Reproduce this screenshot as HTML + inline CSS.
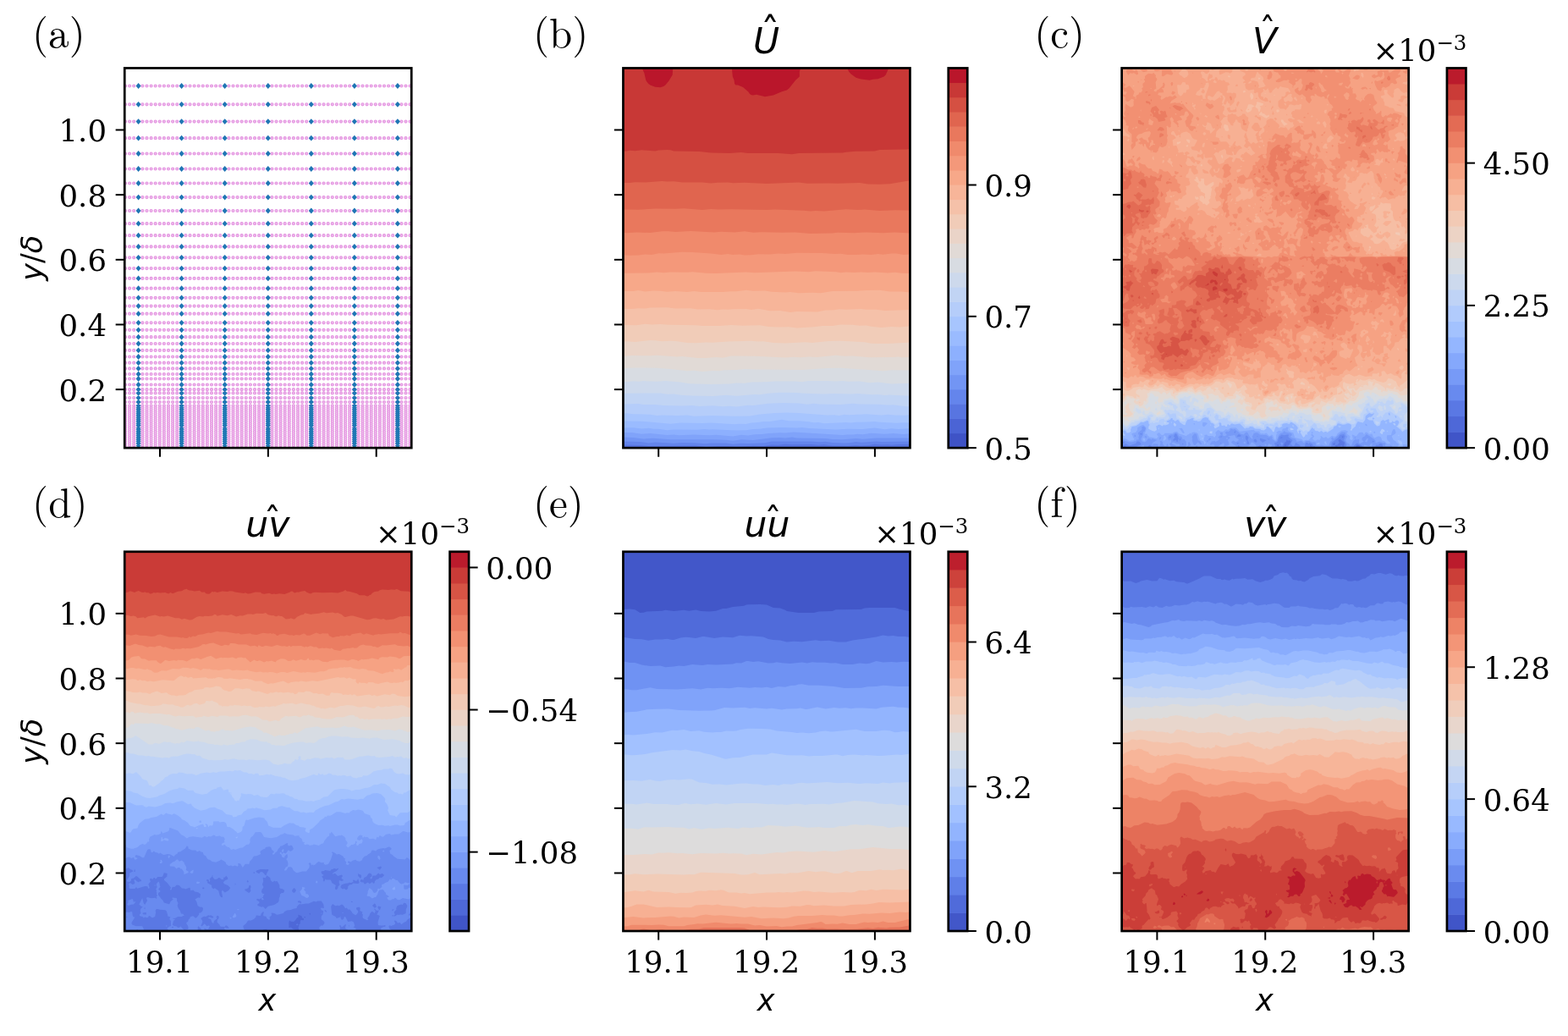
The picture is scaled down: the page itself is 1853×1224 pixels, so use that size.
<!DOCTYPE html>
<html><head><meta charset="utf-8"><title>figure</title>
<style>html,body{margin:0;padding:0;background:#fff;}svg{display:block;}</style>
</head><body>
<svg width="1853" height="1224" viewBox="0 0 1853 1224">
<rect width="1853" height="1224" fill="#fff"/>
<clipPath id="cb"><rect x="736.45" y="80.45" width="339.00" height="448.70"/></clipPath>
<g clip-path="url(#cb)">
<rect x="736.45" y="80.45" width="339.00" height="448.70" fill="#5875e1"/>
<path fill="#6485ec" fill-rule="evenodd" d="M736.4 80.4l339 0 0 444.4-13.9 .2-8 .7-4-.4-7.9 .3-8-.9-6 1.2-10 .5-6-.3-9.9 .6-18-.2-9.9-1.3-6 .5-10-.7-21.9 .3-8-.5-8 .9-8-.2-9.9 1.6-12-.4-19.9 1.1-10-.8-12 .1-13.9 .8-12-1.3-55.8 .3-10-.9-20-.6z"/>
<path fill="#7295f4" fill-rule="evenodd" d="M736.4 80.4l339 0 0 441-33.8 .7-6-.7-18 1.4-6-.7-7.9 1.2-6 .2-14-.5-8-1.2-5.9 .5-12-.7-45.9 0-7.9 1.6-20 .8-8-.3-9.9 1-8-1.1-18-.1-5.9 .8-14-1-14-.3-9.9 .8-22-1.3-7.9 .9-10-1.3-20-.7z"/>
<path fill="#80a3fa" fill-rule="evenodd" d="M736.4 80.4l339 0 0 437.2-39.8-.2-16 1.3-8-.6-15.9 1.2-12-.4-8-1-33.9-.5-5.9-.8-8 .9-6-.5-10 .2-21.9 2.8-14-.7-9.9 1.4-8-.9-14-.5-51.8 0-20-1.5-11.9 .6-12-1.4-12-.5z"/>
<path fill="#8db0fe" fill-rule="evenodd" d="M736.4 80.4l339 0 0 431.8-7.9 .9-12-1.2-10 .9-15.9-1-10 1.5-6-.5-6 .8-5.9-.2-6 .6-57.8-3.4-10 1-6-.4-14 .9-7.9 1-8 .1-8 1.3-8-.8-9.9 1.8-20-1.7-7.9 .5-18-.7-17.9 .6-6-.7-8 .4-19.9-1.9-10 .8-12-1.7-10-.1z"/>
<path fill="#9abbff" fill-rule="evenodd" d="M736.4 80.4l339 0 0 425.8-13.9 .7-8-.6-8 1-11.9-1.9-14 1.6-17.9-.2-14 .6-31.9-1.4-8-1-6 .4-17.9-.5-17.9 .6-8 1.3-8 .1-8 1.3-11.9 .3-28-1.2-3.9 .3-6-.6-8 .7-27.9-.2-8 .7-10-1.5-6 .1-5.9-1.1-8 .9-10-1.4-12 .2z"/>
<path fill="#a7c5fe" fill-rule="evenodd" d="M736.4 80.4l339 0 0 419.1-7.9-.3-8 .6-19.9-1.1-6-.8-8 .7-14 .2-5.9 .7-6-.4-25.9 1.1-6-1.3-6 .4-6-1.1-12-1-11.9 0-8-1.4-14 2.2-7.9 .1-6 1-8 .4-6.6 1.6-7.4-.4-5.9 .6-28-1.7-9.9 .5-26-.6-11.9 1.2-33.9-2.9-22-.3z"/>
<path fill="#b5cdfa" fill-rule="evenodd" d="M736.4 80.4l339 0 0 409.7-5.9 .6-12-.1-8-.8-7.9 .6-18-1.1-19.9 .9-6-.5-6 1.4-6-.9-8 .4-33.9-2.7-13.9-.3-14 .4-17.9 1.4-12 2.1-17.9 .2-26-.6-21.9 .6-8-1.2-11.9 .4-18-.3-6 .4-7.9-1.3-20-.4-8-1.1-4 .2z"/>
<path fill="#c1d4f4" fill-rule="evenodd" d="M736.4 80.4l339 0 0 399.8-3.9 .1-16-2.1-6 .4-11.9-.8-22-.2-8-.8-13.9 1.3-25.9-.5-6-.8-8 .9-10-1.3-17.9-.5-18 .9-17.9 2.1-6-.2-13.9 1.7-8-.6-8 .5-12-1-15.9 .6-8-.8-12 .4-21.9-.6-10-1-13.9 0-6-.8-18 .3z"/>
<path fill="#cdd9ec" fill-rule="evenodd" d="M736.4 80.4l339 0 0 387.4-23.9-1.2-6 .4-7.9-.9-6 .1-18-1.1-7.9 .4-20-.5-11.9 .6-24-.8-8-.9-19.9-.2-14 1-9.9 1.5-6-.3-21.9 1.8-12-1-16 1.2-23.9-.4-14-.7-7.9-1.2-8 .2-8-1.3-43.9 .2z"/>
<path fill="#d8dce2" fill-rule="evenodd" d="M736.4 80.4l339 0 0 372.4-21.9 .6-15.9-1.9-10 .7-12-1.7-13.9 .3-6-.7-8 .5-10-.7-21.9 .2-8 1.2-8-.7-23.9-.1-11.9 .8-16 .2-8 1.2-9.9-.1-8 .9-22 .4-25.9-.7-10-1.7-17.9-1.6-10 .8-15.9-.6-6 .7-6-.6-8 1-3.9-.1z"/>
<path fill="#e1dad6" fill-rule="evenodd" d="M736.4 80.4l339 0 0 357.2-21.9-.3-10 .9-49.8-3.4-16 .2-29.9 1.9-53.8-.3-14-.7-9.9 1-14 .4-6 1-8-.4-11.9 1.1-10-1.2-8 .4-19.9-2.3-16-1.1-25.9-.4-10 .6-4 .7z"/>
<path fill="#ead4c8" fill-rule="evenodd" d="M736.4 80.4l339 0 0 341.7-9.9 .1-4-.6-6 .5-27.9 .2-20-1.9-9.9 .4-10-1.1-21.9 2.2-10-.4-10 .8-7.9-.5-10 .7-35.9-1.8-27.9-.1-10 2.1-8-.8-11.9 1.2-10-.1-18-1.9-5.9 .3-24-1.7-7.9 .5-22-.1-10 .6z"/>
<path fill="#f1ccb8" fill-rule="evenodd" d="M736.4 80.4l339 0 0 324.1-25.9 1.6-11.9 0-8-.4-8-1.5-27.9-1.5-14 .4-19.9 1.9-8-.8-23.9 1.2-14-.3-11.9-1.9-6 .4-8-.8-27.9 .7-18 1.3-7.9-.2-12 .6-10-.3-13.9-2-6-.2-10 .6-8-1-5.9-.2-18 1.8-10-.6-4 .5z"/>
<path fill="#f5c1a9" fill-rule="evenodd" d="M736.4 80.4l339 0 0 304.9-11.9 1.3-10-.5-11.9 .8-12-1.1-6-1.2-8 .1-8-.9-13.9-.3-10 1.6-11.9-.1-10 1.3-20 1.1-9.9-1.1-12 .3-12-.6-9.9-1.7-20 .4-13.9-.8-14 1.1-19.9 .1-8-.9-31.9-.4-10-.8-10 .6-7.9-.9-10 1.6-16-.2z"/>
<path fill="#f7b599" fill-rule="evenodd" d="M736.4 80.4l339 0 0 285.6-29.9 1-9.9-1.3-12 0-6-.7-17.9 .7-8-.4-6 .9-10 .4-9.9 1.8-24-.4-7.9 1.1-12-2-12 .1-13.9-2.4-8 1.1-6-.9-15.9 .2-6 .5-6-.2-6 .8-9.9-1.1-14 .2-8-1.1-17.9 .3-10-1.3-19.9 .3-6 .9-8-.3-8 .9-10-.1z"/>
<path fill="#f7a889" fill-rule="evenodd" d="M736.4 80.4l339 0 0 265.1-9.9-1.1-14 .1-11.9-1.7-16 .1-10 .8-29.9 .2-13.9 2.3-10-.4-16 .4-9.9-1.1-6 .4-16-.7-7.9-1.3-14 .2-8-.9-11.9 1.5-6-.1-10 .9-25.9-.1-8-.9-8 .9-13.9-.9-10 .6-8-.9-8-.2-9.9 .8-8-1.4-6 1-12 0z"/>
<path fill="#f4987a" fill-rule="evenodd" d="M736.4 80.4l339 0 0 242.5-9.9-.1-8-1-8 .6-15.9-.8-8 .5-8-.6-8 .4-9.9-.4-6 .8-6-1.1-23.9-.9-8 .9-16-.7-47.8 1.8-10-.7-35.9 1.3-11.9-.1-16-1.5-6 .5-19.9-.3-8 .8-8-.8-9.9 1-30 .3z"/>
<path fill="#f08a6c" fill-rule="evenodd" d="M736.4 80.4l339 0 0 220.2-7.9 .3-8-1.3-6 0-10 1.2-5.9-.8-8 1.1-10-.5-8 .5-9.9-.2-8-1.2-8 .4-13.9-1-30-.4-13.9 1.3-8-.4-10 .9-13.9-.3-8 1-8 .2-6-.8-7.9 .3-6-.8-8 .8-12-1.4-21.9-1.5-12-.2-21.9 1.7-6-.3-7.9 1.7-8-.4-8 1-10 .2-8-.5z"/>
<path fill="#e9785d" fill-rule="evenodd" d="M736.4 80.4l339 0 0 195.1-17.9-1-14 .7-19.9-.8-14 .8-19.9-.5-6 .7-25.9 .6-18-1.6-15.9 .4-23.9-.6-10 .6-10-1.5-11.9 1.1-16-.6-8 .6-27.9-1.3-17.9 .9-8-.7-8 0-13.9 1.8-16-.6-12 .7-4-.7z"/>
<path fill="#e0654f" fill-rule="evenodd" d="M736.4 80.4l339 0 0 168.1-17.9-.2-17.9 .7-18-1.4-8 .4-13.9-.8-25.9 2.3-10-.5-6 .5-8-.8-33.9-1.2-9.9 .4-41.9-.7-16 .4-8-.6-9.9 1.1-22-1.9-9.9 .6-24-.3-19.9 1.3-18-.2z"/>
<path fill="#d55042" fill-rule="evenodd" d="M736.4 80.4l339 0 0 132.9-23.9 4-11.9 .4-14-.3-10-1.5-25.9 .9-10-.4-25.9 .4-10-1.2-37.8 1.3-26-1.2-13.9 .5-6-.6-12 .1-8 .7-9.9-.9-24 .1-9.9-1.4-8 .3-6-.4-19.9 1.4-12-.2-6 .7-8 0z"/>
<path fill="#c83836" fill-rule="evenodd" d="M736.4 80.4l339 0 0 95.5-3.9 .7-31.9 .4-6 1.6-22 .1-11.9 1-4 .9-51.9 .3-7.9 1.4-16-1.2-35.9 0-8-1-13.9 .8-22-.3-13.9-1.5-29.9-.5-4-1.4-4-.3-10 .7-4 .8-15.9-1.1-8 1-6-.6-3.8 .9-4.2 .1z"/>
<path fill="#ba162b" fill-rule="evenodd" d="M759.5 80.4l35.7 0-.5 8.1-4.4 7.3-4 4.6-2 1.5-4 1.4-6-.6-5.9-2.1-2-1.5-2.1-2.6-1.1-2-1.8-8-1.8-4zM864.9 80.4l81.5 0-1.6 4.1 .1 6-4.5 4-8 10-2.6 2-5.9 1.8-10 4.1-9.9 1.9-10-2.6-4 .9-2-.3-2-1.4-1.6-2.4-6.4-5.4-6-2.7-2.6 .1-1.3-1.4-.6-4.6-1.7-4zM1001.1 80.4l49.2 0-3.6 8.1-2.1 2-7 2.8-6 .5-4 1-12-1.7-4-1.4-5.9-4.1-2.6-3.1z"/>
</g>
<clipPath id="cc"><rect x="1325.65" y="80.45" width="339.00" height="448.70"/></clipPath>
<g clip-path="url(#cc)">
<rect x="1325.65" y="80.45" width="339.00" height="448.70" fill="#4e68d8"/>
<path fill="#5a78e4" fill-rule="evenodd" d="M1325.6 80.4l339 0 0 448.8-339 0zM1519.2 525.1l-1.1 1 1.1 .9 .8-.9z"/>
<path fill="#688aef" fill-rule="evenodd" d="M1325.6 80.4l339 0 0 448.8-59.4 0 2-1.6-1-1.5-1.6-.3-1.4 .3-.9 1.5 .8 1.6-51.8 0-2-1.6 .3-1.5-.4-.5-1.3 .5 1 1.5-.4 1.6-3.9-1-.4 1-22.6 0 0-1.6 2-2.2 1.8-3.8-1.8-1.6-1.4 .7-1.6-1.5-.6 2.4-1.8 1.5-1.6 3-.3 1.5 1.9 1.6-188.7 0 1.2-1.6-.5-1.3-4.6 2.3zM1508.7 525.7l1.5 1.9 1.2-1.5-1.2-1zM1513.2 517l0 .8 2.6-.7-1.2-.6zM1577.6 522.7l-2.7 1.9 1.3 1.4 1.4-.6zM1581.4 520.1l1.5 3-2.3 2.4-2.8 .6 .5 1.5 .9 .5 3-1 1.4 .3 1.6-1.3 1.4 1.5 1.5 .3 1-4.8-5.5-4zM1585.5 515.6l1.1 1.8 .7-.3 .3-1.5z"/>
<path fill="#779af7" fill-rule="evenodd" d="M1325.6 80.4l339 0 0 448.8-30.5 0-.1-3.1-.7-1.5-1.7-.5-1.5 .2-1.5 1.8-1.4-.9-1.2 .9-.7 1.5 1.7 1.6-2.3-.1-.5-.7-.6 .8-15.3-.1 1.3-1.5-.9-1.5-3.7-1.5-.4-.8-1.4-.1-3 2.7-.7 1.2 .7 1.6-11 0 2.2-3.1-1.1-3-2.2-3 1.5-4.5-1.4-2.5-4.6 .7-2 3.3-7.9 6-.5 5.1 3-.6 .9 1.6-11.8 0-2.7-1.2-2.6 1.2-6.7 0 .8-1.6-.5-.8-1.4 .2-1.3-2.4-3.3-1.6-1.4 1.7-.9-1.6-2.1 0-1.1 3 .4 3.1-6 0-.1-3.1-5.2-3-1.2 3-1.8 1.1-2.9-2.6 2.2-4.5-4.4-3-.8-1.5 .8-1.5-.9-.8-4.6 .9-3-.6-3 2.1-1.8 5.9-1.2 1.1-2.3 .4-.1 1.5 1.2 3-1.7 1.6-12.1-.3-4.4-2.8-3 1.7-.7 1.4-112.3 0 .4-1.7-2.5 1.7-9.7 0-.5-1.6-2.3-2.1-2.2 2.1 .9 1.6-16.2 0 4.1-2.8 2-.3 1.4-1.5-2-2.7-1.4-.5-1.6 .3-1.4 2.2-6 2.2-1.6 .3-4.4-2.3-4.6 2.9 0-4.9 1.6 1.5 1.4 .4 .4-.9-1.8-1.6-1.6-.2zM1348.2 511.7l-1 .9 1 1.1 1.4-.4 0-1.1zM1382.6 515.4l-1.1 1.7 1.1 .5 1.8-2zM1388.6 512.5l-1.5 3.1 1.5 1.5-2.7 3 1.3 .6 3.1-.6-.5 1.5 1.8 .4 .5-.4-.3-1.5 1.1-1.5-2.6-6zM1394.6 518l-1 .6 1 2.3 .7-2.3zM1397.6 523.7l-.5 .9 .5 .9 1.1-.9zM1442.6 515.4l0 1.9 1.8-1.7zM1459.2 509.4l-.8 1.7 .8 .9 1.3-2.4zM1463.6 513.1l-1.9 2.5 .5 .6 4.4-.6-.4-1.5zM1472.6 514.5l-.7 1.1 0 3 2 3-.4 3 2.1 .5 .5-2-1.8-3 1.1-3-1.2-1.9zM1483.2 518.5l-1.7 1.6 .3 1.5 2.8 1.4 .9-1.4-.3-1.5zM1484.6 515.5l1.6 .8 .5-.7zM1489.2 517.8l-.4 2.3 3.4 2.8 4.5-2.8zM1497 518.6l2.6 .9 1.7-.9zM1622.6 520.6l-1.1 1 1.1 1.2 1.3-1.2zM1441.5 523.1l1.1 .7 .9-.7zM1461.5 523.1l.7 1.9 2.3-1.9zM1463.6 525.5l-.7 2.1 .7 1 1.3-1zM1513.1 523.1l1.5-.5 1.6 1.2 .2 .8-1.8 2z"/>
<path fill="#85a8fc" fill-rule="evenodd" d="M1325.6 80.4l339 0 0 448.8-19.1 0-.3-1.6-1.6-1.6-1.4 1.1-4.6 .2-1-1.2 1.1-1.5-1.5-1.7-1.6 .4-4.4-1.6-4.6 1.8-.4-3.4-7-5.2-2.3-.8-.7-1.6-2.5 3.1-3 1.5-.2 3 2.2 1.5-4.1 2.3-1.6-.8 .2-4.1-3 .6-1.6-.6-2.7 2.6-1.7 4.6-1.6 .3-1.2-1.9-2.7-1.5-1.5-3 2.1-4.5-1.1-.7-1.2-2.3 .4-1.5-3.8-.7-1.4 .4-7.6 7-1.4 .5-1.6-1.8-.9 .6-.5 1.5 1.2 1.5-2 1.5-2.2 5-4.6 .2-4.4-1.2-1.6 1.2-3-.2-1.4-.8-.6-1.2 .6-1.5-3-.9-1.6 .4-3-1.7-4.4 .2-1.6 2.1-1.4-.2-1.6-1.7-1.4-.6-4.6 1.3-1.6-3.4-5.2-1.5-.8-1.5 1.7-1.5-.2-1.5-1.3-.9-6-1.2-1.6-1.5-1.4 2.2-3 .9-1.8 2-2.8 6.7-1.4 .7-3.9-2.9 .3-1.5-1-1.8-3 .9-3-2.2-7.4-.3-3-2.2-1.6-.3-3 .8-.6 2.1-1.4 1.5 .9 1.5-.3 1.8-3-2.4-3-5.6-1.6-.4-3 2.9-3.7-.8-6.7-5.9-1.6 .9-3-1.2-.6 .2 .1 1.5-1.6 1.5-.9 .6-1.5-.7-2.6 1.6 2.5 3-2.8 1.1-1.6-.3-.7-.8-.1-3-3.3 0 1.3 3-1.6 .7-1.7 2.3 2 1.5-1.3 1.5-3.6 1.8-1.4-1.2-1.6 .8-1.4-.2-2.1 3.3 .5 1.1 3-.9 1.7 1.3-.1 2.3-1.6 .7-3-1.8-1.5 1.9-9.3 0-1.2-1.1-1.4 .1-.5 1-1.9 0 .8-1.6-1.4-1.4-1.4 1.4-.3 1.6-12.1 0 1.7-3.1-.5-4.5-2.4-2.8-1.6 .7-1.4-3.7-3-.2-1.4-3-1.6-1.3-1.6 .1-3 2.2-1.4-.4-2.8 .9-1.6 3 1.4 3.7 1.4-1.2 1.6-.1 0 3.2-2.2 1.9 3 4.6-8.6 0 1.8-1.4 1.4 .4 1-.6-.5-3-1 0-.9 2.4-1.6 .3-2.7-2.7 .5-1.5-2.2-2.7-1.6 1.2 1 1.5-1 3-1.4 1.9-.9-3.4-.7-.2-4.4-.2-.7 .4 0 1.5-.9 .3-.2-1.8 1-1.5 3.8-2.7 1.4-.3-6-1.8-1.4 1.4-.7-1.1-2.3-.7-3 3.9-1.6 .6-3-1-.8-1.3-.5-1.5 2.5-4.5 .4-4.2 1.4-.2 1.2-3.1-.6-1.5-2-1.6-2.2 1.6 .7 1.5-.6 1.5-3.9 3-.4 1.5 1.3 1.5-.7 3 .5 1.5-.7 1.2-1.6-.5-1.4 2.1-1.6-.2-1.4 1-4.6 .3-9-3.1zM1340.6 513.6l0 2.4 1.6-.1-.1-1.8zM1370.6 516.2l-.5 2.4 .5 1.2 1.8-2.7-.2-.6zM1405.2 521.7l-1 1.4 0 3-1.3 1.5 .7 1 3.7-2.5zM1411.2 512.4l-2.3 3.2-.2 1.5 .6 1.5-.6 1.5 1.5 4.5 1 1.4 1.4 0 3-3.7 3 2.9 1.6-.4-1.7-3.2-2.8-1.5-1.5-6.6-.9-.9zM1426.2 520.4l0 1.7 1.8-.5-.4-1.4zM1429.2 517.2l-1.5 2.9 1.5 .5 2.1-2-.7-.9zM1601.6 516.6l-1.4 .5 1.4 1.1 .7-1.1zM1352.6 515.6l1.6 2 1.1-.5-1.1-2.2zM1459.2 514.1l1.4 3.3 2.7 1.2 .6 1.5-3.3 2.1-3-1.7-2 1.1-.5 1.5 5.5 3.8 .2 2.3-4.6 0-1.6-1-1 1-14.1 0 .1-1.8 6-3.9 1.3 1.1-.7 3 1 1.3 1.4-1.6 3.8-1.2-.2-3-1.3-3 .8-1.4 1.5-.3 .3-1.3-.3-.8-2.6-.7zM1450.2 516.5l.9 2.1-2.5 0zM1468.1 517.1l.4 0 .2 1.5-.5 .6zM1615 518.6l1.6-.7 .4 .7-1.8 4.1-2.2-1.1zM1470.9 521.6l1.3 1.5-1 1.5-2.1-1.5zM1384.5 523.1l2.7-.6 3 1.8 3-.1 1.4 1.9-1.4 1-3 .5-1.1-1.5-3.5-1.2zM1478.2 523.1l2-.5 4.3 3.5-.4 3.1-8.7 0-1.2-1.2-2.2 1.2-6.1 0 .7-1.6 1.6-.4 6 .2 1.4-.7 2.4-2.1zM1494.6 524.6l.6-.3 1.7 1.8-1.7 1zM1499.6 523.8l1.6 1.4 1.4 0 .8 .9-1.2 1.5 .8 1.6-4 0-1.3-1.6zM1619.6 524.6l1.6-.5 1.1 .5-1.1 1.5 0 1.9-1.6-.8-1.4 .5-.7 1.5-2.9 0-1-.6-1.4 .4-.8-1.4 .8-2.2 6 2.2zM1351.2 525.6l.5 .5 .9 3.1-7 0zM1388.4 529.2l1.8-1.5 1.6 1.5zM1538.2 529.2l2-1.2 .5 1.2z"/>
<path fill="#94b6ff" fill-rule="evenodd" d="M1325.6 80.4l339 0 0 447.1-1.4-2-4.6-.4-.8 1-.1 3.1-5.4 0-.8-1.6 1.6-1.5-.3-1.5-2.4-1.5-.8-1.6-3-1.8-1.9-4.1 .5-.9 3.6-2.1 .9-1.5-1.5-4-1.6 .1-1.4 2.4-1.2 4.5-4.8 .2-.4 2.8 .8 3 3.5 3-.9 1.3-3-.2-3-3-3-.6-1-3.5-2-1.5-1.6-.2-4.4 2-1.7-1.8-1.1-3-3.2 .6-3-2.6-1.9 .5-1.1 2.3-1.8-2.3-1.2-.4-3 .2-3 4.1-1.6 0-3-1.5-.9 .6 1.2 4.5-1.7 1.4-2.3-1.4 .7-3-3.8-3 1-3-3.2-1.3-4.4 .4-4.6 3.5-1.4 2.7-1.6 .9-1.4-.1-1.6-1-1.4 .5-3 2.6-1.6 0-1.4-1.9-3 1.5-3-2.3-.8 .5 .6 1.5-1.4 2.7-3-.2-1.4 .9-1.6 0-2.6-1.9 2.1-3-2.4-3 1.1-1.5-1.2-.9-1 .9 1 1.5-1.6 1.5 1.8 1.5-.2 .9-1.4 .1-1.2 2-1.8 1.3-3-.1-3 1.1-1.6-1.8-8.3-2-2.1-5.9-5.2-1.6-1.3-1.5 .9-3-2-.7-1.4 1.5-3.2 .7-1.4 3.1-3-1-3 1.7 0 1.8 1.6 .4-1.6 .5-.4 1 0 3-1 3.1-1.6-1.8-1.4-4.4-1.6-.5-1.4 1.2-1.6 0-3-3.2-3 1.3-1.4-.8-1.6 .6-2-1.5 0-1.5-5.4-.2-1.6-1.6-16.4 2-4.6-4.5-1.4 0-4.6 .2-2.1 1.1-.9 1.4-3-.7-3 2.4-3-.1-3.1-1.5-3.2 3 .8 3-1.9 3-1.6-1.8-6-.4-1.4-1.5-2.9 .7 .3 1.5-1.1 4.5 2.6 3-1.9 2.2-.6-3.7-4.4-1.5-2.6-7.8-1.4-1.1-3-.6-2.9 .5-.1 1.8-1.6-1.5-1.4 1.7-2.5 1-.5 1.1-9-3-1.6-2-1.4-.4-3 .8-1.6 1.2-9-.1-1.4 2.1-1.6 .1-1.4-.1-1.6-2.4-1.4-.1-1.9 1.3 .1 1.5 1.4 1.5-1.2 2-1.4 .4-4.6-1.3-3-.1-2.7-2.5-.3-1.5-3 .1 1.9-4.6 .1-3-3.4-3-1.6 .1-5.3 2.9-.2 3-2 3-2.9 .4-2.1 1.1 1.7 3 .1 1.5 1.8 1.5-1.5 2-1.6-.3-3 .8-4.4-2.8-4.6-.1zM1411.2 499.9l-.8 .7 .8 1.3 .9-1.3zM1421.6 498.8l-.7 3.3 .7 1.6 1.6 .2 3.5-3.3-.5-1zM1613.6 500.5l-.3 1.6 1.9 1.5 .6-1.5zM1624.2 509.6l-1.2 1.5 1.2 .8 1.3-.8zM1654.2 518.6l1.4 .6 .3-.6-.3-.5zM1392.7 506.6l1.9 .7 3 4.2 1.6 .4 .5-.8-2.4-4.5-1.1-.9zM1479.3 511.1l.9-.6 .3 .6-.3 .8zM1375.2 514.9l1.4-.3 1.6 2.5 0 1.6-3 2.2-.6-.8 .8-3zM1350.3 518.6l.9-1.3 1.4 .6 .7 .7-.1 1.5-.6 .7-1.4-.2zM1565.6 521.6l1.8 0-.2 1.5 1 1.5-1 .8-2.2-2.3zM1557.3 523.1l2.3-.3 .1 1.8-3.1 .6-.6-.6zM1425.1 524.6l2.8 0-.3 .8zM1646.3 524.6l.9 1.5-.6 .5zM1347.9 529.2l1.7-.5 1.3 .5zM1443 529.2l1.2-1.1 .7 1.1z"/>
<path fill="#a3c2fe" fill-rule="evenodd" d="M1369.2 504.8l-.6 1.8 .6 1.2 .9-1.2zM1384.2 497.9l-.7 1.2 .7 1.1 1.1-1.1zM1430.6 501.5l-.8 .6 .8 1.2 .9-1.2zM1528.2 501.9l-.8 .2-.3 1.5 1.1 1 1.2-1zM1582.2 502.5l-1 1.1 1 1.4 1.4 .3 1.8-1.7zM1606.2 504.4l-.6 .7 .6 .6 1.2-.6zM1637.6 498l-.9 1.1 .7 1.5 1.8-.2 0-2.2zM1639.2 508.8l-.6 .8 .6 .9 1.4-.9zM1416.1 508.1l1.1-1.2 .6 1.2-.6 .9zM1618.4 509.6l1.2-1.1 1.2 1.1-.5 1.5-1.7 0zM1418.3 512.6l1.9-.2 1.1 1.7-1.1 .7zM1652 514.1l.6-.4 1.4 .4-1.4 1.2zM1420.6 517.1l1-.3 0 2.1-1.6-.3zM1651.7 520.1l.9-.2 3.8 1.7 .7 1.5-.2 1.5-1.2 1.5-2.8-3z"/>
<path fill="#b1cbfc" fill-rule="evenodd" d="M1325.6 80.4l339 0 0 426.7-4.4 .8-3 2.4-1.6-2.4-5.7-4.3 1.3-.4 1.6-2.6 .6-1.5-.8-1.8-1.4-.9-1.6 .4-1.4 1.6-1.6-.1-1.4-.7 0-1.8-.3 3.3-2.7 .4-.8-1.9 .4-1.5-1.2-.8-4.4 1.9-1.6-1.1-1.4 .6-1.4 .9-.5 3-1.1 2.4-3 .4-3-2.8-1.6-4.1-4.4-.1-2.8-1.8 2.8-2.2 1.4 .3 1.6-.7 3.1-3.4-1.7-.1-1.4 .8-3-1.2-4.4 3.5-.5 4.5-2.7 3.3-6-1.3-2.4 4-.1 1.5-3.6 3-1.3 2.5-1.7-1 1.2-1.5 .2-4.5-2.1-1.5-2.2-.4-3 1.3-3 .2-4.4-1.4-1.6 .1-1.4 2.8-2.1 .4-.9 1-.7 2-6.9 4.4-1.4-1.1-1.6 0-1.4 1-3-2.2-1.6 1.7-3-1.5-1.4 .3-1.9-1.1 .3-1.8-1.4 .5-1.6-1.8-3.1 4.6-2.7 1.5 .1 3-1.7-1-1.6 2.9-1.4 .8-3.6-5.7 .9-1.5-.3-.5-1.6-.7-1.2 1.2 .6 1.5-.8 1.3-1.7-4.3 1.1-1.5 .1-1.5-2.5-3.1-4.6-2.9-1.4 0-1.6 2.1-3-1.2-3.8 .6-2.3 1.5 1.1 1.5-4 2.2-3-1.7-1.4 .6-1.6 5.6-1.4-.1-1.6-2.6-4.4-3.6-1.6-.1-.2 2.7-2.8 2-3-.6-1.4-1.2-6-.3-3-2.2-3-.3-1.6 1.4-3 0-1.4 1-6-6-6 1.2-3-1.2-1.2 .2-1.8 2.2-1.6-1.5-1.4 .4 0 2-1.6 .3-1.4-1.6-3 .7-1-1 .2-1.5-.8-1.1-1.4-.2-.9 1.3 .8 1.5-.2 1.5-4.3 2.3-1.4-.1-.7-2.2 .7-1.1 1.5-.4-1.5-.1-1.6-1.8-3-.9-.3-1.7-1.9-1.5-.8-2.3-3-.8-3 1-3 3.4-3 .7-1.4-1.1-1.6 .3-3-1 1.4-1.7-1.4-.5-1.4 .1-3 1.5-1.6-.1-2.1 3.5-.9 3.2-1.9-.2-4.4-3-1.1-2.3-1.6-.7-3 1.6-1.4-1.5-1.7-.1 .6-1.5-1.9-.6-1.6 2.1-4 1.5 1 1.3 1.8 .2-.2 1.8-1.6 .9-3 .6-1.4-.5-1.6 1.5-3-1.7-2.2 .4-.8 1.2-1.4-.3 .8 5.1-2.4 1.6-3-.7-4.5-2.4 .4-3 1.3-1.5-1.3-1.5-.3-3.1-1.6-.4-4.3 2-3.1-.3-3 2.8-3 1.7-4.6 .8-1.6 4 .5 1.5-1.9 1.7-3 .3-1.4-2.9-1.6-.1-1.4 .9 1.4 3.6 1.4 1-1.4 .9-1.8-.9-1.2-1.8zM1640.7 488.5l.4 1.6 1.1 .9 .6-.9-.6-2.5zM1649.6 491.3l-1.3 .3 1.3 2.4 .9-.9zM1622.6 493.3l-.7 1.3 .7 1.2 2-1.2zM1387.2 499.5l1.4 .6 1.7 2-1.7 1.8-1.9-1.8zM1645.9 500.6l2.3-.8 1.4 2.3-1.4 .7zM1524.4 506.6l.8-1 3 1 .5 1.5-3.5 .1zM1633 506.6l3 1.5 .5 1.5-.3 .7-1.6-.2-.6 2.5-.8 .6-2.7-2.1zM1430.1 509.6l2.7 0-.6 3-3-1.2z"/>
<path fill="#bfd3f6" fill-rule="evenodd" d="M1325.6 80.4l339 0 0 419.7-.9 .5 .5 3-1 1.3-1.6-.3-.4-1 1.4-1.5-1-1.3-1.4-.1-1.6 .4-.7 2.5 .7 1.2 2.6 .3-.9 1.5-3.1 1.7-1.6-3.1-3-1.1-.2-.5 1.8-2.8 3.8-3.2-.7-1.5-1.7-.8-4.4-4.6-3-1-6-4.3-3 2.1-1.6-.3-3.7 4.4 .7 1.7-1.4-.2-1.6-2-1.4 1.4-3 .8-.6-1.7 2-1.1 .6-1.9-1.6-1.5-1.9-4.5-6.1-.2 0 2 3 .4 1 .8-2.4 1.8-1.6-.2-2-1.6-1.2-1.5 .2-2-1.4 .3-1.4 1.7 1.9 3-.3 1.5-1.8 0-2.3 1.5 .3 1.5-1 4.1-6-.4-3-1.3-1.3 2.1 1.6 1.5 .3 1.5-2 2.1-1.6 .1-7.4-2.4-3 1.7-1.6-.2-2.6-1.3-1.8-1.9-2 1.9-1 3.1-3 .6-1.6 2-1.4-.3-1.1 .6-2 1.5 .5 1.5-2 1.1-3-1.1-1.4 .3-3-3.5-3 1.4-1.6-.8-.7-3.4-2.3-2-1.4 .4-1.6 2.1-2 1-.6 3-1.8 2.8-3-1.2-3 1.8-1.6-2-3.3-1.4 .3-1.5-1.1-1.5 .7-1.5-2.6-1.1-1.4-1.6-3-.2-3-1.9-1.6 2-1.4-1.1-3 .2-6 2.5-.6 1.2 .8 1.5-1.8 .8-1-.8-.4-3.2-1.6-1.4-2.4 1.6-.6 1.5-4.4-1.2-1.6 1.1-1.4-1.2-1.6-.1-2.4 1.4-.6 4.6-1.4-1-4.6-1.2-3-.3-1.4 1.1-3-2.8-9 1.3-.3-1.7-2.2-1.5 .9-1.7-1.4-.8-4.6 1.5-3-1-3 .9-6-2.2-1-1.2 .2-1.5-.6-.7-1.6 .7-3-.7-1.4 1.4-4.6-.3 .6-3.4-2-2-1.4 .5-1.9 3 1.3 1.5 .4 2.1 3-.1 .5 1-.5 1.6-3 1.8-4.9-3.4-2.5-3-.3-1.5-1.3-.9-1.4 .1-1.6-1.8-1.4-.5-1.6 1-.6 2.1-2.4 1.8-6 .9-1.4-2.4-3-2.4-1.6 .1-1.4 2.2-3 .5-1.3 .8-.3 3.3-4.4 .1-1.6-.5-1.4-2.6-2.8-.3-.9-6-3.8-.2-1.5 1.1-1.6-.2-1.4-2-1.9 1.3 2.8 4.5-.3 1.5-3.6 2.1-1.6 .2-1.4-2.2-5 1.4-1 3.1-3-.2-3 1-1.6-1.3-1.4 1.4-1.6-1 .7-4.5-2.1-2.3-.6 2.3-1 1.1-4.4 2.1-3-.2-6 4.4-6 .9-4.6 5.2-1.4-1.7-1.5 0-3.1 2zM1367.6 495.1l-.6 1 .6 .7 1.2-.7zM1399.1 474.7l-1.3 .4 1.4 2 .4-.5zM1402.2 482.2l-.7 1.9 .7 .6 .7-.6zM1427.7 485.5l-1.3 3.1 1.2 1.8 2.5-3.3-.9-2.2zM1430.6 489.4l-.7 .7 .7 1.9 .7-1.9zM1492.2 499.4l-.6 1.2 2 1.2 .6-1.2zM1537.2 501.4l-1.4 .7 .2 3 2.6 .6 1.9-2.1-.3-1.5zM1577.6 494.6l.1 1.6 .7-1.6zM1584.7 493.1l.5 1.6 1.4-1.6zM1616.6 477.6l-.5 .5 .5 .9 1.5-.9zM1398 481.1l3.7 0-1.1-1.1zM1631.3 494.6l1.9-1.2 0 1.2zM1625 497.6l.6-.3 4.6 1.5 0 .9-3 2.6-1.3-1.7zM1375.4 499.1l1.2-1.1 1.1 1.1 .1 1.5-1.7 0zM1499.3 503.6l.3-1.4 1.6 1 2.9 .4-.4 1.5-1.1 .4-1.4-.3z"/>
<path fill="#ccd9ed" fill-rule="evenodd" d="M1325.6 80.4l339 0 0 400.5-1.4 .2-6-4.5-1.6-.1-.5 1.6 1.6 1.5-1.1 2-1.8-.5-1.1 1.5-.3 3-1.2 2.6-1.6 .5-1.4-1.6 .3-1.5-3.3-2.3-1.6-2.6-1.9-1.1 1.4-1.5 2.1-.1 2-1.4-.6-2.5-1.4-2-1.6 2.2-3-1.8-1.7 1.1-1.3 2.9-1.4 .6-1.6-.8-1.4-2.1-1.6 .7-3-.8-1.2 2.5-4.8 3-1.2 1.5-2.1-1.5-1.1-4.3-4.8 2.8 .8 1.5-2 1.6-2.3 5.9-2.3 1.8 0 4.3-7.4-1.2-3 .3-1.9 .8 2.1 3-3.2 2.2-2.1-.7-2.1-4.5-3.4-2.4-4.4 2-1.3-2.6-1.7-1.1-1.6 .5-3 4.6-2 .5 .6 1.2 5.7 1.8-.3 3-1 1-4.4 1.4-1.6-2.3-3 .6-1.4 3.7-1.6-.3-1.4-2.9-3 .4-1.6-2.2-3 .3-4.4-1.5-2.6-2.7-2 .9-1.4-.9-1.6 .3-3-1.7-.5 1.4 3.5 3 1.7 4.5-1.7 1-.9-1 .3-3-.8-.9-1.6 1.1-3-1.6-1.6-.1 1.6-.1 0-3.7-3-.1-1.3 .9 .3 3-2 .3-1.4-1.6-3-.1-1.6-1.5-3.9-.1 .9-1.9-1.4-.5-.9 .9 .7 1.5-1.4 .8-6-.3-2.9 .9-1.5-.4-3 .7-1.6 1.5-3 .7-4.4-.6-3-1.9-4.6 .6-1.6 1 2.1 3-3.5 1.1-2.1-1.1-.9-1.7-1.4 1.1-1.6-.4-1.4-1.8-6 2.3-3-.9 .2-4.6-1.8-.8-3 .8-3 2-1.4-1.3-6 1-1.6-1.6-1.5-.1 1.4-4.5-2.9-2.2-3 2.9-4.4 1.3-1.2-.5-.4-2.6-1.4 0-3-2.5-1.6-.1-1.4 1.4-1.3-2.2 1.3-.8 0-1.2-4.6-3.5-4.4 .6-1.1 3.4-2 0-2.9 5.6-1.6-.4-1.5-2.2 3.7-3-2.2-.9-6.2-.6 .2-1.5-1.4-.8-1.7 .8 1 1.5-5.3 .3-1-1.8 2.1-1.5-.2-1.5-3.3-1.5-1.5-3 .5-1.5-5.6-1.8-1.6 .3-.2 9 2.3 4.5 .9 .4 1.6-1.5 2.4 2.6-.1 4.5-.9 .7-1.4 .5-1.1-2.7-1.9-1.9-1.6 0-1.4-1.8-3-1.1-.8-1.2 2.6-3-3.4-3.2-3-.6-1.4-2.1-1.6-.2-3 1.6 4.6 2.4 1.4-.2 .9 .8-.4 1.5 1.9 3-.8 1.4-3-1.2-3-.3-1.6 .9-3-1.1-.7 1.8 2.2 4.5-1.5 2.4-3 .9-4.1-.3-.3 1.6-1.1-1.6-.7 0-1.2 .6-1.6 3.2-3-.1-1.3-.7 .5-1.5-1-1.5 .4-.5 1.4 .3 1.5-1.3-1.5-2-1.4 0-4.6 1.8-.3 1.7-1.1 1.2-1.6-.6-7.4 3.5-4.8 .4 .2 1 1.6 .6-4.6-.2-6 5.7-3.2-1.1-1.2-2-1 .5 .1 1.5-.7 .3zM1534.2 492.7l-.6 .4 .6 1.3 .6-1.3zM1537.2 491.3l-1.1 1.8 1.1 1.1 1.4 0 .9-1.1zM1629 476.6l1.2-.9 1 .9-1 1.1zM1630.2 478.5l4.2 2.6-.9 1.5 1 1.5-.4 1.5-2.5 .2-3-3.2-.5-1.5zM1636.2 478.6l1 1 .9 3-.5 1.7-2.7-.2 .7-1.5-.9-1.5zM1653.1 484.1l2.5-.9 1.5 .9-2.9 1.8-.8-.3zM1664.5 485.6l.1 6-1.4 1.5 1.4 2 0 2.8-1.4 .5-1.6-1-1.4 .3-1-6.1 1.8-3zM1656.7 488.6l3.2 0-1.3 .6zM1410.1 490.1l2.5-1.2 2.2 1.2 0 1.5-2.2 1.7zM1391.6 491.6l1.6-.2 3 1 1.2 2.2-1.2 1.3zM1417.1 491.6l2 1.5-1.9 .6-1-.6zM1653.9 491.6l1.7-.5 .9 .5-.3 1.5zM1378.5 494.6l1.1-1.3 .5 1.3zM1586.1 499.1l.5-.9 1.6 .9z"/>
<path fill="#d7dce3" fill-rule="evenodd" d="M1325.6 80.4l339 0 0 398.3-6-2.7-3-2.1-4.4 1.9-1.6 0-2.9-5.2-4.5-2.9-2.1 2.9-2.5 1.5-1.4-2-3 1.6-3-.4-3 2.1-1.6 2.4-1.4-.2-1.6-3.8-1.4-1.2-1.7 0 .7-1.5-5-1.6-.2 1.6 2.3 3-3.7 .7-.7 2.3-.7 .7-1.6 0-1.4 1.7-4.6 .6 1.1 3 3.7 3-.4 1.5-2.3 1.5-.5 3.1-1.6 .8-3-.3-3-2.5-6 1.2-.4 2.2-1 .7-2.1-2.2 .6-1.9-4.5-.6-1.6-1.3-3 .5-1.4-1.3-1.6 .5-3-.7-.5 .3 .6 6-3.1 2.2-1 3.8-.4 .6-3.1-.7-2.9 1.4-3-1-1.6 .4-3-1.3-3.1 .6-3.8-4.5 .4-1.5-.9-1.3-1.6-.8-3 1-4.4-2.5-4.6-.5-1.4 1.9-2.6 .7-.4 .8-1.6-2.9-3-.7-3.9 2.8-.5 1.7-3 .7-1.6 1.8-1.4-.1-1.6-1.8-2.4 .7 1 1.5-1.6 1.3-1.4-1.5-6-.4-1.8 .6-1.2 3-1.6-1.8-3 1.1-6-.5-2.4 1.2-.6 3.6-2-2.1 .1-1.5-2.1-1.5-5 1.5-1.3-1.5-.1-3-1.4 1.5 1.2 1.5-1.4 1.3-1.4-.1-3-4.1-1.6-.7-1.4 .8-1.6-2.1-1.4 2.8-2 .6-.6-4.5-2-.8-1.4 4.7-3-5.2-3-.9-1.6-1.8-4.4 4.9-1.2-3.9-1.8-.3-3-2.1-1.6 .9-2.2 0-9.7-9.4-3.1 .4-1.4 1.5-.2 4.5-2.8 .6-3-.4-.4-1.7-1.2-.9-3-.3-3.1-1.8 1.5-1.5-.1-1.5 1.7-1.2 3 2.1 1.1-2.4-1.5-1.5-4-2.4-1.6-.2-1.4 5.2-2.2 .4-.3-4.5 2.3-1.5-1.4-1.7-4.4 2.2-1.6-1.8-3 2.1-3-.1-.8 .8-.6 5.6-1.6 1.2-4.4-2.1-.5-1.7-2.5-1.4-7.6 1.3-1.4 3.1 3 2.5 3.5 .5 .4 1.5-.9 .7-1.6-2-1.4 1.4-1.6-.1-2.4-1.5-.6-1.7-1.2 .2 .6 1.5-1.6 3 .8 1.7 1.4-.7 .6 .5-.2 1.5 2.2 3-2.1 1.5-6.5 1.9-7.4-5.8-1.6 .3-1.4 1.9-3 1.4-1.4-1.2-.2-2.5-1.4-.8-1.4 1.8 .1 1.5 1.3 2.5 1.4-.3 .8 .8-3.8 .9-3-.5-1.4 3.2-4.6 .5-1.4 1-1.6-.5-3 3.3-1.4 2.9-3 .1-3-2.9-1.6-.4zM1342.2 482.2l.1 3.4 2.9 2.9 3-.2 1.3-1.2-1.3-1.5 0-1.7-1.6 .3-1.4-.6-1.6-1.7zM1360.2 470.5l-.7 1.6 .7 .5zM1420.2 470.1l-.7 .5 .7 .8 1.7-.8zM1447.2 483l-.6 1.1 .6 .7 1.8-.7zM1448.6 480.2l0 1.5 1.6-.1 0-.7zM1625.1 467.6l.5 1.3 .8-1.3zM1366.2 481.6l-1.2 2.5 1.2 1.1 1.2-1.1-.1-1.5zM1648.2 478.7l.9 .9 .3 1.5-1.2 2.5-2.9-2.5zM1527.4 491.6l2.2-.4 1.3 .4-2.7 3.3-.7-.3zM1475.9 499.1l1.3-1 .3 1z"/>
<path fill="#e2dad5" fill-rule="evenodd" d="M1325.6 80.4l339 0 0 395.2-3-1.7-3 .1-2.9-3.8-3.1-.2-1.4-3.1-4.6-1.1-1.4-1.5-4.6 .8-1.4 2.4-1.6-.4-3 1.3-3-.8-1.4 .7-1.6-1.6-6-3.2-2.3 1.1 .9 1.5-1.6 .7-1.4-3.3-3-.9-3.4 2-.3 1.5 1.5 3-5.4 2.9-1.4-.3-.7 .4 .2 1.5-1.1 .9-6 2.4-1.2 2.7-1.8-1-4.5-.5-.4 3-2.5 5-1.6-1.3-.8-2.2-3.6-2-1.6-.1-3.1 3.6-2.9-.3-1.4 1-3.7 5.3 2.3 1.5-1.6 4.1-4.6 0-1.4 1.2-1.6-.2-.4-.6 1.6-1.5-2.8-4.5-2.8-.9-4.6 2.1-3.6-2.7-.8-4.5-3-.7-1.6 .7-4.4-.2-1.6 2.1-1.4-1.5-1.6 .3-1.4 2.5-1.4-.2-.2-1.5-3-.5-2.4 .5 .6-1.5-1.2-.6-3.3 2.1 .3 1.5-1.4 1.7-4.6-1.4-1.4 .4-.8 2.3-.8 .5-3 0-1.4 1.2-1.6-.1-3 1.2-6-.8-3 3.2-7.4-.6-1.6-1.3-1.5 1.1-2.9 .3-1.6-1.9-3-1.2-4.4 .1-4.7-1.7-1.3-.6-1.6-2.1-3 .6-2.9-3.9 .6-3-5.1 .2-3.1 1-.6-1.2 3.7-2 1.4 .1 1.1-1.1 .2-1.5-1.3-1.2-3 .5-1.4-3.5-3 .5-1.6 2-3-.1-1.4 2.3-1.6-.6-2.5-4.4-1.9-1.2-1 1.2-3.1 1.5-.5 1-1.4 0-3-1.5-1.6 1.3-4.4 .9-1.1-1.7 1.6-3-2.1-2.5-6-2.2-1.4 1.5-1.6 0-1.4-1.7-1.6-.6-4.4 1.1-1.6-1.9-3-.1-6 1.5-3.6 3.4 1 3-.4 2.3-.6-2.3-.8-.7-1.6 1.2-6-2.8-3 1.5-3 0-1.4 .7-1.6 3.3-4.2-.2 1.2 .5 0 1.3-.9-.3-1.5-3 1.1-4.5-1.7-.9-3 .2-1.4-2.5-3-1.7-1.7 1.9 .1 1.5-1.4 3 0 4.5-3 3.3-1.7-.3 .8 3 2.3 2.2 1.6-2.3 1.4-.4 1.3 2-2.7 2.3-3 0-3-3-4.6 .2-1.4-2.7-4.6-.9 .2 2.6-2.1 4.5 2.7 1.5-1.3 1.5-.9 4.6-3-.2-3 1.1-.5 .5 1.9 2 0 1.3-1.4 .1-1.6-1.4-1.4 1.3-1.7-3.3-1.3-.7-1.6 1.1 0-7.7 .7-.2-.7-1zM1330.2 474.7l-1.3 1.9 1.3 .9 .8-2.4zM1468.2 482.5l-2.2 1.6 2.2 2 1.1-2zM1498.2 486.5l-.5 .6 .5 1 .5-1zM1570.2 479.4l-3.3 1.7 1.7 4.1 3.5-2.6 .7-1.5zM1574.6 479.4l-.6 .2-.1 1.5 .7 1.2 1-1.2zM1365.2 475.1l1-.9 .7 .9 .1 1.5-.8 .9-1.1-.9zM1434.6 478.1l3.6 0-3 .7zM1368.4 479.6l.8-1.3 .7 1.3-.7 .6zM1417.9 479.6l2.3 0 .5 1.5-.5 .3zM1600.2 480.6l.7 2 3.9 3-1.2 1.5 .2 1.5-2.2 .2-1.4-1.2-6.6-.5 4.5-3zM1370.5 485.6l1.3 3-4.2 1.7-1-1.7zM1342.6 491.6l1-.5 .3 .5-.3 .7z"/>
<path fill="#ecd3c5" fill-rule="evenodd" d="M1325.6 80.4l339 0 0 381.7-1.4 1-.5 1.5 1.4 1.5-8.5 1.5-4.4-4.3-9-1.8-1.6-1-1.4 2.3-4.6-.9-1.4 1.5-1.2-.3 .3-1.5-.7-1.2-3 .2-1.4-3.1-1.6-.2-1.4 .6-3 3.3-4.5-1.1-4.5 1.2-1.6-.6-1.4 1.2-1.6 0-1.3 1.2-.7 4.5-2.4 3-.5 1.5-2.5 2-4.6-.8-3 2.9-3.8 1.9-.6 2.3-1.6-3.8-4.4 1.9-3-.8-.8 .4 .1 1.5-.9 .5-3-3.1-3 .5-1.4-.9-1.6 0-2.9 3-1.5-.3-1.7 1.8-.7 1.5 .5 3-.4 1.5-2.3 1-4.4 .1-4.2-1.1-.2-1.5 .8-1.5-4-3.2-4.4 1.6-7.6 .4-3-1.2-3-3.1-1.4-.1-2.2 1.1 .6 1.5-1.2 1.5-1.8 1-3-.8-2.6 2.8-2.7-3-.7-2-1.4-.8-1.6 .5-.8 2.3 3.1 1.5-1.2 1.5-1.5 0-1-1.9-1.6 1.3-4.4-.1-1.6 1.5-1.1-.8-.3-1.6-2.5 .1 1.9-3 2-.6 6 .4 1.4-1.3-1.4-3.2-3 2.4-1-.7 .1-3-2.1-1.3-3 2.3-1.4-1.4-3.1 3.4 1 1.5 .7 3-1.1 1.5-.7 4.5 1.9 3-4.7 2-1.8-.5-2-3 .4-1.5-2.6-2.8-6 4.8-4.4-.5-.1-1.5 .9-1.5-3.3-1.5-1.5-3 0-1.5 2.4-1.6 3 1.1 .5-1-6.5-3.1-1.6-1.9-1.4 3.7-1.7-.2-1.3-2.3-1.6 .2-.8-.9 .1-1.5 3.6-3 0-1.5-4.3-3.2-1.8 .2 .6 3-1.8 2.4-1.6-.8-3 1.1-4.4-1.6-3 2.7-3 1.2-1.6-3.5-1.6 0-1.4-3.9-3 .7-4.4-2.5-5.6 1.2 1.9 1.5 .2 1.5-1.1 2.5-1.7-1-.6-3-3.7-1.4-3-3.2-1.4-.3-4.6 2.3-4.4-2.4-1.6 .4-1.4-1.7-3 2-6-.2-3.4 1.5-1.2 1.8-2.7 1.2-.3 3.3-1-.3-.4-1.6-2.8-1.4-1.7-4.6-4.5 3.3 0-1.7-3-1.7-3 2.9-3-3.2-9-.5-3 2.5-1.7 0 .7 4.5-1.8 3 .4 1.5-.6 1.5-1-1.5-1.1 0-.8 1.5 .3 1.5-2.4 3-2.6 .3-.8-1.8-3.6-1.1-2.5-1.9 .9-2 1.4-1-2.8-1.8-3.1 .2-2.9-1.9-2 .5-.1 3-2.5 1.3-3 3.1zM1342.4 472.1l.1 1.5 1.1 .9 3.6-2.4-2-.9zM1468.2 469.2l-1.3 1.4 0 1.5 1.3 .9 .7-2.4zM1333.2 476.2l1 .4 .3 1.5-.7 3 1.8 4.5 3.1 3-.3 1.5-3.8 2.1-6 .1-1.4-.7 .3-1.5 1.1-.6 1.6 1.2 1.4-.7 .8-1.4-2.7-1.5 1.1-3-1.3-3zM1335.2 478.1l1-1.4 .2 1.4zM1325.6 481.2l1.6 .8 0 2.1-1.5 0zM1325.6 489.1l1.3 1 .2 1.5-1.5 1zM1563.3 490.1l.9-1.5 2.3 3-.9 .9-1.4 .2z"/>
<path fill="#f2cab5" fill-rule="evenodd" d="M1325.6 80.4l339 0 0 374.1-1.4 .2 .4 3.9-3.4 .3-3 3-3 .8-1.6-2.4-3.2-.2 .1-3-1.3-.1-1.6 2.4-1.4 .5-6-1.8-1.1 .5-.5 3.1-1-3.1-8-5.6-3.5-.4 0 1.5-2.5 2.1-.7-2.1 1.3-3-2 .4-3-1.4-2 1 1.1 3-.7 2.7-.2-1.2-2.8-1.2-2.9 1.2 .5 1.5-.6 .3-3-.8-4.4 4.9-1.6-.3-1.4-2.6-6 .7-1-.7 .9-1.5-1.5-1.4-1 2.9 5.6 7.2 .5-1.2-.5-3 1.4-2.4 2.4 3.9 2.2 1.5-1.6 2.2-3 1.8-1.4-2.2-1.6 .6-1.7-2.4-1.3-.3-1.4 .9-1.7-.6-.9 1.5 4 3.9 1.7 .6-1.7 1.4-4.4-3.1 .5 3.2 2.5 1.5-.2 1.5-1.4 .5-3-.1-3-1.4-1.4 1.5-4-.5 .6-4.5-1.2-1.7-3.3 4.7-4.1 .2-3 2.1-6.1-2.7-1.5 4.9-4.4-.9-3.9 3.9-.8 0-.8-1.5 .7-1.5 3.1-1.5 .1-1.8-6.4 1.8-1.1 1.5 .1 1.5-3 1.1-4.6-.3-1.4-1.3-1.6 2.1-1.4-.5-4.6-4.8-1.4-.8-6 3.2-3-1.5-1.6 .5-1.4-1-3.1 .1-2.1-1.3-2.3-3.1-1.5-.4-1.5 1.7-1.5-.3-1.6-1.3-3 .6-1.4-1.6-3 .6-.8 .8 .1 3-.9 1.5-1.4-.3-1.7 1.8-4.4 1.5-2.9 5.1-3-.6-2.1-1.5 1.8-3-1.3-3.9-1.4 .8-1.6-1.4-3-.1-2.5-2.9 1.8-1.5-.7-2.7-3-.9-1.6-3.1-1.4 1-1.2-.3 2.6-2.3 0-.8-1.4-.1-1.6 1.4-3.1-1.2-1.3 2.7-2.2 1.8 .6 2-6 0-3 1.3-1.5-.3-1.1-3-3.4-2.1-1.4-2.7-2.5-1.2 .9-.4 0-1.8-3-.2-2.3 .9 3.5 1.5-1.9 1.5-.7 1.9-1.6-3.7-1.4 .4-1.6-2.5-1.4-.7-2.8 1.6-1.8 2.8-1.4-.1-1.6 1.5-3-2.3-1.4-.1-1.6 .4-1.4 1.9-1.6 .5-4.4-4.8-3 .2-2.3 1.5-.7 1.7-4.6-.4-6 2.3-3-.2-1.4 2.1-1.3-1 .6-3-.9-.7-1.4-.3-6 1.3-4.3-3.3-.3-1.5-6 2.2-7.1 .8-3.3 1.5-6-2.1-1.6 1.5-3-1.7-3.9 2.3-.4 3 1.3 1.4 3 1.3 0 2-2.2-.2-.8-2.3-.4 2.3-1 1.3-1.6-.2-1.4-1.8-7.6-1.6-2.3 2.3-.5 1.5-3.2 2.6zM1450.2 452.5l2.8 4.6 .2 1.5 2-1.5 .7-3-4.3-2.3zM1520.6 468.8l-.8 1.8 2 1.5 .4 3.3 1.4-1.8-1-1.5-.1-3zM1525.2 467.6l.7 3 .7 .5 .7-2-.7-1.5zM1609.2 454.7l0 1.8 1.2-.9zM1639.2 453.9l3 2.1 2.1-1.9-.7-.9-1.4-.3zM1594.6 469.1l1-1.1 .7 1.1-.7 .6zM1598.6 470.1l1.3 .5-1.3 .6zM1345.7 475.1l2.6 0-1.7 1.6zM1492 481.1l1.6-.4 .9 .4zM1556.6 482l1.9 2.1-.3 1.3-3-.2-.6-1.1z"/>
<path fill="#f6bea4" fill-rule="evenodd" d="M1325.6 80.4l339 0 0 369.5-1.4-1.2-6 5.4-2.9 1.5-.1 2.5-2.5-2.5-2.1-5.2-2.4-.8-2-1.9-4.6-.8-2.8 4.2-3.2 1-7.4-2-3-2.3-3 1-3-1.4-4.6 2.2-3-.2-3-1.4-3 3.3-.6-.2 1.2-3-.6-.3-1.4 .6-.8 1.2 .5 1.5-1.5 1.5 1.9 1.5-.1 1-1.6-.3-1.4 1.3-.7-.5 .6-1.5-.8-1.5-3.7 1.1-3-.4-2.3-.7-2.1-1.7-1.1 1.7-.2 3 .6 3 3 3-.9 1.1-1.6 .4-1.4-3.2-1.4-.7-1.5-2.2-3.8 1.6 .4 7.5-4.1 .8-6 5-1.6-1.8-3 2.2-5.1-1.7-1.2-1.5 1-1.5-.7-1.8-.6 1.8-3.5 1.5-3.3 3.9-10.6 4.3-3 .1-1.1-.8-.3-3.9-2.2 .9-1.5 1.5 1 1.5-.3 1.9-2.9-1.9-1.1-3 .4-3 2-1.5-1.4-1.3-1.6 .7-1.4-.4 .7-2-.7-1.5-6 1.3-4.4 3.2-.1 1.5 1.4 3-1.5 .9-4.4-.4-.9-2-.4-1.5 1.3-.7 1.8-5.3 1.4-1.5-1.8-1.3-1.9 1.3-1.1 4.4-1.4 1.1-3-1.6-.8-.9 .2-1.5-1-.5-1.4 .3-.7 1.7 .7 1.4 1.6 .1-4.6 1.2-1.6-1-1.4 .2-1.6 1.2-3 .8-.8 .6-.6 2.9-1.6 .1-3-2.8-4.4 .7-1.6-3.6-3 1.7-2.4-.5-.3-3-3.3-1-1.9-3.5 3.5-1.5-3-5.2-1.6-.1-4 3.8-3.4 .7-2.7-6.7-1.9-1.8-3 0-4.4-2.1-1.5 .9-.3 1.5-4.2 1.7-3-2.1-4.6-.2-1.5 2.1-3.8 3-5.1 .4-3 1-3.1-1.5-5.9 3.2-1.6 1.6-1.4-.8-1.6-3.3-4.4 .6-10.6 3.9-1.4-2.2 0 3.1-1.6 .7-1.4-.6-1.6-2.4-1.5-1-4.5 .8-4.4-1.8-4.6-3.5-3 .5-1.4 2-1.6 .4-1.4-1.9-1.6 .1-1.3 2.2-1.7 .7-4.4 0-4.6-3.9-1.4 3.3-1.6 .6-3-1-7.4 1.3-1.6 1.6-4.4 2.4-3-.5-2.4-1.5-.4-4.5-1.8-1.4zM1483.2 466.8l-1.1 .8 2.2 0zM1484.6 456.3l-1.3 .8 1.3 1 .6-1zM1487.6 465.6l-1.5 2 1.5 1 1.9-1-.5-1.5zM1520.6 461.1l0 1 1.6 .2 0-1zM1538.6 451.1l-1.8 1.5-.1 1.5 4.9 .7 .6-.7-.6-1zM1546.2 456.3l-.7 .8 .7 2.1 2-2.1zM1646.1 287.5l.5 .8 1.4-.8zM1649.6 274.3l-.7 1.2 .7 1.5 5.1 1.5-.5-3.7zM1655.6 273.5l-.8 .5 .8 .5 .9-.5zM1445.5 457.1l.8 1.5-.7 1.1-1.4-.3-.7-.8zM1585.1 461.6l1.5 1.5-.6 1.5-2.4 1.5-2.7 0 .6-1.5 3-1.5zM1325.6 463.1l1.6 2.8 1.4-1.1 .8 1.3-.8 1.3-3-.4zM1450.4 464.6l1.2-.9 .9 .9-.1 1.5-1.7 0zM1486.6 476.6l1-1.4 2.2 1.4-2.2 1.4z"/>
<path fill="#f7b093" fill-rule="evenodd" d="M1325.6 80.4l339 0 0 192.2-3 3.8-1.4-.1 .2-3.8 1.2-1.5 1.6 .6 .3-.6-1.9 0-3-4-1.4 1.5-1.5-2 .6-1.5-.6-1.5-3.1-2.7-3 .7-2.4-2.5-1.3-4.5 .2-4.5-3-3 1-1.5-.5-4.9-6-.6-3 .5-3-1.7-.4 2.2-1 1.2-2.3 .3 1.9 1.5-6.3 4.5-2.6 3 1.7 1 1.6-.1 1.9 2.1 .4 7.5-2.5 4.5 3.2 2.6 1.4-2.2 .7 1.1-.7 1.8-1.5 1.2-.3 3-4.2 1.7 0-1.8-1.4-.5-1.8-2.4-2.4-1.5-.4-4.4-3.6 1.4 2.4 1.5-1.8 1.3-1.4-1.7-.1 1.9-1.5 .7-1.4-.5-1.1 1.3-.3 3 .1 1.5 4.3 3.8 1.4-.2 3 1.6 1.6-.6 1.4-2.9 1.6 .6 1.5 2.2-3.1 2-.2 1 2.9 1.5 1.9 3.3 3 .5 3.1-.8 4.3-3.7 1.6-.1 1.4 2 1.6 .5 1.9 2.8 1.5 4.5 2.6 1.8 3-.2 3-2.5 1.4 .1 2.3-2.2 2.3-3.6 3-1.4 1.4 .4 1.3-1.4 1.7-4.2 0 124-1.1 1.8 1.1 1.9 0 34.7-4.1-.6-.1-1.5 1.4-1.5-.2-1.7-3.2 1.7-2.3 3 .3 4.5-.8 1-1.4-.5-3-3-3.6-.5-4-2.7-4.4 1.5-3-3.8-1.6-.3-2.2 .8 .5 4.5-2.7 1.3-1-1.3 .9-1.5-.5-1.5-1-.1-1.4 1.1-4.6-.3-.8 .8-.6 2.8-1.6-.6-6 .7-7.4-2.5-3 1.8-3 .4-6-3-4.6 1.7-1.4 2.4-2.5 .8 1 1.5-.6 1.5-3.6 3 .3 1.5-1.2 1.5-5.4 2.6-1.6-1-3 1.5-3.6 4.4-3.8-.7-1.6-3.2-1.7 .9 1 1.5-.6 1.5-1.7 .6-6-7.1-4.4-3.3-1.6 .6-1.1-2.8-3.3-2.9-3-1.8-3 1.3-3-1.7-3 2.9-1.6 0-2.7 3.7 1.5 1.5 .9 4.5-2.7 .7-3-1.2-1.4 .6-2.1-1.6-1.1-3-1.4-.7-3 1.2-3-1.9-2.9 1.4 .5 1.5 2.2 1.5-.7 1.5 .7 1.5-4.2 2.3-4.6 0-1.4 2.5-3 1-1.6 1.6-3 .4-1.1-1.8-.9-4.5 2-1.3 1.6 .5 1.2-.7 1.4-1.5-1.2-1.4-1.4 2.1-1.6 .7-2.3-1.4-.7-1.4-.4 1.4 .6 1.5-1.6 1.1-1.2-1.1-1.8-7.2-3 1.6-4.6-.5-1.4 .6-3-1.4-4.6-.2-1.1-.4-.1-1.5 .8-1.5-1-1.2-1.6 .5-1.5-.9-1.5 1-1.4-1.3-3 .2-3-1.9-1.6 .6-3-.5-4.4 1.5-1.6 2.3-1.4-2.1-3 .4-1.6-.8-4.4 1.3-1.2 .9-.4 1.6-6 3.1-1.4-1-1.6 1-3-.1-1.4-1.3-3 1.3-1.6-1.3-3 .3-1.4 1.1-4.6-.7-9 3.9-2.4-.4-.6-2.6-4.4-.7-3 2.4-1.6-.2-1.4-1.8-1.6 2-1.5-.6-.8-3-6.7-1.9-1.4 1-1.6-.2-1.4-2.3-1.6 .4-1.4 2.6-4.6 2.7-1.4 .7-1.6-.2-1.3-1.3-.3-1.5 1.8-1.5-.3-1.5-1.3-.8-3 .2-3 2.6-1.6 0-1.4-1.5-1.7 1 .2 1.5-1.5 1.5-3-.6-3 .7-2 1.4 .2 1.5-1.2 1.5-1.6-.5-3 .5-1.1-3 .2-3-.5-1.3-1.6-.1-1.4-1.3-1.6-.2zM1391.6 167.4l-1.2 1.6 1.2 1.8 3.2-1.8 .5-1.5-.7-.5-1.4 .7zM1402.2 164.4l-.2 1.6 3.2 3.6 1.2-2.1 0-1.5-1.2-1.3zM1414.2 208.6l-1.4 .9 .8 1.5-2.6 1.5 5.6 4.5-1.2 1.5 0 1.5 3.5 4.5-.1 1.5 5.5 3-.7 1.5 .7 3-1 1.5-.4-3-2.7-1.1-3 1.1 .6 1.5-.4 3 3.7 3 .5 1.8 1.6-.7 3 2.2 3.4-3.3-1.3-3 2.3-2.2-.3-2.3 .9-1.5 0-3 1.1-4.5-1.3-1.5 3.3-3 .2-3-.9-.7-1.4 .6-6 3.8-1.6 0-1.6-2.2-.1-6-4.4 0 1.1 1.5-1 2-1.4-.6-1.9-4.4zM1420.2 194l-1.3 .5-.3 1.5 1.6 .5 .7-.5 0-1.5zM1444.2 182.2l-1.2 1.8 1.2 3.7 1.1-2.2zM1451 89.5l.4 1.5 1.8 .6 .5-.6-.2-1.5zM1469.6 106.9l-.7 2.1 .7 .6 2.1-.6 .1-1.5-.6-.8zM1475.6 123.3l-.9 .7-.6 3-1.7 3 0 1.5 1.8 1.4 3-1 1.9-1.9 .6-1.5-.4-1.5 3.6-1.5-4.3-2.3zM1478.6 109.4l-.8 1.1-.6 3 1.4 4.6 2.2-1.6 .5-3-.4-1.5zM1486.2 120.3l-1.4 .7 .5 1.5-1.9 3 .5 1.5 2.4 1.5 1.3 4 1.3-1 1.1-4.5-1.5-1.5 3.7-.9 1-2.1zM1487.6 91.4l-.6 1.1 .7 1.7 2-1.7zM1495.2 109.8l-.8 .7 2.3 0zM1505.6 111.8l0 1.7 1.3-1.5zM1508.6 129.8l-.4 1.7 1.7 1.5 1.9-1.5-.3-1.5-1.3-.7zM1514.6 141.3l-.7 .7 0 1.5 3.7 5.2 4.1-2.2-4.1-2.5-1.4-2.4zM1604.6 435.2l0 2.1 1.6-.4 .5-.8-.5-1.3zM1621.2 219.7l-.3 1.8 1.1 0zM1609.2 432.4l-1.1 .7 1.1 .6 .9-.6zM1618.2 290.7l-.5 1.3 .5 1.3 .8 .2-1.8 1.5 .3 1.5 .7 .3 2.1-4.8-.7-.9zM1651.2 411.2l-.3 .9 1.7 2.1 .5-2.1zM1657.2 431.4l-2.9 1.7-1 1.5 1 1.5 1.3 .6 1.6 .2 1.6-2.3-.2-1.5zM1401.6 172l.5 1.5 1.5-.2 .8-1.3-.8-1.1zM1412.6 231.4l-.4 2.1 .5 1.5 1.5 .9 2.7-.9-1.3-2.7-1.4 .7zM1447.2 146.7l-.9 1.3-.2 3 1.4 1.5 0 1.5 2.7 .9 2.3-.9-1.7-6zM1475.1 446.6l.5 1.1 1.3-1.1zM1490.6 131.7l-2.5 2.8-.2 1.5 2.7 .4 3 2.2 3 1.1 3.3-2.2-.3-2.2-1.4 1.1-1.6 0-3-2.5-1.4 .4zM1520.6 435.6l-1 .5 1.6 3-1 1.5 2.8 3-.1 1.5 .7 .9 4.6 .9 1-1.8-.6-3 1-1.5-1.4-1.8-6-1.1zM1603.2 278.2l-.9 .3 .8 1.8zM1621.2 228.2l-.5 .8 .5 .9 1.4-.9zM1492.2 449.9l-1.2 4.2 4.2 2.8 3-.5-.1-2.3-2.9-1-1.6-3.2zM1523 449.6l.6 1.2 .7-1.2zM1621.2 233.1l-.2 1.9 1.6 .7 1.6-.2 1.6-2-3.2-1.2zM1523.6 454.6l-.9 1 .9 1.3 .9-1.3zM1624.2 242.3l-1.5 1.3-3.4 .4-1.1 3 1.4 2.5 1.6-.2 3.3-3.8 1-3zM1474.1 130l1.5-1.4 .7 1.4zM1634.4 250l1.8-.8 6.4 .8 .6 1.5-2.6 1.6-1.4-1.9-.6 3.3 .6 .7 1.4 0 .3 .8-3.3 2.3-1.4-.1-1.7-2.2 .5-3zM1627.6 259l1-.6 1.8 .6-.2 .5zM1636.3 262l1.3-.7 4.6-.2 1.4 .1 .9 .8-5.3 4.9-1.6 .2-1.4-1.7-2.1-.4zM1650.2 265l1-.5 1.8 2 .9 1.5-.5 1.5-2.2-.5zM1630.2 274l1.4-.7 .6 .7-.6 2.1zM1639.2 273.6l3.7 1.9 .3 3-4 3.5-3-4.2-.4 2.2-1.2 0-1.4 1.9-1.6 .2-3-.6-3.4-3 3.4-3.8 1.6 2.6 3 .3 1.9-2.1zM1655.2 281.5l2 1.2 1.4-.4 2 .7-.4 .9-2.5 .6-.5 1.1-1.6-.9-1.4 .7-.9-.9zM1651.2 288.1l2.1 2.4-2.1 1.1-1.1-1.1zM1517 460.1l.6-.8 1.2 .8-1.2 .6zM1535.8 460.1l2.8-1 3 1.6 1.6-1.6 .9 2.5 1.9 1.5-1.4 .6-1.4-.4-.7 1.3 .7 1.9 1.4-1 3 .5 .8-2.9 .8-.5 1.4 1 3-2 1.4 1.5 .2 1.5-2.2 1.5 .3 1.5-1.2 1.5 0 1.5-1.5 1.1-3-.3-3 1.4-1.4-2.1-3 .6-1.2-.7-1.8-2.8-3 .2-1.7-3.4 1.7-3 1.4 1.1 .8-1.1zM1541.8 469.1l1.4 1.4 2.3-1.4-.9-.7zM1573 463.1l1.6 .5 .7 1-.7 1.2-1.4 .7-1.2-.4zM1517.3 464.6l.9 0 .2 1.5-2.2 .8 0-1.1zM1564.9 467.6l2.3-.9 .7 .9-.7 1.5-1.6 1-1.2-1z"/>
<path fill="#f6a283" fill-rule="evenodd" d="M1325.6 80.4l71.6 0-.1 1.6-4.1 4.5 1.6 2.6 1.7 .4 2.9 2.7 3.1-1.2 2.3-3-1-4.1-2.7-1.9 1-1.6 3.3 1.2 3.5-1.2 29.9 0-5 2.5-1.4 .1-1.6-1.4-1 .4-.6 3-2.8 2.3-2.1-.8-1.2-1.5-2.7-.7-1 .7-.1 1.5 1.7 3-.6 1.9 3 1.6 3 3.5 1.4-1-.7-3 2.3-6 1.4 1.8 1.9-.3 .6 3-1 1.1-2.9 1-.5 .9 .5 1 1.4-.1 1.6-1.5 3 .4 1.4-2.7 1.6 .5 1.4 3.4 1.6-1.1 3 1.7 1.4-1.1 1.6 .6 1.4 1.9 3 .5 1.9 2.5-3.1 1.5 .5 4.5-1.7 3 1 .8 4.4-.4 1.6 1.1 1.4-1 1.6 .2 1.4 .7 .3 1.6-.3 3-1.4 1.5-.7 1.5 .4 1.5-1.3 2.2-3 3-1.4 .1 .2-2.3-1.8-.4-1-2.6-.6 0-1.3 4.1-1.5 0-1.4-1.1 2.3-6-.3-1.5-.8-1.5-2.6-1.5 .3-1.5-3.2-1.5-.3-1.7-3 1-4.6 6.1-1.4 .4-3-1.8-2.1 .5-.1 3 .6 .8 3 1.4 1.5-.7 .1-2.3 .1 2.3 2.9 1 5.8-4 .2-1.4 .1 1.4 1.3 .7 .8-.7-.8-1.2-1.4-.3 3-.9 1.4 3.9-1.7 4.5 1.2 1.5-1.2 1.5 .3 1.2 1.4-.8 1.6 2.6-.6 1.5 .3 1.5-1.4 1.5-.7 3 3.8 2.8 1.5 .2-4.5 1.4-.5 1.6-3 3 2.1 3-1.4 3 .2 1.5-.4 .8-1.4-.2-3.7 3.9-.9 6.5 4 1 .6 2.6 1.4 1.8 6-.1 1.6 .8 3 3.9 3 .4 .5-1.9 2.5-3.5 1.4 .3-1.2 3.2 .7 1.5 2.1 1 1.4-1.1 1.6 0 2.8 3.1-3.4 1.5-2.6 3-1.2 3-1.6 .5-1.1-.5-.2-3-1.7-.6-.5 .6 1.5 3-1 .9-6.3-.9-.9-1.5 0-3-1.8-2-6 2.4-1.6 2.3-1.4-1-1.6 .2-2.4 2.6 1.5 1.5 3.9 9.1 1.6 1 4.4-1.7 1.2-.9 .4-2.1 6-4 3 .6 .7 1-1.4 3 1 1.5 1.5 0 2.6-4.9 4.5 .8 1.5 2.2 3 1.7 1.4-1.3-1.4-1.2-1.4 .7-.4-1 1.2-1.5-3.1-1.5 .7-2.2 1.6-1.2 1.5 .4 .7-1.5 2.2-1.8 6 4.7 5-2.9-3.4-3.2-3-5.2-2.5 .9-.5 1.8-3.7-1.8-.4-1.5 2.2-3-1.3-3 1.2-1.5-2.1-3 1.1-3.7 1.4-.8 0-1.5-4.9-3-1.2-3 .1-3.8-3-1.2-1-1-.4-1.7-1.6-.6-.8 .8-.3 1.5-2.4 3 .5 1.5-1.4 .6-1.6-.8-1.5-2.8-1.7-1.5-1-3 .4-1.5-.6-1.5 1.4-2.4 1.6 .5 3-1.8 1.4 1.1 3 .3 1.2 2.3 1.8 .4 4.2-1.9 .4-1.5 3 0 1.4 2.5 2.8 2-.6 3 2 3-1.4 3-.4 3-1.1 1.5 .3 2.3-1.4 .7-.1 3 1.4 4.5 1.2 1.5-.8 1.5 4.1 4.3 1.6-1.8 1.4-.6 1.6 1.6 1.4 .1 3-2.1 3.1 .3 1.5 1.1 .6-1.4-.7-3.1-1.5 1.3-1.4 .1-1.6 1.6-1.4-.5-1.7-3.9 .6-1.5-1.6-1.5 1.1-2.4 2.6-2.1-1-.6-3 0-4.2-3.9 .4-1.5 3.5-4.5 3.3 0 2 3 .7 3 2.4 0-.7 2.4-2.7 2.1-.5 4.5 1.8 1.3 1.1-2.8 4-3 0-3-.7-1.2-1.1-.3 4.1-4.5 0-3.5 .7-1 3.9-2.1 3.5 .6 .9 2 1.6 0 .1 1 4.3 3.8 .4 2.2-1.4 1.5 1 .8 1.6-1.6 4.4 .9 1.6-.8 1.2 .7 1.8 3 1.4-.8 1.6-2.4 1.4 0 1.5-.9 1.3-1.9-1.3-1.5 .1-2.2-3 .1-3.3-2.4 .5-1.5 1.2-.6 1.6-.2 3 1.5 2.5-.7-2.7-1.5-1.2-1.5 .3-1.5-1.1-1.5 0-1.5 2.2-2.3 1.4 .5 .4-1.2 1.2-.8 4.4 .4 1.6-.7 1.2-4.9-1.2-1.3-3 1.3-1.6-.5-3 1.1-4.4-1.4-2.1 .8-.1 1.5-3.8 4.4-1.6-1.5-4.7 .1-2.4-3 0-6 3.9-3 .2-2.5 3 .3 1.8-2.3 .1-3 2.7-1 1.4 1.6 1.2-.6 0-1.5-2.6-3.4-7.6-1.4-1.4-1-3 3.8-1.6-2.2-1.4 .6-3.8 3.6-.2 1.5-2 .8-1.6-.8 .2-1.5-1.6-3.6-1.4 2.1-1.6 .8-1.6-1.8-1.4 .8 1.2 1.7-3.2 3-.2 3 3.3 1.5-.4 1.5 .7 .7 1.6-2.2 1.4 .6 1.4 .9 .2 1.6 1.3 1.4-4.3 .5-4.6-2-1.9-1.5-1.8-3 0-3-.7-1.8-3 1.5-1.8-1.2 1-1.5-.8-1.9-6 1.1-3.5-2.2-.9-4.5 1.2-1.5-1.2-.8-1.6 .5-.8-1.2 2.8-1.5-3.1-3-.1-1.5 3.7-3-.9-2.1-6-2.4 .9-3.1 3.9 0 2.6 3.4 1.8-.3 1.9-3.1 124.2 0-.7 3.1 .4 .9 1.4-.1 1.6-1 1.5 .5 2-1.8-.3-1.6 11.5 0 1.7 .8 1-.8 3 0-.3 1.6 .9 .5 1.4-.4 1.5-1.7 37.5 0 0 15-2.9 1.4-3.1 .2-1.5 1.5 4.5 1.4 1.6-.4 1.4-1.6 0 16.9-5 1.7-2.4 4.5-4.6-1.4-.1-1.6 3-1.5-.5-1.5 .6-1.5 3-1.1 4.6 2.1 .7-2.5-.7-2.2-1.6-1.4-1.4 1.3-1.6 .1-3-2-2.3-3.3-2.1-.4-3.7 1.9-.1 3-.9 1.5 .7 3-.4 1.5-1.6 .4-4.6-3.8-.9-1.1-.4-1.5 .6-1.5-.7-1.3-3-.1-.9 1.4 1.2 4.5-4.6 1.5 0 1.5 1.3 1.5 1.4 .1 .4 2.9 1.1 1.5 .1 3.4 4.4 1.5 1.6 1.4 4.4 .5 2.1 3.7 9.2 1.5 1.8 1.5 0 1.5 1.9 2.1 3 .7 0 20.6-1.4 .5-1.6 3-3-5.7-1.4 .4-1.6-1.4-3 .3-3.4 2-.7 1.5 2.3 3-1.2 2.2-1.4-.5-.9 1.3 .9 1.4 4.4-1.6 1.6 .9 4.4-.5 1.6-.6 1.4-2.6 3 1.7 0 57.2-.5-1.9-2.5-1-2.3 1-2.5 4.5 .4 1.6 4.4-1.6 1.2 1.5-1.2 2.1-1.3 .9 .4 1.5-2.1 .8-1.4-.5-1.6 .9-2.9-1.4-.8 1.7-2.3 .8-1.4 2.3-1.6-.8-6 1.7-3-2.9-1.4-.4-1.6 .8-1.4-.3-1.6 1.5-1.4-.8 0-1 1.5-.9 3.1-6-1.6-1.6-1.7 .1-.2-3-2.7-1.5-1.4-2.7-2.6-1.8 .1-3-1-1.5-.4-6-2.1-3-1.6-.1-4.4 3.7-1.6-.9-1.4 .6-3-1.4-1.6 .3-1.2 .8 .2 1.5-.7 1.5-2.3 1.5-.1 1.5-1.9 2.7-3 .3-1.4 2.3-4.7-.8-.2-1.5 2-1.5 .8-3-3.2-1.5-.5-1.5-1.8-1.8-2.4 4.8 2.4 .6 1.6 2.4-1.3 4.5 .9 1.5-.6 4.5-2.9 1.5 .9 1.2 3 .8 2.8 4-.9 3 2.5 3.9 4.6 3.3 3.9 1.8-2.4 1.5-1.5 3.2 4.4-.5 2.7-4.2-1-1.5 1.3-1 1.6 .3 6.1-2.3-.1 1.5-3.6 3 2.7 3-2.8 7.5-4.1 1.5 .6 1.5-.4 .7-1.4-1.1-2.6 .4 .5 1.5-.6 3 1 1.5 1.7 .9 3 .1 .9 2-2.5 3.6-1.9 .9-1.1 2.7-3-1.6-1.4 .4-1.6 1.9-4.6 1.1-.4 1.5 5 9.5 1.6 .8 3-.1 3 1.6 3.5 .2 .6 1.5-.3 1.5 .6 1.4 .8 .1 .8 3.4 2.9 2.6-1.1 1.5 1.2 1.5 1.4-1.4 1.6 .9 3-.5 1.4-2.2 .9 .2-1.4 3 .1 1.5 3.4 .5 6.9-.5-1.6-3 2.3-.8 1.4 2.3 1.6 .3 1.4-.9 2.1 2.1 3.2 0-.8-1.5 1.5-.1 2.4 1.6 2.7 0-.9-4.5 3.4-1.5 1.4 .6 1.6-.5 5.2-4.6 .2-3 3.6-.9 1.4-2.2 .1 16.4-1.5-.3-.5 .5 1.9 .1 0 97.8-3-.8-.9-1 .7-1.5-1.2-2.4-1.6 .7-1.9 1.7 .5 .9 2.2 .6-3.8 1.7-3 3.7-4 .6-1.1 4.5-2.8 3-1.1 2.6-3-3.2-1.8-.9 0-1.5-2.6-.7-1.1 .7-.3 1.5 .2 6-3.4 1.1-1.4 1.8-4.6-.8-1.5-2.3-1.5-.5-.6-.8 1-4.5-1.8 0 .3 1.5-2.8 1.5 1.4 6-.5 .8-3 1.5-1.2-.8-.2-1.8-.9 .3-2.1 4-1.6 .2-2-2.7-.8-3 2.1-3-.4-6-3.3-1.9-1.5 .4-.6 4.5 1.7 1.5 .9 3-2 2.9-3.9 3.1 1.7 6 1.9 3-1.2 1.5-1.6-.2-6 5.4-1.4 .1-3-2.2-3 2.3-1.6 3.1-3 .7-1.4 1.7-6-.5-2.5-1.4-.5-1.1-.3 2.6-1.3 1-1.4-.3-4 2.3 1.1 1.5-1.7 3.2-1.4 .6-.6-.8 .2-1.5-1.2-1-1.4 .2-2.4-2.2 .1-1.5 2.3-2.6 1.4 3 1.2-.4 0-4.5-2.6-.7-.6 2.2-2.4-.1-1.6-1.3 0-2.3-.9-.8-3.5 .4-3 2.6-1.6-2.4-1.4 .2-3 2.8-3-1.7-1.6-.1-1.4 1-1.2-1.3-.3-3-2.4-1.5 .9-1.6-3 .3 0-2-1.6 1-3-.7-1.4 1.9-1.6 .3-1.7-.7-2.7-3.2-3 .9-.9 .8-.7 3-2.4 1.5 1.6 3-2.2 1.3-1.6-1.3 .2-1.6-3.4 .1-1-1.5 .6-3-.8-2-3-.1-1.4-2.1-3-.9-.7 .6 0 1.5-2.3 1.3-1.6 1.9-1.4 0-.6 2.8-2 3 .3 6-.7 1.1-1.6-.4-4.4 1.7-1.8-.9 .2-4.1-6 .1-4.4 2.9-3-.7-5-5.7 2.9-3-2.6-1.5-1.3-2.8-1.4 1.3 0 1.5-2.2 3 .3 3 1.2 1.5-.9 1.1-3-.4-3-1.9-7.6 2.5-.9-1.3-2.1-.8-4.4 1.7-1.6 2.2-3 .5-4.4 2.9-1.6-2.3-3 2-1.4-2-3 1.8-4.6 .7-1.4 1-1.6-2.4-3-1.4-3 2.1-3-2-1.4 .1 .4 4.9-.4 1.7-1.6 1-3-1.9-6-1.4-3-1.7-4.4 1.5-6-2.5-1.6 .8-1.4-2-3 1.1-7.6-.5-3-1-3 1.4-4.4-.3-3-2-3-.6-1.6 .1-1.4 1.1-1.6-.1-1.4-2.8-1.6 .7-1.4 2-1.6-1.2-1.4 .2-3 2.2-6.1-1.8-1.5-1.3 0-259.8 3.9-1.5-.9-1.6-3-.9 0-21.9 1.6 2.5 4.4 .1 1.6 1.6 1.4 0 .6-.8-.6-2.3-3.9-2.2-2.1-4.6-3-.6zM1339.2 100.9l-.6 .6 .6 .8 1.7-.8zM1363.2 183.9l-1.8 3.1 1.8 2.3 .7-.8zM1381.2 173l0 2.1 1.1-1.6zM1385.6 154.9l-1.8 2.1 .4 2 3 .7 2.7 3.3-4.3 2.6 .8 6.4 .8 .6 1.4-.7 1.6 .2 2.5 5.9-.7 1.5 1.2 1.1 4.4-1 1.6 1.4 3-2.1 1.8 .6 1.8 1.5-.6 1.2-2.1 .3-.4 1.5 .9 1 1.6-.5 1.4 1.2 3-1.1 3 4.3 5.6 1.1 .5 1.5-.9 1.5-2.2 1.3-1.1-1.3-.3-1.7-1.6-.4-1.4 2.3-3.5-3.2-1.1-2-3-1.9-1.2 2.4 .1 1.5-1.1 1.5-.2 1.5 .9 1.5 1.5 1.6 4.6-.1 1.4-1 3 1.6 1.6-1.1-.8 3.5 2.2 2.6 .1 3.4-4.5 1.4-3.3-4.4-.3-3-1-.5-1.4 1.1-.7 3.9-.9 1.8-1.7 1.2-.7 3 4.5 1.5-.7 1.5 1.6 4.5 3.3 0-3.3 .1-1.4 2-4.3 .9 1 1.5 .2 1.5-1 3 1.1 3.4-4.3 2.6-1.7 3.3-3-.7-1.6 2.6-3-.2-.9 1 .9 3.6 4.6 1.4 .2 1-.2 1.8-3.1-.3-.8 1.5 .9 .7 4.4 0 4.6 2.8 3-1.9 .6-1.6-.9-1.5 .3-1 3 1.6 1.5-2.1 7.5-5.1 1.4 .6-.4 3 2 1.5 0 1.5-1.6 1.5 0 2 4.6-.9 3.5 1.9 2.5 3.8 4.4 1.5 1.6 1.6 1.4-.4 1.6 1.6 6.3-6.6-1.9-1.7-3 .1-1.4-2.1-2.5-.8-.6-1.5 3.1 1.1 3-.4 3-3.2 1.4-.3 .5-3.2-1.9-2.3-3.7 .8-1.5-4.5 1.3-4.5-2.1-4.5 1.4-2.9 1.6-1 1.4 .2 .6-.8 1-4.7 3 1.7 .9-3-2.5-3-4.4-1.2-1.6-2.2-1.4-.7-1.6 2.1-1.4-.6-1.6-2.8-.9-.6-.5-3 3.2-4.5-.6-1.5-2.6-1.7-2.5-2.8 .9-2.3 1.6-1 1.4 1.1 1.6-.4 .8-1.9-.8-1-7.6 .7-.9-1.2-.5-3.8-.7 .8-.1 4.5-.8 1.7-3-3.1-3 .5-.9-.6 0-1.5 .9-1.9 3 .8 2.8-1.9-1.2-3-1.6-1.4-1.4 3.7-2.5-2.3-5.1-.8-1.4-1-.9-2.7 3.9-.6 3.7-6.9-.7-1-3-.4-2.1-1.6-2.5-5-4.4-2.4-3 .5-3 1.2-.9 1.2-.5 1.5 .5 1.5-.7 .9-1-.9 .9-1.5-1.3-.7-3 1.3-3-5.7zM1397.6 97.1l-1.8 2.9-1.2 .6-3-.7-.5 1.6 1 9 2.5 3 1.6-.3 3-4 1.4 .7 1-.9 .6-2.8 3-.9 .2-.8-.3-3-1.1-1.5-2.4 0-1-2.7zM1409.6 120.9l-.8 1.6 .8 1.3 .7-1.3zM1412.6 123.2l-3 .9-.8 1.4 1.9 1.5 .5 2.3 1.4 0 .5-.8-1.8-1.5 2-3zM1418.6 91.9l0 2.1 .9-1.5zM1424.6 98.2l.2 1.8-1.3 1.5 0 1.5-1.9 1.3-3-.5-.8 2.2-3.6 2.7-1.2 3.3 4.2 1.3 3-1.2 .9 1.4 .5 3.4 3.8-.4-1.2-1.5 .4-2.5 4.1-11-.2-3-.9-1.1zM1435.2 94.3l-1.7 2.7 3.1 1.3 1.5-1.3zM1453.2 172l-1.2 1.5 1.2 .9 1.4-.2 0-2.1zM1441.2 198.3l-1.6 1-.5 2.7-2.5 .9-1.4-3.6-1.4 1.2 1.2 3 3.2 .6 1.1-.6 1.9-2.8zM1450.2 275.5l1.4 .6 3.1-.6-1.5-1.1-1.6-.1zM1456.2 234.5l-1.8 2 .2 2.6 2.5-4.1zM1458.4 241l2.6 0-.4-1.3zM1462.1 200.4l-1 1.6 1.1 1.8 3-1.1 1.7-2.2-1.7-.8zM1465.6 196l1 1.7 1.1-1.7zM1481.6 244.7l-.8 .8 .8 .8 .7-.8zM1483.2 240.1l-.6 .9 .6 1.8 .7-1.8zM1487.6 171.9l-.1 1.6 1.7 1.6 .5-1.6zM1489.2 161.6l-.6 1.4 .6 .8 1.4 .2 0-1.8zM1493.6 170.7l-1.3 1.3 1.3 1.2 .9-1.2zM1496.6 155.4l0 1 1.4-.9zM1510.2 405.6l-2.2 2 2.2 .8 1.2-.8zM1531.9 142l2.3 1.1 1.4 2.1 4.6 .4 .8-.6-5.4-3.8zM1522.2 111.7l-1.6 2.2-3.9 2.6 .9 3.3 1.6 .9 3-1.7 3 1.3 2.1-.8 .6-3-1.9-3 1-1.5-.4-.6-1.4-.6zM1477.2 95.7l-2.7 2.8 2.7 0 1.9-1.5-.5-1.3zM1486.2 84.7l-.7 .3-2.3 6.4-4.6 .8-1 1.8 1 1.3 3-.3 4.6 1.6 2 4.9-1.1 1.5 .5 1.1 6-1.3 2.1-1.3-3.7-6 1.4-1.5-.8-3-5-4.2zM1529.6 114.8l-.8 1.7 3.8 3.2 .4-1.7-1.8-3.5zM1538.6 115.1l-1 1.4 1 .4 .8-.4zM1549.2 137.2l0 1 1.4 .2 1.1-.9-1.1-1.2zM1556.6 140.2l-1.4 .3 1.4 1.5zM1558.2 143l-2.6 2 .7 1.5 3.3 .3 .7-1.8zM1568.6 123.1l-.7 .9 .7 .4 1.8-.4zM1573.2 159.9l-1.6 .6-3 3.1-.6 2.4 .6 2.7 3.9-1.2 .4-1.5 3.4-3zM1598.6 197.1l-2.1 1.9-.5 1.5 1.1 1.7 1.5 .3 2-.5 .5-1.5zM1602.5 202l2.1 2.2 1.1-2.2-1.1-.9zM1609.2 85.7l-.9 .8 .2 3 2.1 2.3 .9-.8-.2-3-.7-1.5zM1661.6 90.7l1.6 1.2 .6-.9-.6-.7zM1634.6 186.8l-1.4 .4-1.6 2.5-1.4-.1-1.6-1.9-3 .9-.5 2.9 1.2 1.5-2.6 1.5 6.5 1.2 1.4-3 3.2-1.2-.9-1.5zM1645.5 175l1.1 1.7 .6-1.7zM1660.2 153.1l-1.4 .9 .1 1.5 1.3 1.3 1.6-2.8zM1588.2 404.5l-3 1.2-1.1 1.9 1.1 2.3 3.1 2.2-.1 1.5-4.6 1.1-1.1 1.9 1.1 4.4 7.6 3.2 .6-1.6 .8-.3 1.6 1 1.1-.7 3.9-9-.6-1.7-3 1.4-3.5-2.7-.1-3zM1619.6 407.5l0 1.6 1.6-1.5zM1625.6 379.1l-1.4 1-3-.8-1.3 2.8 2.7 2.7 1.6-1.2 .9 1.5-.9 1.3-1.6-.6-1.4 .5 0 1.7 1.4-1.2 3 4 2.4-4.2-.3-1.5 2.6-3-1.7-.6zM1633.2 377l-2.4 2.1 .8 1.3 1.6-.7 1.4 1.2 1.3-.3-1.6-3zM1636.2 391.9l-1.2 .7 .3 1.5-3.7 3 1.6 1.2 1.4-1.3 1.6 1.3 2.4-1.2-.9-1.5 1.5-.9 1.4 .2 .3 2.2-3.1 3-.2 1.5 1.7 0 .2 4.5 .4 1.5 .7 .3 2.8-1.8 .9-1.5-1.6-3 1.2-3-.4-1.5 1.4-1.5-1.5-3-1.2-.8-1.3 .8-.3 1-1.4 .2zM1643.6 388.1l.1 1.5 3.1 0zM1649.6 366.8l-.9 .3 .1 1.5-2.2 3 0 1.5 2.1 0 1.2-1.5zM1658.6 295.8l-.5 .7 .5 .9 1.9-.9zM1331.6 419l-.4 2.1 .4 .3 .8-.3zM1333.2 163.6l-1.2 2.4 1.2 1.4 1.6-2.9zM1373.6 184.9l0 .9 1.6 .6 .9-.9-.9-.8zM1381.2 186.9l-.2 1.6-1.6 1.5 .5 1.5 2.7 1.8 3 3.9 .8-1.2-1.6-1.5 .9-3-2.2-1.5 .2-3zM1387.2 230l-1.6 1.9-1.4-.7-1.6 .4 0 1.1 1.6 .7 1.5-1.4 1.5 .2 .5-1.7zM1390.2 182.2l-.5 1.8 .5 .5 .8-.5 .2-1.5zM1399.2 181l-.7 1.5 .7 .4 2.3-.4zM1415.6 252.1l-.9 .9 .9 .7 2.2-.7-.6-.7zM1439.6 257l-.9 .5 .9 1.7 .9-1.7zM1439.6 225.4l-.6 .6 .6 .7 .7-.7zM1444.2 252.6l-.8 .4 .8 1.9 .5-.4zM1393.2 153.4l-.6 .6 .6 1.9 .6-1.9zM1415.6 146.6l-.9 1.4 .9 .6 1.2-.6zM1418.6 132.8l0 2.8 .9-1.1zM1420.2 117.3l-.9 .7 .9 .9 .9-.9zM1424.6 136l-1.3 1.5 2.9 1.5 .8-1.5zM1454.6 292l-2.1 1.5 .7 1.2zM1463.3 221.5l2.8 4.5 .4 3-6.1 4.5 .2 5.7 .5-1.2 2.5 0 4.6-3.2 .5 1.7 .9 .4 4.6-2.3 3 .7 3.9-3.3 .3-1.5-1.5-4.5 .4-1.5-1.7-1.6-1.4 2.7-1.6 1-1-.6 1-3.4-1.4-.1-1.6 .7-3-1.6-3 .3-1.4-1.4zM1483.2 252.7l0 1.2 1.3 .6-1.9 1.5 1.4 1.5 0 1.5-2.4 .5 .4 2.5 1.2 .9 3-.3 1.5 .9 5-1.5-3.5-2.5-1.6-3.7-1.4 .1-1.5-1.4 1.9-1.5-.4-.7zM1534.7 430.1l.2 1.5 .7 .5 .8-2zM1540.1 395.2l-1.5 .5-.9 1.4-1 1.5 .3 1.5 3.2 1.5 .9 1.5-.5 1.5 1 .6 1.6 .5 3-1 2.6-4.6-.4-3zM1517.6 122.1l0 1 1.6 1.7 1.1-.8-1.1-2.2zM1550.6 432.8l.9 1.8-2.1 1.5 1.2 .8 1.6-2.3 0-1.4zM1553.6 391.8l-1.3 .8-1.1 3 1 .8 3-.5 1.1 1.2 .3 1.9 1.6 0-1.2-1.9-.4-2.3-1.5-2.2zM1567.2 129.4l-1.6 .6-1 1.5 1 2.6 1.6-.3 .3-.8 .5-3zM1636.2 204.8l-.5 1.7 1.9 1.1 .6-1.1zM1646.6 187.3l-.9 1.2 2.5 1.5 0-2.2zM1606.2 399.7l0 4.3 1.1-.9zM1612.2 388.9l-3.4 2.2-1.1 1.5 .5 1.5-1 1.5 .1 1.5 1.9 2 4.4-4.6 3-.9 .5-1-.5-1.9-3-.6zM1622.6 401.5l0 4.6 1.5-1.5zM1331.6 434l-.2 .6 1.8 2.8 1.4-.6 .6-2.2zM1375.2 188.7l-1.6 1.3 0 3.2 2.2-1.7 .2-1.5zM1426.2 144.7l0 2.5-1.6 1.7-1.4-.3-1.6-1.7-.7 1.1 2.3 2.4 1.4-.3 .6 .9-.9 1.5 3.3 1.4 1.6-.1 1.4 4.3 5.4-5.6-.8-1.3-1.6 .7-.8-.9-2.1-4.9-3.1-1.6zM1464.6 262l.6 .7 1.4-.6zM1472.6 274.1l-1.1 1.4 1.1 .5zM1474.2 265.8l-1.5 .7 1.5 .6 .6-.6zM1475.6 241.6l-.8 .9 .6 1.5 1.8 .5 .6-.5-.1-1.5zM1480.2 287.1l0 1 1.4 0 .4-.6-.4-.7zM1483.2 424.1l.8 3-.8 .6-1.6-1.4-.2 2.3-1.2 1.9-10.6-2.7-.8 .8 .8 3 7.6 2.6 .4 1.9-1.8 1.5 1.4 .7 2.5-.7 1.9-2.3 3 3.6 1.1-1.3-.3-1.5 .8-1.3 3 0 1.2-1.7-.3-3-2-1.5 .5-1.5-1-.9-1.4 .6-1.6-2.5zM1489.1 299.4l-1.5 .4-3 2.7 6 0 0-1.9zM1544.6 412.1l-4.6 1.5 .2 2.2 3 .4 1.4-.9zM1552.2 428.2l0 4.9 1.4 .1 2.2-1.6 .5-1.5-1.1-1zM1555.2 415.9l-.6 .7 .6 1.3 1.6-1.3zM1565.6 142.9l-2.9 2.1 2.9 5.8 1.6-.5 .3-3.8zM1637.6 208.4l-.4 1.1 .4 1.7 1.7-1.7zM1646.6 198.5l-.9 2 .9 .3 1.6-1.8zM1615.2 397.1l-1.6 6 1.5 1.5 .1 1.8 1.5 1.3 1.1-1.6-2.6-1.5 4.2-3-2.8-4.5zM1423.2 156.1l-1.5 .9-.2 1.5 1.7 1.5 2.2-1.5-.2-1.5zM1426.2 163.7l-.8 .8 .8 .5 1.3-.5zM1435.2 174.8l0 1.1 1.4 1.3 0-2zM1465.2 281.3l-3.5 1.7 4.9 .3zM1466.6 274.6l-.9 .9 .2 3 .7 1 1.6-1.5 2.6-1-2.6-.9zM1477.2 272.2l-2 1.8 1.5 0 3.1-1.5zM1472.6 433.1l-1.2 3 1.2 .4 .8-1.9zM1565.6 169.8l-2.5 3.7 .4 1.5 .7 .7 1.4-.4 1.6 .8 2.4-1.1-1.4-1.5-.4-1.5 .8-1.7-1.4-.7zM1615.2 414.8l-5.1 1.8 3.5 .6 1.4-.6zM1423.2 168.4l-1.6 1-.9 2.6 0 1.5 .9 .4 1.6-.4 .8-4.5zM1462.2 428.5l1.5 1.8 .6-1.7-.7-.9zM1567.2 183.9l-.6 1.6 .6 .6zM1444.3 80.4l13.6 0-1.5 1.6-.2 3-2.2 1.5-.8 .3-1.6-1.3-3-.3-6 2.9-1.4 .1-.7-4.7zM1460.6 100l1.6-.6 .8 2.1-2.4 .7-.4-.7zM1421.6 105.1l2.3 2.4-.7 2.6-1.6 .1-2.3-1.2zM1483.4 116.5l1.2-.9 1.7 .9-1.7 .6zM1499.9 119.5l1.3-1.3 .9 2.8-.9 .4-1-.4zM1664.6 119.5l0 6.6-2.7-.6-1.3-1.5 3.5-3zM1461.9 121l1.7-1.4 1.3 1.4-2.7 5.3-1.2-2.3zM1650.3 124l.9-.9 3 .4 1.2 .5 .5 1.5zM1495.1 125.5l.1-.6 1.6 .6zM1504.2 124.6l.7 2.4-1.7 1.5-.6 1.5-.7-1.5zM1452.5 127l.7-.8 .8 3.8 2.2 .5 1.4-1 1.6 0 1-1 .4-2 .7 .5-.5 1.5 .7 3-.9 .7-7.4 .6-1.6-1-1.8-3.3 .4-1zM1466 130l.6-1.1 1.6 1.3 0 1.9zM1503.7 131.5l.7 0 1.3 3-1.5 1.6-1.1-1.6 .8-1.5zM1520.6 134.5l.9 1.5-.9 .3-.5-.3zM1484.6 135.7l1.6 2.4 3 .2 .9 .7-.3 3-.6 .6-4.6-4.4-1.4 .4-.8-1.1zM1506.3 139l1.5 0 1.3 1.5-.5 1-1.4 .4-1.4-1.4zM1450.7 160l.9-.9 2.2 .9 .1 3-.7 1.8-2.2-1.8zM1443.3 161.5l.9-.5 .5 .5-.5 .9zM1474.6 176.5l1-.6 .5 .6-.5 .5zM1421.1 200.5l.5-.5 6 2.8 1 2.2-5.4-.2-1.5-1.3zM1616.1 215.5l.9 0 1.5 1.5-.3 1.4-1.6 .1-1.1-1.5zM1612.2 215.5l2.4 1.5-1 1.8-1.8 1.2-1.2 2.4-1.8-.9 .2-1.5zM1605.9 224.5l1.7-1 1.5 1-1.5 3-1.4 1.2-1.1-1.2zM1629.9 226l.3 3.6-.9-.6zM1594.9 229l.7-1.5 1.6 1.5zM1628.6 230.5l.7 1.5-.7 .4-.6-.4zM1658.6 233.5l1.7 0-1.7 .9zM1607.5 235l1.7-.8 .8 .8-.3 1.5-2.1 2.2zM1617.1 241l1.1-1.1 .7 1.1zM1658.6 246.4l3 .3 1.6 1.6 .3 1.7-3.9 3-2.4 .7-1.1-.7 .4-1.5 2.3-3zM1612.8 251.5l.8-.5 1.8 .5-.2 1zM1433.8 253l1.4-.3 1.3 1.8-1.3 .9zM1653.6 256l1.3 0 .1 1.5-.9 0zM1663.2 257.1l1.4 .9 0 1.9-3-.4-.4-.5zM1609.7 259l.9-1.1 1.6-.2 .6 1.3-.6 1.3-1.6 .3zM1621.5 259l1.1-.6 .6 .6-.4 1.5-1.8 0zM1660.8 262l.8-.6 .4 .6-.4 .9zM1637.6 293.5l0 1.9-.7-.4zM1627 296.5l1.4 1.5 .2 1.9-4-1.9zM1610.8 392.6l1.4-1.1 1.2 1.1-1.2 1.5zM1660.3 403.1l1.3-.8 .4 .8zM1660.7 412.1l.9-.9 .5 .9 2.5 1.1 0 3-3.6-1.1zM1636.2 418.1l3-.9 1.1 .9-.8 1.5 1.1 2.7 1.9 .3-4.6 3 1.3 3.4-3-1.6-2.1-.3-.7-1.5 .7-1.5-.3-1.5 .8-1.1 1.8-.4-1.1-1.5zM1637.6 422.1l-.6 .5 .6 .8 2.3-.8zM1623.8 421.1l1.1 0 .4 1.5-2.2 3 1.1 .9 1.8-2.4 2.6-.8 3 2.3-.1 1.5-1.7 1.5 .4 1 7.4-.3 .2 .8-1.6 2.8-1.6 .1-1.4-2.5-6-.5-3-2.8-2.3-.1-.7-1.8 2.3-2.7zM1653.9 424.1l1.7 3.4-3.7-.4 .3-1.5zM1609.1 425.6l3.1-1.1 1.1 1.1-1.1 1.1zM1663.1 428.6l1.5-.4 0 2.3-1.4 .8-1.5-1.2zM1621.1 433.1l2.4 3-.6 1.5-6.3 3.4-.4-1.9 .4-3.4 3.8-1.1zM1652.1 437.6l1.1 0 .6 1.5-1.2 2.5-1.4 .6-2.1-1.6zM1550.5 445.1l1.7 .7 1.4-1.2 .6 .5-.6 3.5-4.4-1.2-3 1.2-.7-.5-.4-1.5 1.1-.7 3 .2zM1514.6 445.7l1.6-.2 1.7 1.1 0 1.5-3.3 1.3-1.7-1.3zM1497.4 448.1l1.1 0 .5 1.5-.8 .7zM1502.2 448.1l2 .6 3-1.6 3.3 1-.4 1.4-2.9-.7-1.4 .8-.6 1.5-4 1.1 0-2.1zM1361.1 449.6l.5-.5 1.4 .5-1.4 1.7zM1566.9 455.6l2.2 0 1 1.5-1.8 1.5-1.1 2.6-1.9-2.6 0-1.5zM1497.3 461.6l1.7 0 .4 1.5-4.2 3.2-1.6-3.2zM1537 466.1l1.6-.5 1.9 .5-.3 .8-1.6 .2z"/>
<path fill="#f29072" fill-rule="evenodd" d="M1333.1 80.4l6 0-1.5 1.6 3 1.9 1-.4 .6-1.5 1.9 1.5 1.1 3.7-1.6 1.2-3-1.9-1.5-.2-1.5 .8-1.4-1-3 2.6-2.2-3.7 0-1.5zM1347.7 80.4l8.3 0-1 1.6 1 1.5-.4 .8-4.4 1-4-3.3zM1364.2 80.4l14.1 0 2.9 .9 .7-.9 2.8 0-.5 3.1 2.1 3-.7 1.5-1.4 .7-4.6-1.3-1.4 .4-3 2.3-1.6 .2-.7-.8 .3-6-1-.8-4.6 1.5-3-.2-.8-2zM1488.1 82l1.1-.5 .9 .5-.9 1.5zM1493.3 80.4l2.9 0-1 .5zM1498.3 80.4l3.5 0-.6 1.4-1.6 .7zM1504.3 82l1.4-1.6 7.5 0 1.4 .8 1.6-.2 1.4 2.6 1.5 .3 1.5-.4 0-1.8 3 .4 .6-1.7 33.7 0-.6 1.6 3.2 3 .7 2.5 2.8-4-1.8-1.5 .4-1.1 15.6-.5 .3 1.6-.9 1.5 1.1 1.5 .5 .5 3 0 1-.5-2.5-3 .2-1.6 3.2 0-.3 1.6 .8 1.5 2 1.2 1.6-.1 3.7-2.6-1.5-1.6 2.9 0 2.3 1.1 .6 2-2.3 6 1.7 3.3-.3 2.7 .8 1.5-.2 1.5-3.3 4.5-3-1.7 0 1.7 2.2 1.5 2.4 0 1.4-2.6 1.4 1.1 .2 1.7 1.4-1 .4 .8-.9 1.5 .6 1.5-.2 3 3.4 0 1.4 3-1.5 3 1.4 1.3 3 1 1.4 2 3-3.4 1.6 1.7 .4-1.1-.7-1.5 1.7-3 3-2.4 3-.5 3.6 1.4 1.6 6 2.7 3-.4 1.5-4.2 3-.4 1.5 1.3 3 2.4 3-.6 2 4.5-2 1.5-2.3 .9 .8-.2 4.5 .9 1.7 1.4 .9 3-2.6 1.6 1.1 4.4-3.1 1.6 1.3 1.4-1.5 1.6-.3 3.8 1 2.2 1.4 1.9 .1 .4 1.5-.6 1.5-2 1.5 .6 1.5-2.2 6 .1 1.5-2.8 .9-3 2.5-4 1.1-2.3 1.5 .8 1.5-.2 3 2.2 4.5-3.9 3.8-1.6-1-1.4 .8-1.6 2.4 3 1.6 1.6-2.2 1.1 3.6-.4 1.5 .7 1.5 1.6 .2 1 1.3-1 .9-1.6 .1-1.4 1.3-1.6-.7-1.4 .4-3-1.8-1.6 1.5-1.4-.3-1.6-2.4-1.4-1-.9 2 1.1 1.5-1.8 2.7-1.4-2-3.7 .8-.4 1.5 3.4 1.5 .6 4.5-1.5 2.4-1.4 .1-3 2.7-1.6-1.7-1.4 .8-4.6-.9-3 2.5 .4 1.6-1.4 1.5-3.6 0 .4-1.5 1.7-1.5-.7-3 .4-1.5-1.6-1-1.6 .3-3-1.1-1.4 3.2-2.2-1.4-2.4-.2-3.4 1.7 .4 2.6 1.6-.5 .9 2.4-2 1.5 .2 1.5-.7 .8-1.4 0-1.6-1.6-.6 2.3-6.5 6 .1 3 1 .9 3 0 .7 .6-3.7 3.7-1.4 .2-3.7-.9-.8-1.5 1.4-1.5-2.3-3 1.6-1.5-.7-1.5-4.5-4.3-3-1.2-1.6 1 .8 3-.8 1.1-3-.9-1.4 1.3 0 1.2-.9-2.7-2.1-.9-1.2 .9 .5 3-.9 .8-1.4-.7-1.8 1.4 .3 1.5 2.9 1.5 0 1.5-1.6 1.5 .2 1.5 4.7-1.5 1.3-7.5 1.4-.4 1.4 .4 1.4 4.5-.1 3-2.2 3 1.1 1.1 1.4 0 1.6-2.4 1.4 .3 1.1 1-3.1 1.5 3.5 2 1.5 0 3 2.2 1.6-1.3 3 2.1 1.4-1.8 .9 1.3-.5 1.5-3.8 1.5 2 2.6 2.8 1.9-.7 4.5 .9 1.2 4.8 1.8-1.8 .2-.4 1.3 1.2 3-1 1.5-.1 1.5 4.3 3 .1 3 .8 1.5 4.1 5.1 3-2.3 2 1.7 1.5 3-3.1 6 0 3-3.4 1.6-3-2.1-1.8 3.5 .3 3.2 1.9 2.8-.7 1.5 1 3-.7 1.2-3-.9-.2-1.8-1.4-2.1-3 2.7-1-.6 1.4-3-1.8-.9-4.4 .9 2.8 4.4 1.6 .5 1.1 2.6-1.1 .8-1.6-1.8-3-.8-1.4 0-1.6 2.3-3-1.9-3.5 1.4-.6 1.5 2.7 1.3 1.4-.6 .4 .8-1.8 .3-2.5 4.2 2.3 3-2.9 1.1-2.3-1.1 .5-1.5-1.1-.7-1.1 .7 .7 1.5-.6 1.5 2 1.5 .5 3 2.9 1.4 3-.6 2.3-.8-2.3-1.5 1.6-.3 3 1.6 1.4-.6 .9 .8 2.1 .5 10.6-.1 2-.4 2.4-3.7 3 3.5 6 1 15-.4 7.6 .7 27-1 10.4 .6 0 54.3-2 .6-.3 3-3 3 .2 1.5-1.6 1.5 .8 4.5-4.5 3.5-1.8-5 1-1.5 0-1.5-2.4-4.5-1.4-1.2-4.4-.1 .5-1.7-.5-1-3 .7-1.6-.5-3 2.5-3-2.6-1.4 .5-3 3.7-5.3 2.7-.7 6.3-1.9-.3-1.1-1.8-3.4 .3 .9-4.5-.5-.7-1.6 0-.8 .7-.4 1.5 .5 1.5-2.3 .6-.3 2.4-1.1 1.3-1.9-1.3 .1-1.5-1.2-1.5-1.6-.5-7.4 4.1-1.4-.6 1.4-.7 0-2.3-1.6-1.9-1.4-.4-.7 2.3 1.1 1.5-2.9 4.5 1.9 1.5-1 1.5 1 1.5 2 .6 1.6-.3 1.1 1.2-1.5 3-.6 4.5-3.6 3.7-1.4 0-3-1.6-.8 .9-.8 4-1.4 .8-1.6-.4-3 1.1-2.6-1-.4-1.3-1.4-.1-.4 1.4 1.8 1.5-3 3-3 1.3-3-.2-1.4-1.8-1.6 .4-4.1-1.2-.3-2 3-1.1-3-1-3-2.3-4.6-1.1 .8-1.5-3.5-1.5-1.7-2.1-4.6 .1-3-1.3-1.5 3.3-2.9 2.7-4.6 1.1-2.9 2.2-.6 1.5-.5 6-.4 1.3-1.6 1.2-2.4-4 .2-7.5-.8-4-1.4-.1-1.2 1.1 .5 1.5-.9 .7-1-2.2-2.2 0-2.8-2.1-1.4 .5-1.6 2.6-1.4-.5-1.1 2.5 1.1 4.3 1.4 .8 .6-.6 .1-1.5-1.2-1.5 .1-1.5 2-1.7 1.4 3.4 1.6-.7 2.2 .5 .2 1.5-1.3 3 .3 1.1 3.1 .8 .8 1.1 .1 1.5-1.9 1.5 1.4 1.5-1.2 1.5 3.6 0-.3 1.5-1.5 1.5-1.1 .5-2.2-.5-2.2-3.9-4.6-1.7-1.4-2.9-4.6-1.5-1.4 .2-1.6-.9-3 .2-3-3.1-.3 1.6-4.1 1.4-.9 1.6 .1 3 .8 .5 1.4-.3 1.6-1.5 1.4-.1 4.6 2.1 0 1.2-3-.9-1.6 2 5.3 3 .9 1.5-.6 1.5 .4 .3 1.6 0 2 1.2 1 2.9 2.4 1.6-.6 1.5 .4 1.5 3.8 .2 .1 1.3-1 1.5-3.7 3.1-1.4 .4-1.3-.5 1.3-3.2-3.4-1.3-.1-1.5-1.1-.6-4.4 .5-1.6-1.1-1.2 1.2-.2 1.5-1.6-.4-1.6-2.6-.1-1.5 .8-1.5-3-3-2.1 0-1.4-1.3-5.1 2.8-.9 2.4-1.6 1 .6-1.9-.6-2.1-1.4 0-6 3-1.4-.9-.7-1.5-1.3 0-.5 3-.7 .9-1.8 .6-.2 1.5 1.8 3-1.2 .3-1.6-1.5-4.4 .1-.6-.4 .5-3-1.5-.9-1.4 .7-3-1-4.6 .2-1.4 2-3 .1 0 2.5 1.4 0 1.6-1.8 3 2.5 1-1.3-.5-1.5 .9-1 1 1 .5 1.5-3.3 7.5 0 1.5-2.6 2.2-3 1.4-3-.2-3 2.1-1.2-2.5 .4-3-.8-.7-1.4 .4-.3 3.3-3.6 7.5-.7 .1-1.4 .3-4.6-2.3-1.4 .2-6 3.7-6-2.9-4.6-3.4-1.4 0-4.6 1.1-1.4 1.6-1.6 .5-1.3 2.6-.4 3-2.7 .5-3.9-.5-2.1-1.1-6-.3-3-.8-3-1.7-1.6-2.5-4.4 2.2-.9-1.8-2.1-1.7-4.6 1.8-1.4-.9-.3 2.3-1.3 1-3 .6-.9-1.6-2.1-1.2-6 .4-3-.6 .2-4.6-2.5-3 1.4-3-.5-1-3 1-4.6-1.9-.9-1.1 .9-1.3 3-.6 1.5-1.1-.8-1.5-2.1-1.9-1.6 0-1.4-1.1 .3-3-2.9-3-6.4-4-1.6-.2 0-2.5 1.6-.7 .8-1.6-2.4-4.8 0-213.5 2.1 .7 1.5 1.5 2.4 6.7 1.6 .3 1.4-1.4 3 .2 1.6-1.1-3-2.6-1.6 1.1-1.8-.2-.2-1.5 1.3-3 2.2 0 1.5-1.4 3.9 5.9-.4 3 3.1 1.5 1 1.7 1.5-1.7-1.4-3 .3-1.5 1-1.1 3 2.2 3.6 .4 2 3 2 1.4 3.4 .1 1.6 3 4 1.2 1.4 1.8 1.6-.2 .7-4.3 .7-1 2.6 1 2 1.9 3 .3 1.4-.8 3.2 3.1 1.7 3 1.1 .4 3-1.7 1.5 1.3-1.7 1.5 .5 1.5 2.2 1.5 .5 3.7 3 1.2 .5 1.1-1.7 3 1.4 1.5 1.3 4.5-2.9 .9-3-2.4-4.6 .2-1.4 .6-1.6-3.7-1.4 2.6-3.3 1.8 1.1 3-.2 1.5-2.1 1.5 .5 3-1 1.5 2 2 4.4-1.1 1 .6-1.3 4.5-1.2 1.5-.4 4.5-1.3 1.5-1.2 5.6-1.6 1.1-1.4-1.3-1.6 0-1.4 1.9-.3 1.7-1.6 1.5 .8 1.5-.7 1.5 .2 3.3-6 1.3-1.4 1.4 .8 1.5-.3 1.5 .9 .8 3-1 1.6 1.3 4.8 .4 1.2-1.5-.6-3 2-1.3 1.8-.2 4.9-6 .8-2.7 1.5 .8 2-1.1-.4-1.5 1.4-1.7 1.5 .2-.5 1.5 .6 1.6 1.6-1.6 2.8-.2 4.1 3.2 .5 1.4 3.3-2.9 2.7-5.4 1.4 .2 1.4 .7 2.2 3-.2 1.5-1.2 1.5-.6 3.1-3-1.4-.7 7.3 .7 .8 1.4-.6 5 1.3 1.6 3-.6 1.8-3 1.2-.8 3 5 1.5-.5 3 2.3 .4 1.3-1.9-2.6-1.5-.3-1.5 3.2-1.5 1.4 1.4 1.6 .2 2.4-1.6 2-4.7 1.9 4.7-1.9 .8-.2 .7 1.5 1.5-.1 1.5 4 1.5 .8 3 2 1.5-2 .7-1.5 2-3.7 .3 2.2 2.5 3-.6 5.9-3.4-2-6 3.5-1.5-.5-3 .6-1.5 1.5-.3 1.6-2.1 3 2.8 .4 2.6-5 3.4-.8 1.1 .2 1.5 .6 1.3 1.5 .7 .9-.5-.4-3 1-.7 1.5 .7-.8 3 .8 1.5-2.1 4.5 .6 .9 1.5-.7 1 2.8 2.1 1.8 1.4-1.1 1.6 .9 3-.9 1.4 2.5 6.2-.2-.2-1.5-3-1.5-.7-1.5 2.3 0 1.4 1 1.5-1-3.3-4.5 .4-.8 1.4 .6 3-2.8 1.1 1.5 0 4.5-2.5 1.5 .9 1.5 3.5 .7 3.8 2.3 11.2 .2 13.6 1.9 3-1.5 1.4 0 3 1.2 3-1.5 3 .3 2.5-.6 1.2-3 2.9-1.5-.9-1.5 1.6-3-1.3-1-3 1.7-1.1-.7 .2-1.5-3-1.5-.5-1.8-3.6 1.8-1 1.5-2.4 1.5 .6 1.5-4.2 1-4.4-.5-1.2-3.5-4-3 .6-1.4 2.9-1.6-.5-3-3.8-.1-1.6 .7-1.5-9.6 3.8-4.5 2.3-.5 1.4 3.6 3 .4-.3 4 2.6 3-.7 2.2-1.6 0-1.9 2.3 .5 .9 4.4-2.5 3 1.6-.5 1.5 .5 .6 1.6-.8 .5-2.8-1.6-3 0-1.5-1.4-1.5-.6-3-1.5-1.4-3-.2-1-1.4 1-3.7 3-1 4.6 3.6 3-1.1 3 .5 2.6-1.3 .4-2.1 .4 2.1 1 1.1 1.6-.9 1.4 .2 .5 1.1-1.6 1.5-.5 1.5 .3 1.5 1.3 1.5-1.4 .8-1.6-1.2-1.4-.1 0 1.3 3 1 1.4 1.6 1.6-.1 4.4-4.8 1.6-.7 .5 .7-2.1 7.1-3.5 1.9 .8 4.5-1.3 4.5 2.6 1.4 1.4-.3 1.6-1.5 1.5 .4 .9 1.5-.5 7.5 1.1 1.3 3-.1 1.4 .8 2.1-.5-1.6-1.5-1-4.5 2.1-.6 1.9 .6-1.7-3-.6-3-2.6-2.6-6 .7-2.2-5.6 .6-.9 1.6 1.6 1.4-.5 1.6-2.5 6 2.1 1.4-.7 1.3 .9-1.6 4.5 .3 2.4 3 1.7 1.5-1.1-.8-1.5-.1-3 1.3-4.5-.7-1.5 2.2-3 1.2-6-3-2.4-3 2.1-3 5.8-1.1 .5 1.1 .9 0 1-1.6 .3-.1-2.2-1.2-1.5 4.6-6-1.3-3 2.6-4.4 3 2.4 .6-1-.6-2-3 .5-2.3-3 2.2-1.5-1-4.5 1.1-.8 3-.2 1.4-1.6 3.1-.4-4.5-.2-1.6 1.2-2.7 .5-3.3 5.2-3 1-3-2.5-4.4-5.4-5.3 4.7-2.3 .9-1.4-.2-1.6 1.6-.7-.8 1-4.5-.2-4.5-3.1 1.3-2.8-2.8 .7-1.5-1.5-1.5 1.5-3-.9-4.5 2.2-3-.6-.9-3-1-.8-1.1 4.8-3-1.1-3-1.5-.7-3 2.9-3-2.9-2.1 .7-2.3 1.5 .3 1.5 5.2 1.5-1.1 1-1.4-.3-2.4 .8-2.2 2.3-4.4 1.3-1.8-2.1 .1-3 1.3-3 3.4-1.4 .2-1.6-4.8-.9-1.4 1.5-1.2-2.1 1.3-1.5-2.6-3-.5-3.5-1.6-.9-6 1.3-1.4 1.6 .3 1.5-1.9 1.8-3-.1-3-1.2-1.5 .9-.2-2.9 1.3-3-1.5-1.5 .5-1.1 1.4 .9 1.2-1.3 4.8-1.7 3 3.8 1.6 .1 1.8-2.2 1.7-4.5 2.6-3 .1-4.5 1.2-1.1 1.6 .3 .6-.7-.6-3.2 3 .2 3-4.3-3-1.7 4.4-3 3-.2 1.1 .2-2.5 .5-.4 1 1.5 3 3.3 .5 .1-3.5-1.4-1.5 1.4-1.1 .4-1.9-.2-3 1.3-6-.6-1.5 .6-1.4 1.4-.5 1.6 .1 1.4 1.4 3-.9 1.6-1.8 .6-1.4-.6-1-1.6 .5-1.4 1.8-1.6-1.2-3-.1 0-.7 3 .5 1.2-1.3-.1-1.5 3.5-4.1 6 2.6 3.6 0 2.4 3.1 2.2-1.6-.1-1.5 .9-1 3-2.2 1.4 .3 .1 5.9 .5 1.5 0 1.5-1 1.5 .4 1.8 3-1.1 1.6 .5 3-.5 1.4-2.6 1.6-.7 .7 1.1-1.4 1.5 .5 4.5-1 1.5 .8 3 1.8 1.8 3 .6 1.6 2.3 1.4 .4 .8-.6 0-3 2.8-4.5-.2-1.5-2.1-3 3.3-.8 1.9 2.3-3.3 9 1.4 2.3 1.4 1 1.6-.1 1.4 1.3-1.6 1.5 1.6 2.6 1.7-2.6-1.6-1.5 1.5-3.1 1.4 .6 1.4 2.5-.4 1.5-1.6 1.5 .6 .8 4.6-.3 1.1 1 2.4 3 .1 1.5 2.3 1.9 1.5 3.4 1.6 1.3 1.4-1.1 3 .5 1.6 1.4 1.4 .3 1.9-.2-2.4-3 .5-1.6-3-.2-1.4-1.2 .7-1.5-.4-1.5-2.3-1.5 .2-1.5 3.2 .7 3-1.1 1.6-2.5 3 2.1 1.9-.7-.8-4.5-1.9-1.5 .2-6-.7-3 .9-1.5-.8-1.5 1.2-.6 1.4 1.5 4.6-.3 1.2-.6 .8-3-1.6 0 .1 1.5-2.1 .6-3.9-2.1 2-3-1.1-1.7-2.7-1.3-.7-3-1.3 0-1.3 2.6-1.4-.1-4.2-7-.2-1.5 .8-1.5-1.2-3 1.1-3-.3-3-1.2-1.5 .1-1.5-2.2-1.5-.2-1.5 2-3 2.5-.5 .8-1-.5-1.5 2.2-1.5-1.8-3-2.3-1.5-2.9-6 2.5-4.5-1-1.1-2.3 2.6 .6 3-2.9 .1 0-1.6-1.4-1.3-3 1-4.6-1.6-1.4-1.9-1.6-.5-.2 1.3 .7 1.5-3.5-.7-1.8 .7-.3 1.5 1.7 3-2.6 4-1.4-.5-3-3.5 0-3.1-4.6-3.8-1.4 1.2-1.6 .3-1-.6-3.8-3-1.1-3 4.5-3 .4 1.5-.6 1.5 1.6 1.8 2.2-1.8 1.9-4.5-.1-1.5-1.4-1.5 .4-4.6-1.4-1.2-2.1 1.3-.9 1.7-3.5 1.3 .4 1.5-.5 1.5-2.2 1.5-.2 2.6-1-1.1 .7-1.5-.8-1.5-4.5-3 1.3-1.5-1.7-1.4-1.6 .9-3-.3-6 2.6-3.4-.3-.7-1.5 4.1-3 1.7 0 .2-3-2-1.5-1.3-2.6-1.6 .2-3-1.1zM1526.6 85.4l-.5 1.1 .5 .6 3.2-.6zM1531.2 92.4l-.6 1.6 .6 .4 2.1-.4zM1555.2 102.4l-.7 .6 .7 2 .8-2zM1558.2 98.2l.5 3.3 2.5 3.8 .1 2.2 1.1 1.5 1.8-.1 1.4-1.5 1.7 .1 0-1.5-1.7-.6-3-5.1-1.4-.6-1.6-2.2zM1567.2 88.9l-1.4 .6 .7 1.5 2.1 .4-.4-1.9zM1577.6 113.5l-1.4 1.5 1.4 .7 2.1-.7zM1582.2 98.4l0 2.1 3 .6 1.8-2.6-.4-.9zM1586.6 85.4l-1.2 1.1 1.2 1.6 1-1.6zM1587.8 112l.5 1.5 1.2 1.5 .2 1.5 1.5 1.2 1.4 .2 1.3-1.4-.5-1.5 1.3-1.5-.4-3-3.1-1.5zM1610.1 170.5l0 3 2.1-.7 1.5 .7 .7-1.5-2.2-1.9zM1618.2 122.8l0 1.8 1.8-.6-.4-1.1zM1640.6 138.9l-1.4 1 0 2.1 1.4 1.2 3 .7 .5-1.9 1.4-1.5-.3-1-1.6-.7zM1648.5 142l.3 1.5 2.4 1.8 1.7-1.8-1.7-3zM1651.2 138.8l0 1.3 2.5-1.1zM1558.2 260.3l-.9 1.7 .9 .4 .5-1.9zM1573.2 230.9l-1.1 1.1 1.1 3.6 1.2-3.6zM1586.6 251.7l-.7 1.3 .7 1.5 2.3 0-.4-1.5zM1564.2 390.5l-.6 .6 .6 1.2 .4-1.2zM1576.2 386.6l-1.1 1.5 1.1 1.2 1.2-1.2zM1589.6 341.2l-.8 1.9-.9 6 .9 3 .8 .7 1.6-.4 1.5 2.7-2.2 1.5 2.2 4.5 4.5 .7 1.4 2.2 1.6-.5 1.4 .7 1.6-1.2 1.8-.4 1.2-3 .9 1.5-.7 1.5 1.2 1.1 3-.5-.4-3.6 3.8 0 1.5-3-1-3 2.7-4.5-3.3-1.5 .9-1.5-1.2-.6-.6 .6 .3 1.5-1.1 3.7-1.6 .5-6-.7-1.1 1-1.9 4-3 1.7-.1 1.8-1.3 1-1-1-.3-3 2-1.5-.3-1.5-2-1.2-1.4 .4-2.9-.7 1.1-1.5-.9-4.5 1.1-1.7 1.6-.6 1.4 2 1.6 .1 1.2-2.8-.5-1.5-.7-1.3zM1636.2 345.8l-3.3 4.8 4.9 1.5-2.8 4.5 2.6 .6 1.3-.6 .8-1.5-1.1-1.5 .6-.6 3 .6 0-1.8-1.4-1.2 0-1.5 1.8-1.5-3.4-2zM1646.6 349.7l-.8 .9 .8 2 1.2-2zM1649.6 351.7l-.8 .4 .2 1.5 1.2 1.5 .4 3 2 .4 .7-.4-1.4-4.5zM1655.6 356.5l-.8 1.6 .8 .4zM1516.2 400l-.6 1.6 .4 1.5 1.6 .5 1.3-2-1.3-1.4zM1450.2 427.5l0 2 1.4 .2 0-1.6zM1370.6 252.9l-1.4 .2-1.6 1.1-.3 1.8 3.3 .4 1.6-1.9zM1369.2 289l1.4 2.4 1.6-2.4zM1387.2 279.6l-1.6 1.3-.8 2.1 2.4 1.1 2.6-1.1 .1-1.5zM1393.2 263.1l-1 1.9 1.8 3-1.2 1.5 .4 .9 1.4-.6 .4-3.3-.4-2zM1456.2 408.1l-1.3 1-1 4.5 .7 1.5-1.3 1.5 1.3 2.6 1.6-.2 .9-2.4 2-1.5 .6-1.5zM1466.6 413.4l-.8 .2 .8 1.6zM1492.2 305.4l-1.6 .9-.3 2.3 .3 1.9 1.6 .6 .5-4zM1508.6 361.4l-.8 1.2 .8 1.2 1.2-1.2zM1496.6 288.7l-1.2 1.8 1.2 1.1 .6-1.1zM1505.6 283.8l-.9 .7 .8 1.5 1.7 .9 .3-.9zM1513.2 282.5l-1.5 .5 .4 1.5 1.1 .7 .8-.7 0-1.5zM1517.6 296.7l-.8 1.3 .8 1.2 4.6 1.8-1.6-3.3-1.4-1.1zM1523.6 312l-1 1.1 1 1.2 1.3-1.2zM1531.2 352.3l-.8 1.3 .8 1.9 .8-.4 .2-1.5zM1537.2 320.2l-1.6 1.1-3.4 .8 .4 6.8 4.6 .6 1.4-1.2 1.6-3.1 3-.1-4.6-4.4zM1537.2 254.3l-2.6 1.7 4 2.2 1.2-.7zM1484.6 195.8l-.6 1.7 .6 .9 .5-.9zM1513.2 235.9l-.1 6.6 1.5 .2-1.3-1.7-.1-1.5 2.2-3-.8-.9zM1525.2 236.4l-3 .6-1.6 2.3-3-.8-2 1 2 2.6 1.6 .4 1.4-2.6 1.6 1.4 1.4-.4 2.9-2.9zM1528.2 179.2l-1.3 3.3 1.3 1.9 1.4-.5 3 .5 3 1.5 1.6-.4 .6-3-2.9-1.5-2.3-2.6-1.6 1.1 .2 3.3-.2-1.8zM1549.2 284.5l-.3 1.5 1.7 1.8 1.1-1.8-1.1-1.5zM1555.2 191.2l-3 .5-1.6 1-.9 1.8 3.8 3-.9 1.5 1 .7 1.3-5.2 2-1.5zM1577.6 133.1l-.5 1.4 .5 1.1 1.6 .1 .8-1.2-.8-1.2zM1591.2 157l-2.4 1.5 0 1.5 3.8 2.8 .9-2.8-2.7-1.5zM1628.6 163l-1.4 2.9-1.6-1.2-1.7 1.3-1.6 3 .3 2 1.6 .7 3.9-1.2 .4-1.5-1.7-1.5 .4-.9 3-2.1zM1557.6 286l2 1.8 1.6-.2-.8-1.6zM1573.2 278l-2.4 2-.1 3 .9 1.5 4-3-.4-1.5zM1612.2 365.5l-.3 1.6 1.6 0zM1606.2 348.4l0 1.3 1.7-.6zM1513.2 343.8l1.4 6.6 1.6-.8 1.4 .1 .8 .9-1 3-3.9 3-.3 1.5 1.4 3.4 4.6-.3 1.5-1.5 1.5-.1 .5 1.5-1 1.5 2.5 1.5 1.7 3-1.3 3 .6 .4 .9-.4 .6-1.3 1.5 .3 1.4 3.6 1.6-.9 2-3.2-2-1.6-1.7-2.9 2.3-4.5-3.1-1.5-.7-3-2.8-2.9-1.6 .2-1.4-1-.4-2.3-2.5-1.5 .6-1.5-2.3-2.4zM1484.6 208.6l-2.5 2.4 2.5 1.5 3 3.5 1.6-.6 1.5-2.9-.9-1.5zM1535.6 245l-.8 .5 .8 1.9 1.1-1.9zM1577.6 136.8l-.6 2.2 .6 1.6 2.1-1.6-.5-2.2zM1519.2 369.8l-1.1 .3-1.9 2.5 0 1 1.4-.3 2.3 1.3 .1 1.5 2 0-1.4-4.5zM1534.2 378.3l-.9 .8 .7 1.5 1.6 .6 .8-.6-.1-1.5-.7-.8zM1519.2 382.1l-1 1.5 1 .8 .7-.8zM1610 80.4l3.4 0 3.3 1.6-1.5 .7-3-.3-1.6-.6zM1649.4 80.4l4.9 .1 .9 1.5-.1 1.5-1.6 3-1.6 1.5 .7 .8 1.6-.6 1.2 1.3-1.2 1.6-3 .9-2.2 2 1.9 3 0 1.5-2.7 1.1-3-1.8-1.6 .8-1.6 2.9-4.4 2.3-3-1.4-2.1 2.1 .3 1.5-1.2 1.7-3.7-1.7-2.3-4.5-1.3-4.5 .3-1.5 1-.4 1.6 .8 1.4-.2 6-2.3 1.8-2.4-1-3 .5-1.5-1.3-2.1-1.1 .6 .5 1.5-.4 3-2 2.3-1.4-1.3-1.6-.1-4.4 2-3-1.4 0-1.8 3-1.8 1.4 1.6 1.6-.1 1.1-.9-.7-3 1-1.1 2.5-.4 .5-1.4 1.6 1.2 7.4-.6 .2 2.3 1.4 .7 1.4-.3 5.1-3.4zM1661.6 80.5l3-.1 0 2.1-2.1 2.5 .5 1.5-1.4 .4-3-1.1-.4-.8 .4-1.2 1.6 .6 1-.9zM1387.7 83.5l.9-.5 0 2zM1499.5 85l1.7-1 1.4 1.3 1.1 2.7-1.1 3.9-3 2.1-2.4-1.5 .9-1.5-.7-1.5 1.9-1.5zM1363.2 85.9l1.9 2.1 .9 1.5-.5 1.5 1.6 1.5 .3 1.5-1.8 3 .8 7.5-2.5 1.5-.5 1.5 2.8 1.1 1.4-2.4 1.6-.5 4.6-4.2 .8-1.5-.6-1.5 1.2-.9 .9 .9 .6 1.5-.7 3-.8 .9-2.8 .6 2.3 1.5 .5 3.3-6 .3-1.1 2.4 4.3 1.5-.9 3 .7 1.2 1.4-.2 4.6-3 1.4 .2 3-1.2 3 .9 1.6-1.5 1.4-.4 2.3 2.5-6.7 4.2-1.7 3.3 6.1-1.5 1.6 .7 4.4-.1 1.6 1.6 1.7-.7 4.3 5.6 8 7.9 .2 1.5-2.5 4.5 .6 1.5-2.3 4.5 .4 .6 6 1 .9 1.4-.9 1.3-1.4-.3-1.6 2.5-1.4 .2-1.9-.7-2.7-4.2-1.4 0-1.9-6.3 2.3-3-.5-1.5 2.9-3-.1-1.5-1.8-3-2.5 .3-1.4 4.7-3 0-2.3 1 2.9 3-.2 1.5-3.4 .2-2.5 1.3 2.2 3-.9 1.5 1.3 1.5-1.7 .8-.2-2.3-5.1-4.5 1-1.5-1.7-2.7-1.4-1-1.7 2.2 1.5 4.5-.6 3 .5 1.5-1.3 1.1-1.4-.2-1.6-2-1.3 1.1 .7 1.5 .2 7.5 1.1 1.5-1.5 3 .8 1.5-.1 3-1.5 4.5-4.4 2.2-3-1.5-2 3.8 .1 1.5-2.5 2.5-4.4-1 .9-1.5-1.1-.5-1.4 .5-3.2-1.5-2.3-3-.9-3-1.2-.7-.8 .7 .2 1.5-.8 1.4-1.6-3.6-1.4 .9-3.2-1.7 2.7-1.5-.1-1.5-2-1.5 2.6-1.8 1.4-.1 1.6 2 4 1.4 .4 1.8 1.6 .9 .7-1.2-1.4-4.5 2-1.5 1.6-4.5-1.5-1.9-6 .9-3 1.8-3.7 .7-2.3 2.3-.8 2.2 2.1 1.5-.2 1.5-1.1 1.2-1.5 .3-.3 4.5-4.2 4.9-1.2-4.9 1.2-2.4 2.2-.6-2.2-.7-.2-.8 0-9-4.2-3.8-.4-2.2 1.1-3-.7-.9-2.8-.6 .8-1.5-1.6-4.5-2.4-1.7-1.6 .5 0-4.3 1.6-.1 1.4 1.9 1.6-.6-2-3.2 1.8-4.5-.6-3 .8-4.2 6 4 1.4-.6 1.5-.7 .7-1.5-.3-4.5 .8-1.5-2.7-1.3-4.4 3.4-1.6-.2-1.9-1.9 .3-3-1.4-1-3-.6 0-2.1 4.6 .6 1.6-2.9-1.6-1-1.6 .5-.9-2.5-2.1-.8 0-5.7 1.6-1.9 3.2 2.4-2.4 3 2.2 .9 4.4-2.6 1.6 1.4 4.4 5.5-1.7 5.3 3.1 1.5-.5 1.5 .7 .3 .5-.3-.3-3 1.2-1.3 1.6-.3 1.4-2.8 1.6 .4 1.6-2 .2-1.5-.8-1.5 1.8-1.5-.7-3 .4-1.5 2.2-1.5 .1-1.5-1.3-1.5 1.6-1.5-.5-1.5 .6-1.5 3.7-2.8 4.5 .6zM1388.6 134.1l0 .9 1.6 .9 0-1.9zM1342.2 149.8l-1.2 1.2 1.2 .7 2-.7-.6-1.4zM1346.6 137.2l-1.5 1.8 2.6 0zM1348.2 129.5l-.6 .5 .6 2.3 .4-2.3zM1358.6 140l-1.4 3.3 .4 1.7-.5 1.5 1.5 .9 3 .5 1.7-4.4-2.9-1.5zM1360.2 103.9l-1.1 .6 1.1 .6 .8-.6zM1339.2 150.6l-1 1.9 1 .5 .9-2zM1357.2 150.9l-3 1.5 0 .8 1.4 .1zM1360.2 165.7l.5 1.8-1.5 1.5-.3 3-.9 1.5 .6 1 1.6-1.9 3-1.9 1.4 .5 .6-.7-.6-.7-1.4 .2-.4-4-1.2-.8zM1409 86.5l.6-1.1 .9 1.1zM1603.2 88.6l3 .4 .7 2-.7 1.7-1.6 1.2-1.4 .2-5-1.6zM1347.5 94l2.7 0-2 .5zM1344 97l1.2-1 .8 1-.8 .5zM1621.2 96.2l.9 .8-.9 1.9-.6-.4zM1383.4 98.5l.8-1.3 1.4-.1 .7 1.4-.7 2.6-1.4 .3zM1419.2 98.5l1.6 0-.6 .8zM1482.7 101.5l.5-1.2 .7 1.2-.7 1.3zM1610.2 103l3.4-.4 2.4 1.9-.8 1.5-1.6-1.4-3 1.1-1.4-.3-1-.9zM1617.9 104.5l1.7-.6 .5 .6-.5 .9zM1385.6 107.5l3.5 1.5-1.9 2.4-1.6 .3-1.3-1.2zM1452.9 115l.3-1.3 1.4 .1 1.1 1.2 .2 3-1.3 .8zM1608.6 116.5l.6-1.3 .6 1.3zM1396.2 119l.4 .5 .4 1.5-1.5 0zM1400.9 121l1.6 0 .3 1.5-.6 .8zM1426.2 121.2l4.4 2.3 1.6-1 2.2 3-1 1.5-2.8 1.8-1.4 0-4.6-4.3zM1546 133l.7 1.5-2.1 .2zM1439.6 135.5l1.1 2 .5 3.2-1.6 .1-2.9-1.8-.6-1.5zM1413.1 139l2.5-1.1 1.8 2.6-.8 1.5-1 .4-.8-.4zM1539.9 139l1.7-1.2 1.8 1.2-1.8 .6zM1467.9 142l1.7-1.1 1.2 1.1 .6 1.5-.9 1.5 2.1 .7 .6 .8-.6 1-3 .4-.6-1.4 .2-3zM1656.1 146.5l1.1-1.1 1.8 1.1-1.8 1.9zM1663.3 146.5l1.3-.8 0 3-1.6-.7zM1437.6 148l.6-.6 1.7 .6-1.7 .5zM1498.9 149.5l.7-1.2 0 1.8zM1533 149.5l2.6-1 1.2 1 .9 3 3.9 2.5-.8 3.5 .8 .5 7.6-.9 1.4-.7-.5-1.9 .5-2.2 2.8 2.2 1.8 2.5 0 5-1.6 .7-1.8-2.2 .4-2.2-.2 .7-4 1.5-1.8 2.7-4.6 .8-1.9-2 .9-3-.4-.7-3-.7-1.6-1.5-1.4 .8-1.3-.9 .3-1.5-4-3zM1537.7 149.5l1-1.2 .7 1.2-.8 .8zM1414.1 154l.4 1.5-1.7 0zM1565.1 155.5l1.5 0-1 2.1-1.4 .7-.3-1.3zM1562.4 158.5l1.4 0-.1 1.5-1.1 .6-2-.6zM1430.6 167.5l8.7 0 .8 1.5-.5 1-3 .9-3-.2-1.4-3-1.6 .5zM1561.1 169l1.5-.7 .2 .7zM1556.4 172l2.4 1.5 1.1 4.5 1.2 1.5-2.9 .3-2.3-1.8-.8-3zM1573.4 172l1.2-1.1 1.6 1.1-1.6 2zM1654.5 173.5l2.7-1 .7 2.5 2.6 1.5 .7 1.5-.6 3 .9 1.5 3.1 2.8 0 22.5-1.4-1.8-2.8-1-1.1-1.5 2.3-4 .7-3.5 .9-.6-.1-2.4-8.9-3-1.6 0-1.4 2.7-1-1.2 2.5-7.5 0-1.5-1.1-1.5 1.9-1.5 1.3-3zM1458.1 175l1.1-.7 .5 .7-.5 .5zM1359.6 179.5l.6-1.5 1.2 1.5zM1566.5 179.5l.7-.6 1.4 .3 .1 1.8-1.5-.5zM1644.1 179.5l1.1-1 3 1-1.6 .8-1.4 2.1zM1338.7 184l2 0-1.5 2.8-.9-1.3zM1346.6 185.1l1.2 1.9-.5 1.5-3.7 1.9-.8-.4 1.3-3zM1637.5 187l1.7 .4 .5 1.1-.4 1.5 3.4 1.5-.5 1.2-1.6-.2-1.4-1.9-1.6 1.1-.9-3.2zM1393.6 194.5l1-.1 2.4 1.6-.2 1.5-.7 0zM1446.8 194.5l3.4-1.1 1.4 .5 .9 2.1 2.6 1.5-2 4.5 1.6 3-.5 1.5-5.6 3.8-3.5-.8 1.6-6-.7-3-1.8-.9-.1-.6zM1659.4 196l.8-.9 1.2 .9-1.2 1.2zM1618.2 196.1l.7 1.4-.2 1.5-2.1 .6-1.9-.6zM1388.4 202l4.6 1.5-.5 1.5-2.3 1.3-1.6-.6-.7-2.2zM1647.9 203.5l3.3 2.1 1.4 .6 1.6-.6 1 .9 .4 1.8-1.4 2.4-1.6-1.3-3-.6zM1626.8 205l1.8-.3 1.6 1.1 2.9 5.2 0 3-1.5 2.9-2.8-4.4-.6-1.5 .5-1.5-2.3-3zM1393.4 208l2.8-.5 .8 .5-.8 1zM1599.5 209.5l.7-1.1 .4 1.1zM1647.3 211l.9-1.4 1.4 1.9 1.6 .4 1 2.1-1 1.1-1.6-1.7-1.4 0-.9-.9zM1660.2 210.3l1.4 .7 0 5-3-.8-3 2.6-1.4-.4-.6-1.9 .6-.9 1.4-.7 1.6-2.6zM1451.1 212.5l.9 0 .4 1.5-.8 1-1.2-1zM1458.1 212.5l1.1-1 1.2 1-1.2 1.8zM1453.2 215.6l1.4 .6 1.7 3.8-1.2 1.5-.1 1.5-4.9 6 1.5 1.2 1.6-1.4 1.4-.2 .5 1.9-3.5 .2-1.1 1.3-.2 4.5-1.9 1.5-.4 1.5 .6 1 1.6-1.1 1.5 .1-1.5 1.5 1.5 3-1.2 3 2.1 1.5-.3 3 1 3-2.5 1.5-.6 1.8-2.3-1.8 1.5-4.5-.8-.9-2.2 .9-.1-1.5-2.8-4.5 1.6-1.5-.2-3 2.2-4.5-.4-1.5-1.1-.2-1.4 .8-3.3-3.6 2.9-4.5 .1-4.5 1.7-1.5 3 .3-.7-3.3 .7-1 1.6 .5zM1647.1 224.5l1.1-1.1 .4 1.1-.4 1.4zM1637.1 226l.5-1 .9 1-.9 .8zM1642 226l1.6-.5 4.1 5-4.1 .2-1.4-1-1.4-2.2zM1498.2 229.8l.9 .7-.9 1zM1491.1 232l1.1-.6 .6 .6-.6 .8zM1494.3 233.5l.9-.8 .6 .8-.6 .9zM1489.1 233.9l3.1 2.2 1.4-.2 1.2 .6-1.2 .4-1.4 2.2-1.6-2.1-2.1-.5zM1490.6 243.5l1 2-2.4 1.1-.6-1.1zM1587.7 244l.5-1.3 2.3 1.3-2.3 1.5zM1465.2 244.1l1.4 .5 1.5 2.4-.7 1.5 .8 1.7-3 2.1-1.6-.1-1-2.2-.2-3zM1501.2 244.3l1.2 1.2-1.2 1.8-1.6-.1zM1492.2 246.2l.9 2.3-1.3 0zM1590.9 247l1.7-.6 1.3 .6 .7 1.5-.4 1.4-3 0-1-1.4zM1489.2 247.7l1.1 2.3-1.1 .7-.7-.7zM1504.2 249.1l.6 .9-2.2 2.5-3.6 .5-.8 1.9-1.6-.6-2.5-2.8 1.1-.9 3 .6zM1456.3 253l5.9-.6 .7 .6-1 4.5-1.3 1-2.5-1zM1399.6 257.5l1-.7 .8 .7-.8 .9zM1473.5 257.5l2.1-.6 .7 .6-.2 1.5 2.5 1.3 .9 1.7-.9 1.3-2.9-1.3-3.1-2.8zM1497.4 259l2.2-.7 4 .7 1.8 3-1 1.5 1.2 .6 1.1 2.4-1.1 1.1-1.4-1.1 .3-1.5-.5-1.5-4.4-2.2zM1511.4 262l4.8 .7 1 .8-.3 1.5-2.3 1.3-2.8-2.8zM1452.6 263.5l2-1.4 1.6 1.2 3-.7 1.4 .4 .8 3.5-2.2 .7-1.5-2.4-1.5 .7-1.6 1.9-1-.9zM1431.9 266.5l3.3 .9 1.4-1.4 1.2 2-.6 1.5-.6 .3-1.4-1.2-1.6 2 .8 3.4-.8 1.1-3-.7-1.4-1.8-1.6 .1-.5-1.7 .6-1.5zM1463.6 268.4l1.6 .3 1.5 2.3-3.1 1.5-1.5-1.5zM1459.2 270.4l-.1 2-2 .1zM1431.9 277l1.7-.6 .2 .6-.2 1.7-1.4 .9-1.1-1.1zM1524.6 277l.6-.5 .9 .5-.9 2.9zM1475.6 278.2l1.9 1.8-1.2 4.5-.7 1.2-3.6 .3-.8 1-.1-2.5zM1591.2 285.2l1.4 .9 6 6.8 3-.8 3 .4 1.6-1.2 1 .7-.9 3 .5 3-2.2 .8-2.9-.8 .7-1.5-.8-1.1-1.4 .2-1.6-1.4-4.4 2.7-3 .4-2.2-3.8-2-1.5 1.2-3.6 1.4-.7zM1468.9 289l.7-.9 2 3.9 2.9 1.5-2.8 1.5-.5 3.3-.2-3.3-2.1-3zM1580.3 290.5l1.5 1.5-1.3 1.5-2.9 1.1-1.4 1.9-3-1.5 2-3zM1444.5 292l1.1-.8 .4 .8zM1484.3 293.5l1.1 0 1.6 1.5-2.4 2.4-1.4-.8-.4-1.6zM1536.8 323.6l-.1 1.5-1.1 .2 0-1.2zM1605.9 355.1l1.2 0 1.9 1.5-2.8 2.9zM1598.7 361.1l1.5-.9 1 .9-1 1zM1641.8 362.6l1.8-.8 .8 .8-.8 1.8-3 1.3-.2-1.6zM1630 368.6l1.6 .7 1.6-.4 .5 1.2-2.1 2.6-2.5-1.1-.2-1.5zM1623.7 374.6l1.7 0 .8 1.5-2 .6-1.1-.6zM1662.7 374.6l1.9 .9 0 2.4-.7 1.2 .7 .4 .1 3.7-3.1-3.4-2.1 5.3 1.1 1.5-.8 1.5 .4 1.2 2.7 1.8-1.3 .6-3-.4-1.4 1.4-3.2-3.1-.2-4.5 3.4-6.7 3.8-.8 .2-1.5zM1642.3 379.1l1.3-.7 1.6 .8 1.5 2.9-.1 1.8-3 1.1-1-1.4zM1602.7 382.1l1.9-.5 1.6 .5-1.6 1.6-1.4 .3-1.1-.4zM1600.2 394.8l3-.5-.8 4.3 1.1 3-3 3 .4 1.5-.7 .3-.7-.3-.1-1.5-1.8-1.5 .8-3-1.9-1.5 .7-1.5zM1649.3 395.6l1.2 0-.9 1.7-.8-.2zM1583.5 398.6l1.7-.5 1.9 3.5-1.5 1.5-3.4-1.3-2.5-.2 .2-1.5 .7-.6 1.6 1.2zM1592.4 400.1l1.8-.8 1.4 2.5-1.4 1.2-1.6-1.1zM1553.6 402.4l2.4 2.2-2.4 1.7-1.4 .3-.8-2zM1565.6 403.1l1.1 1.5-1.1 3.3-1.4-2.5-1.6 1-1.5-1.8zM1573.5 404.6l1.1-.7 1 .7-.1 3-.9 .8-.7-.8zM1592.2 404.6l2-1 1.5 1-1.5 1.8zM1526.7 407.6l1.5-1.3 1.4 0 3 1.5 1.6-.3 1.6 3.1-1.5 1.5 .4 1.5 .9 .3 2.6 4.2 .2 1.5-4.2 4-1.6-1-.9 3-3.5-1.2-1.6 .4-1.4-1.6-3 1-.8-1.6 1.7-4.5 3.5-.8 1.6-1.3 1.4 .2 1.2-1.1 .2-1.5-2.7-4.5zM1563.6 410.6l1.1 0-.5 2.6-.8-1.1zM1547.6 412.1l1.6-.8 1.6 .8-.2 1.8-1.4 2.6-.4-1.4-1.5-1.5zM1573.8 412.1l.8-.7 .8 .7-.8 1zM1523.1 415.1l.5-.5 2 .5-.4 .8-1.6-.1zM1559.3 415.1l3.3-1.3 3.4 1.3-4.8 2.9zM1574.6 414.1l4.6-.3 1 1.3-.4 4.5-2.2 2.9-2.8 1.6-.1 1.5-1.5 .9-3 3.7-2.1-1.6 .1-1.5-2.6-1.5-.4 1.5 1.3 1.5-3.9 1.9-1.4 2.7-1.6-1.7-1-2.9-5.8-3-1.2-1.5-.2-1.5 2.2-2.6 4.6 2.1 3 3.2 3-.4 .8-.8-1.1-3 .3-1.5 1.4-1.3 1.9 1.3-2.6 1.5 2.3 .5 1.4-1.4 1.6-.3zM1485.3 418.1l.9-.7 2 .7-2 .8zM1476.2 422.6l.9 1.5-1.5 3-1.4 .1-4.4-1.6zM1541.5 422.6l1.7-.4 1.1 .4-.3 1.5 1.5 3-.9 .8-1.4-.1zM1327.3 427.1l2 0-.7 1.5zM1595.5 427.1l1.7-1.1 .7 1.1-2.3 1.8zM1573.8 430.1l.8-1.2 2.1 1.2-2.1 .9zM1338.9 433.1l3.3-1.4 .9 1.4-.9 1-3 .8zM1571.4 434.6l6.2-.9 2.9 .9-.7 1.5-3.6 1.3-4.3-1.3zM1329.2 440.6l1-.9 1 .9-1 .8z"/>
<path fill="#eb7d62" fill-rule="evenodd" d="M1545 80.4l6.3 0 2.6 3.1 .5 1.5-.8 .8-1.4-1.3-3 .9-3-1.1-1.6 1.1-.5-.4 1.6-3zM1640.6 89.5l1.6 .4 .9 2.6-.1 1.5-.8 .9-1.6 .1-.9-1-.8-1.5zM1548.7 97l3.5 1.3 1.2 1.7-3.3 3 1.2 1.5-.4 1.5-1.7 .2-3-2.1-1.6 2.8-1.4 .4-1.4-1.3 1.2-1.5 .2-4 3.9-.5-.4-1.5zM1632.1 97l1.1-.8 1.7 .8-1.7 1.9-1.1-.4zM1352.7 109l2.9-1 .7 1-2.1 .5zM1357 112l1.6-.5 1.6 .5-3 1.4zM1359.7 118l.5-.8 1.1 .8-1.1 2.1zM1354 119.5l1.6-.3 3 1.1 1.3 2.2-1.3 1.2-1.4-1.6-1.6 .2-1.6-1.3zM1388.3 124l7.9 2.2 2.2 2.3-3.2 1.5-.6 1.2-4.4-1.7-4.7-4zM1366.2 125.1l3.9 4.9-1.5 1.5 .6 3 1.4 .6 1.3-.6-1.2-3 1.5-.8 3 1 1.4-.9 .9 .7 1.1 4.5 1.2 1.5-1.6 1.2-2 .3 1.2 3-.8 .6-7.4 1.3-1.6-3.6-3-2.3-1.4 .2-.9-.7 .5-1.5-.7-1.5-2.6-3 1.6-4.5zM1364.6 130.4l-1 1.1 1 1.9 1-1.9zM1382.3 127l1.1 0-.8 1.5zM1594.2 128l1.4 .5-1.4 2.3-1.6-.4zM1618.7 128.5l1.2 0-.3 2.1-1.8-.6zM1595.6 131.7l1.6 1.3-.8 1.5-2.2 .6-.6-.6zM1607.4 133l4.9 0-3.1 .5-1.6 1.8zM1332.5 134.5l.7-1.1 0 2.4zM1583.7 133.4l2.9 1.6 3 0 2.6 1-.8 3-1.8 .4-3-1-1.5 2.1 2 1.5-1.9 .1-1.6-.9-1.4 .7-1.2-1.4 1.7-3zM1359 136l1.2-1.2 .7 1.2-.7 1zM1610.6 138l1 2.5-1.2 3-3 3 1.8 1.9 1.4-1.2 6 1.8 1.5-4-2.3-1.5 .8-2.2 1.6-.3 1.3 1 .3 3 2.8 .6 1.3-.6-1.9-3 2.2-1.2 4.1 2.7 .3 1 3 .4 2.1-1.4 .9-2.2 1.1 .7-.2 4.5-.9 .3-3-1.4-3-.1-1 2.7-2.6 1.5 3.6 3.5 1.6 .1 1.4-1.4 3-.5 1.6-2 3-.7 .7 1-2.3 1-1.5 2 1.8 3-.3 .7-2.9 .8-.6 1.5 .5 1.1 1.6-1.5 .1 .4 .3 1.5-1.2 3-.8 .7-1.4-.4-1.9-6.3-1.1-.2-1.6 3.2-2.7 1.5-1.7-.3-1.6 .6-.8 2.7-3.6 3.7-4.6 .5-3-1.4-2.5 3.2-.5 1.5-1.4 1.2-3.9-1.2-.3-1.5 1.7-4.5-.1-1.5 1.1-1.5 0-3-1.5 2.7-1.6-1-1.2-1.7 1.7-1.5-.5-2.9-1.4-.2-3 1-1.6-.6-3.9-4.8 1.6-1.5-.4-1.5 1.2-3-.7-1.5 .8-.7 .8 .7-.8 1.5 3 .4 .3-.4-1.2-1.5 2.2-1.5 1.7-.4 3 1.5 1.4-1.7 3-.2zM1344.8 142l2.8 0 2 2.5 2.5 .5-.9 3.4-1.6-1.5-1.4 .4-3-1.6zM1346.6 144.1l0 1.4 .8-.5zM1643.8 148l2.8-1.4 .7 1.4-.7 .7zM1370.6 150.1l3 .5 2 1.9 0 1.5-3.4 .8-1.6-.9-1.4 .5-1.9-.4zM1577.5 152.5l2 0-.3 .6zM1370.6 157.7l1.6-.5 2.8 1.3 .4 1.5-4.8 2.4-.5-.9zM1371.9 169l.6 0 .2 1.5-.5 .4zM1520.6 169.6l4.6 2.4 .6 1.5-.7 1-1.5 .1-1.6 1.9 .3 1.5 1.8 1.5 .2 1.5-1.5 1.5 .6 1.5 3.1 3-1.3 1.9-4.6 1.1-.8 1.5 1 1.5 0 1.5-1.6 .2-1.6-.8-1.2 .6-.2 1.7-3 .1-.4-1.8 1.8-1.6 1.6 .8 .8-2.2-.8-1.1-4.6-.1-1.4-1.2-1.6-.1-1.4 1.6-.6 .9 2.3 1.5 .3 3-1.7 1.5 1.4 1.5-1.7 .9-.8 2.1 3 1.5 2.9 7.5-.7 1.6-3.1-.1-1.3 2.3-1.6 .7-1.4-1.5 .8-4.5-3.7-3 .6-1.5-3.7-3.6-.7-.9 .3-1.5-1.7-1.5 3-3 .3-4.5 1-1.5-.2-1.5 1.4-3-1.3-3 .9-.4 .6-2.6 2.4-2.7 6-4.2 3 .5-1.2 1.9 2.6 .9 1.6 1.4 2-.8 .8-1.5-.9-1.5zM1520.6 173l-1.2 .5 1.2 1.1 1.5-1.1zM1508.6 182.3l-.7 4.7 .7 1 1.6-4zM1519.2 179l-1 .5 .2 1.5 .8 .5 .8-.5 .3-1.5zM1594 173.5l1.6 .6 .5 .9-.5 .8-2.5-.8zM1617.7 175l.5-1.2 1.1 1.2-1.1 .5zM1609.5 178l1.1-.9 1.6 .7 1.4 2.5 1.6 .9 1.8 2.8-.1 1.5 1.7 1.5-.4 1.5-1.6 .8-1.4-.5 0-1.8-3 .3-1.6-1.4-3 .5-1.3-.9 1.5-1.5-.2-.8-1.7-.7 1.7-.5zM1543 184l2.3 1.5-2 1.5 .2 1.5 1.1 1.2 1.6-1.2 1.7 1.5-1.7 1.1-1.6-.9-.8 1.3 .8 1.7 3 1.3-4.4 2.1-1.6-1.1-3 2.3-1.5-.7-1.3 3.4 2.8 .6 1.6-1.4 1.4 2.6 1.9-.3 1 1.5-2.6 3-.3 1.5 .6 3 1.9 1.5-3.9 2.8-3.1-1.7-1.5 1.2-1.4-.4-3 1.6-2-2 6.4-2.6 4.3-4.9 .5-1.5-.2-.5-3 1.3-6-2.6-3 .2-2.4 1.6-.9 1.5 1 4.5 2.7 1.5-1.3 3 1.4 1.5 .7 3 1.8-.1 1.4-1.6 1.1 1.7-.3 1.5 6.8 1.5 .5-1.5-1.3-3 2.2 .7 3-.8 3-2.4 1.6 3.5 3-.1 1.4-2.5 .8 1.6 2.2 1.7 3-1 1.1 .8-3.5 3 1.1 4.5 1.3 .9 7.6-3.2 3 0 1.2 .8 .5 1.5-1.7 4.5 .4 3-.7 3-1.3 2.1-1.4 .4-1.6-1-.5 1.5 .5 .8 1.6 .7 6-.4 3 1.9 3-1.2 .7 4.2 3.4 1.5-1.1 2.2-3 1.7-1.8 3.6 .5 4.5 1.7 1.5-1 1.5-4 .6-1.4-2.2-1.1 1.6-.6 1.5 3 3 0 4.5-1.2 1.5-3.1 1.2-1.6-2-3-.6-3 .5-3-2-1.7 4.4-1.3 1.5-3.4 0-1 3.2-5.6-1.7 .7-1.5-1.9-3 1.3-4.5-.5-1.1-1.8-.4 .8-1.5-2-.9-1.7-2.1 .1-3.4 4.1-2.6-.2-3 1.3-1.5-.2-3 1.5-1.5 1.3-4.5-1.8-3.8-2.1 2.3 1.7 3-2.6 2.9-4.4-3-2.2-2.9-.5-1.5 1.1-3-3-1.1-1.4-1.4-4.6 .1-.7-.6-.5-3-1.8-2.5-2.5-.5 2.5-4.5 2.6-1.5-1.2-1.5-4.4-1.1-1.4-2.6-3.4-2.3-.2-7.5 2.6-3 .3-1.5-.9-1.2-3.3-.3-1.3-1.5 3.2-.9 1.4 1.6 1.6-.1 1.4-2.2 3-.1 1.6-4.1 3-.1 1.4-1.1 0-1-1.4-1 1.4-2.1 1.6-.8 4.4 .5 2.8-.6 1.2-1.5-.4-1.5zM1547.7 220l-1.5 3.4-1.6 .7-1.4-1.2-2.9 .1 1.2 1.5-.6 1.5 .7 1 7.9-2.5 .5-1.5zM1558.2 256.4l-3 4.1-1.6-.4-1.4 .5-3-1.4-1.6 .7-1.4-.3-1.8 .9 3.2 .7 1.6 1.7 1.4-.2 1.3 .8 .3 2.1-1.6-.8-1.9 3.2 1.9 1.8 1.6-2.8 1.4 .3 1.4 .7-1.3 3.3 1.5 .4 1.4-1.8 1.4-.4 .3-1.5 1.3-.5 1.6-2 9-2.3 2.1-2.7-2.1-1.6-1.6 .6-4.4-1-1.6 .4-1.5-1.8zM1520.6 212.5l2.3 0-.7-.6zM1543.2 237.5l-.8 .5 .8 3 1-3zM1546.2 231l-.8 1 .8 .6 .5-.6zM1565.6 268.8l-1.2 .7 1.2 .8 2.1-.8zM1528.1 190l3 1.5-.3 1.5-1.2 1.3-1.4-1.3 .5-1.5zM1495.4 193l-.2 1.8-1.3-.3zM1492.2 195.3l1.3 .7 .6 1.5-.5 3.1-1.9-.1 1.5-1.5-.7-1.5-2.2 0zM1582.1 196l1.1 1.5-1 1-.7-1zM1325.6 197.6l3 .3 4.6 2.5 3.9 .1 .5 1.1 1.5 .7 1.6-1.8 1.5 2.1 4.4 1.6 1.6-2.9 .7 2.2 2.9 1.5 .8 1.4-.6 1.6 .6 .7 3-.7 1.6 2.2 1.4 .1 .8-.8-.4-1.5 1.2-1 1.4 1.2 4.6 .8 1.4 2 2.9-1.5-.4-1.5 2.1-2.3 1.4 2.3-1.6 3-.1 3-5.7-.7-1.8 3.7 4.8 6-.2 3 .9 1.5-2.9 6 3.6 4.5-.2 4.5-.8 1.5-4.2 3 0 3 1.2 1.5-.4 1.3-1.6 .9-1.4-1.3-.4 .6 2 4.5 3.2 3-.4 1.1-1.1 1.9-3.3 2.2-4.6-1.3-1.3 2.1 1.3 1.5-1.4 2.6-3-.7-1.6 1.7-3-.8-1.4 1.3-1.6-.1-1.4-1.9-3 .8 .6 3.1-2.1 3-1.5 4.3-1.7 .2-.2-1.5 .7-1.5-1.8-.8-2 .8-1 1.3-1.6 .2-.6 1.5 3.2 3-.6 1.5 1 1.4 3-.7 6 5.3-1.4 1.3-3 .7-3-2.1-1.6 .4-3-.9 0 1.4 1.6-.4 .4 1.1 3.6 3-.5 1.5-3.1 1.5 .8 1.5-1.7 3 2.7 3.1-.8 1.4-1.4-.8-.5 .9 3.5 .1 1.4-1.2 1 1.1 2 .5 3-2-.2-1.5 .9-1.6-.6-1.5-3.1-1.9-1.4 .3-1-1.4 1-1 1.4 .6 2.6-1.1-.4-1.5 2.2-3-1.2-1.5 1.4-.3 2.1-4.2-.7-1.5 1.3-1.5-.5-1.5 2.2-5.4 3 2.4 2.3 0-.5 3 1.2 1.5 1.6-1.1 3.4 1.1-.4 1.2-2.4 1.8 1.3 1.5-.5 .6-3-1.5-3 1.6-1.4-6.5-2.5 1.3 1.6 1.5-1.1 1.5 .4 3.8 1.1 2.2-1.5 3 .1 3 1.9 .3 1.4-1.1 3 2.7 .5-1.9-3.1-3 .5-1.5 .7-.6 1.5 .7 1.5-1.4 3 .5 1.4-3 5 2.3 .2 3-.6 1-1.4-1 .2-1.5-1.3 0 .7 1.5-1.2 .9-.4 2.1 4.8 1.7 2.2-.2-.6-.9-1.6 .2-.5-.8 2.1-.5 1.4-1.5 3 .9 3-.9 4.6 2.9 7.4-7.5 1.2 2.1 1.8-.3 .6-2.7 1.6-1.5-1.2-3 .6-1.2 1.7-.3-.1-1.5-1.2-1.5 .3-1.5 2.3-2.2 .5 .7-.2 1.5 1.1 1.5 1.6 .3 1.4 1.4 .1-1.7-1.1-1.5 1-1.3 4.6 .8 .3 .5-2 3 1.7 2.1 1.4-1.2 2.4 .6 .8 3 2.2 1.5 .6 3 4.6 3.2 1.6 2.8-.2 1.9 1.6 1 1.5-2.9 1.5-1.1 3-.6 3 1.5 1.4-.2 1.2 1.9-1 1.5 1.4 .3 1.9-.3 1.1-1.2 1.4 1.2 1.8 0-1-1.5 .8-.9 3 1.6 1.5-.4 1.5 1.3 12 1.3 10.4-.9 14.5 1-.8 1.6 1.3 1.5 1.6 .4 1.1-1.9 1.9-.5 .9 .5-.3 3 2.4 2.7 .3 1.8-1.9 0-1.3 1.5 .1 1.5 1.2 .4 3-1.4 3 2.5 1.6-2.8 1.7 1.3-2.6 4.5-.6 3 1.2 3-1.2 1.5 4.5 3.7 .6-.7-1.1-1.5 .5-.9 6-1.8 3 1.9 2.3-2.2 .6-4.5-1.5-.7-3-3.2-1.4-.3-3 2.7 0 1.5-3 .6-.3-.6 1.6-1.5 .4-1.5 3.3-3-.6-1-2.8-.5 2.8-.7 4.6-4.5 3 1.1 1-1.9 .2-4.6 3.2 .8 .7-.8-.7-2.6 3 1.6 4.3 1 .2 1.6 1.5 1.5-2 1.5-4 .6-3-1.2-1.7 .6-1 1.5 1.3 2.4 1.8 .6 1.2 1.4 1.4-.7 6 3.3 1.7 2 1.3 3.3-3.1 4.2-2.9 1.8-1.6-.3 .1 1.5 4.5 .9 1.6-.9 2.4 1.5 .6 1.5-1 3-2 1.3-3-2.2-1.6 .5 .7 1.9-3.7 1.6-1.4-1.6 1.3-3 .2-3-1.5-.2-1.6 1.2-1.4-.4-6 2.6-2.2-3.2-2.4-.5-1 2 1.7 4.5-.7 .7-4.4 .1-1.3 2.2 1.3 .6 1.5-.4 .5 1.3-.6 1.2-2.6 .3 .2 3 2 3 .1 1.5-1.1 .3-.4 1.2-.8 4.5 .3 3 .5 1.5 1.8 .6 2.1 2.4-2.1 1.7-1.4-.9-1.2 .7-1.1 1.5 .3 1.5 3 3 .4 2.3 1.6-1.4 0-2.4 5-1.5 1-1.5 1.4 2.8 1.9-1.3-.7-1.5 1.8-.9 3 1.3 .5 1.1-1.9 2.1-3-.2-1 1.1 1 1.6 1.4 1 1.6-.6 2.2 4 .1 1.5-1.8 3-2.1 0-.7 3-2.4 1.5 .8 3-2.1 2.4-1.6-3.1-1.4 .3-1.6 1.6-4.4-.2-1.6-.8-1.4 .6-1.6 3.3-1.4 1-1.6-.8-1.4 .8-1.6-.3-1.4-1-1.6 2.4-3-1.2-.6 1 .1 1.5 3.5 2.5 .7 2-.7 2.3-1.4 .1-1.9 2.1 1.9 .5 1.4-1.2 2.5 2.2 .4 1.5-1.3 .4-1.6 1.7-3-.4-1.4 1.1-1.6 .1-4.4-1.2-3 .5-1.6-1.6-1.4 .6-3-2.5-1.6 .2-1.4 1.9-2.1-5.3 .5-4.5-6-1.8-5.4 1.8 1.7 1.5-.7 2.3-3-2.6-2.4 1.8 .7 3 1.7 1.9 2.6-.4 .4-2.1 1.4 .1 0 .9-1.2 1.1 1.1 1.5-.2 1.5-2.7 1.9-1.4-1-.8 .6 1.9 3 0 1.5-2.7 3.8-2.6 .7-.6 1.5-2.8 .7-.5 2.3 1.3 3-3.8 2.5-3 .9-2.5 2.6 .1 1.5 2.5 1.5-1.5 1.5-1.6-2.4-3 .1-1.4-1.9-4.6 5.9-2-1.7 2.6-3-2-1.5-1.6-4-3 2.4-1.4 2.3-3 .4-4.6 2.2-3 .2-8.7 2.5-4.7 3.7-3-.4-3 .7-3.9-2.5 .9-1.5-7.6-2.9-1.4 1-1.6 0-7.4-5.1-3 .2-2.8 3.8 3.1 1.5-.3 3.2-4.6-3.8-3 1.7-2.7-1.1-.2-1.5 .8-1.5 2.7-1.5-.8-3 2.9-3-1.7-1.5-.2-3-1-1.5 1.4-3-2.6-1-4.6 .6-2.7-2.6 2.2-3-2.5-3.8-3 2.4-2.8-1.6 2.2-3 .1-1.5-3-3 2.6-3 1.3-3 .2-6-.6-.3-3.1 1.8-.8 3 2.3 1.5-2.8 4.6-3.4-1.6 3.4-1.5 0-2.6-4.6-2.6-1.4-.1-.9-5.2-3.7-1.7 0-86.3 4.6 3.1 1.7-2.2-3.3-2.6-3-.1 1.6-.3 1-4.5-1-1.4-1.6 .5zM1343.6 220.6l0 1.2 1.6 .2 .3-.5-.3-1.3zM1339.2 380.6l-1.1 1.5 1.1 1.2 .5-1.2zM1343.6 383.6l-2.1 3 2.1 2.2 1.6-.4 3 1.3 1.4-1.4 1.6 .1 1.9-1.8-.5-.9-1.4 .2-1.6 1.7-1.4-.5-.5-2zM1355.6 372.2l-1.1 .9 1.1 .5 1-.5zM1367.7 361.1l-.7 1.5 .6 1.2 1.9-2.7zM1372.2 304.5l0 2.7 .6-1.6zM1378.2 301.8l-1.3 .7-.8 1.5 2.1 1.6 1.7 0 1.6 4.5 2.7 2 3.1 4-2.5 1.5 .8 1.9 1.6 .3 3-1.5 1.4 1.2 1.6-.1 3 1.6 1.6-1.9-.2-3 .6-1.5 1.7 0 .7 1.3 3-2.6 7.6 1 .8-1.2-3.8-6.7-2.8-2.4-3.2-1.4-4.6 3.4-4.4-2.2-3 2-3-.8-1.6 1-3-.7-1.4-.9-1.6-2.3zM1414.2 310.9l-1.1 .7 1.1 .4 3-.4zM1423.2 428l-.5 .6 3.5 1.4 1.4 1.6 1.9-1.5-1.9-1.8zM1425.1 377.6l-.4 1.6 1.5 .4 1.7-2-.3-.7zM1435.8 386.6l-1.4 3 2.2 2.3 2-.8-1.3-3 2.3-.2 1.3-1.3-2.7-1.3zM1471.2 391.8l-.6 .8 .6 1.5 1.4-1.5zM1480.2 386.4l-1.6 2.6-3-2.1-2.1 1.2 2.1 .7 1.6 2.4 6-4 3 .4 .1-1-1.7-1zM1495.2 342.2l0 2.9 1.1-.5-.1-1.5zM1510.1 317.5l-.4 1.6 .5 2.9 1.4 1 1.6 .6 4.3-1.5 .6-1.5-1.9-2.9-1.6 1.5zM1513.2 313.6l-1 1 1 1.8 1.4 0-.3-1.8zM1331.6 305.2l0 2.4 1-.5zM1343.6 405.7l-1 .4-.1 1.5 1.1 .7 .7-.7zM1345.2 368.3l-1.3 3.3 1.3 1.8 6.3 2.7 1.8 4.5-.2 1.5 1.1 1 7.4-.1 1.2-.9 0-1.5-2.3-1.5 .3-3-.6-1.4-3 .3-1.6 1.4-1.9-.3-.3-4.5 1.2-1.5-1.2-1.5-.8-.5-1.4 .4-3 1.6zM1360.9 371.6l1.4 3-.1 1.5 1 1.9 1.4 .8 .8-2.7-.6-4.5-1.6-1zM1378.2 317.3l-.7 1.8 .7 2.4 2.8-3.9zM1405.2 320l-3.8 .6 .9 1.5 4.3 .9 1.4-.9 .2-4.2zM1417.2 427.9l0 1.4 1.2-.7zM1354.2 414.8l0 3.3 1.4 .7 2.2-.7 1.2-1.5-.4-1.4-1.4 .3-1.6-1.2zM1359.2 427.1l1 2 1.7-2zM1382.6 319.3l-1.4 5.7-1.6-1.6-3 .4-1.4 3.6-3 .6-.3 1.6 1.7 .3 1.6 2.4 3-4.4 3 .4 1.4 1.2 3-2.3 1.6 .8 .9-1.4-.9-1.5-3-.3-.7-1.2 .1-3zM1357.2 426.2l-.6 .9 .6 1.2 1-1.2zM1378.2 348.6l-1.9 2 .2 1.5-1.3 1-3.8 .5 .3 1.5 1.9 2.1 4.6-.1 3 1.3 3-1.8-3-.4-.9-1.1 .4-4.5zM1387.2 333.2l-3 2.3-.7 1.6 3.7 5.1 3.4-2.1 1.1-1.5-3.1-4.8zM1487.6 199.3l1.5 1.2 .6 3-.5 .9-2.1-.9zM1560.6 200.5l2-1.3 0 1.6zM1482.5 205l1.6 0-.5 1.5-2 .7-.4-.7zM1491.6 208l2-1.2 .9 1.2-.2 1.5-2.1 .7-.9-.7zM1381.8 211l1.2 0-.4 1.2-1.4 .9zM1494.4 211l.8-.8 3 .7 .1 1.6-1.7 1.1-1.4-.6zM1545.5 214l.7-1.3 2.8 1.3-1.4 .9zM1549.4 214l1.6 0-.4 .8zM1377.9 215.5l1.7-1.4 5.3 1.4-.7 1.6-1.6-.9-3 1.3-1.4-.3zM1492 215.5l1.6-.9 3 .2 4.6 .7 .8 1.5-.8 1-1.6-.4-1.4 1.5zM1507.2 215.7l2.2 1.3 .4 3-1.2 .7-2.8-2.2zM1372 226l2.4 3 .3 1.5-2.5 2.3-.7-.8zM1516.2 225.4l1.7 .6 .1 3-1.8 3-1.6 .9-1.7-.9-1.5-3 .4-1.5zM1519.3 230.5l3.5 0 1.3 1.5-.5 1.1-1.4-.9-3 .2zM1508.6 230.6l1 1.4-.2 1.5 1.7 3-.9 .9-3.3-.9-.5-3zM1370.6 246.1l1.1 .9-1.1 1.7zM1524.6 247l2-.7 1 2.2-1 1.1-1.4-.5zM1581.1 262l3 0-1.9 2.3zM1385.6 264.4l3.2 .6-1.6 2.5-3 1.4-1.1-2.4zM1591.9 265l.7-1 1.6 1 .6 1.5-.5 1.5zM1579.2 265.5l1.4 0 2.3 2.5-1.8 1.5-.5 1.4-1.4-1.2-4.2-1.7 1.2-.7 1.4 .6zM1582.9 271l.7-.7 1.6 1.8 0 2.2-2-.3 .4-1.5zM1357.4 272.5l1.2-.7 1.4 .7-1.4 2.9-1.4-1.3zM1399.2 273.5l.9 .5-.1 1.5 1.2 1.5 .2 1.5-.8 1.2-1.4-.4-3.4-3.8zM1378.2 274.7l2.2 .8 1.6 1.5 .3 1.5-1.1 1.5-1.6-1.9-1.4 .6-1.6-.4-.1 1.7-1.3 1.4-2.3-2.9 3.3-1.5zM1486.6 275.5l1-1 .8 1-.8 1.8-.7-.3zM1541.5 277l.8 1.5-.7 .8zM1367.6 278.7l.9 1.3-.1 1.5-2.4 1.5 1.1 3-2.5 .9-1.4 1.8-1.6 .2-1-1.4 1-.9 1.6 .3 .8-.9 .6-1.5-.9-1.5 .1-1.5zM1544.6 278.9l.6 1.1-.6 1.8-3 .4-1.4-.7zM1380.1 281.5l1-1.4 1.7 1.4-1.6 .5zM1550.4 292l1.8 .7 2.4 2.3-2.4 1.6-1.4-1.6zM1592.4 292l1.8-1.4 1.5 1.4-1.5 1.7-1.6-.7zM1550.6 299.5l.4 3 2.1 1.5-.6 1.6 .9 1.5-.4 1.5 .6 .5 1.4-.5 1.6-2.2 2.8-.8 0-1.6 3.2-.6 3 .6 0 1.6 3.6 1.5-.9 3 .3 1.3 3 1.1 3-1.2 1.6 .6 1.4-.4 1.6 2.2 3-.5 3 2.2 1.4 0 2.1-.8 .9-2 1.6 .4-1 1.6 3 3 .6 1.5-.5 1.5 4.4 6 2.5 1.7 .4-1.7-2.4-3 1.9-3 .1-3.4 7.4 1.9 1.6 1.6 1.4 .2 1.6-.4 3.4-4.4-2-2-2.7 2-.3 1.5-1.4 .6-.3-.6 1.6-1.5-.8-1.5 .6-1.5-3.1-3-.8-4.5 2.7-1.6 12.1-.5 4.4 .5 1.6 2 1.2-2 4.8-.5 21-.3 10.4 .6 0 7.2-1.4-.3-.2 2.4 .2 .4 1.4-1.3 0 34.6-1.4-.3-4.6 4.7-3-.9-1.7 .3-2-3-.1-1.5-2-1.5 3.9-3 .9-1.5-.4-1.5 1.8-1.5-.4-.8-1.4-.1-1 .9 .9 1.5-4.5 2.5-4.4-4.6-1.6-.2-2.9-5.2 .4-1.5 3-3-.5-.4-3 .5-3.1 2.9 .9 3-2 1.5-.2 1.5-.4-1.5-1.2-.7-1.5 .7 1.5 2.1 1.6-.5 .4 4.4 1 1 1.6-2 1.4-.3 1.4 1.3 .2 1.5-3-.3-1.6 .5-1.4 1.7-5.3 1.1 1.2 3-1.9 1.2-1.6-1.1-1.5-4.7-4.5-.7-1.4 1.8-1.6-1.3-3 .1-3-.8-3 .4-3-3-3-.7-1.4 0-1.6 1.6-1.4-.2-1.6-.9-1.4-2.4-6 1.1-2.6-.9 .2-3-.6-.8-1.1 3.8-1.8 1.5-1.3 3 2 4.5-.9 1.4-5.9-1.9-1.6 4-1.5 .9-2.9-.7-4.6 3.8-3-1.8-1 1.8-.4 3.8-1.6-2-1.4 .1-.9 1.1 2.3 2.3 3-1.4 1.2 .6 .4 1.5 2.3 1.5 8.1 8.1 .9-2.1-.3-3 1.3-3 2.7-1.3 4.2 1.3 5.9 3 .8 3-.5 1.2-3-.5-1.4-2.4-3-.8-1.4 1 1.8 1.5-5 5-3-1.4-4.4 .9-4.6-.4-1.7-1.1-.3 1.5 .6 .4 4.4 .4 1.6 1.2 3 .7-.8 1.8 1.2 3-2.1 1.5-.7 3-3.6 6.2-3.3-1.7 0-1.5 1.3-1.5-1.1-3 .1-3.2-1.6-.2-1.4 3.5-3 1.2-3-.2-1.6 1.5-1.4-2.4-3-2.3-6-2.7-.4 1.8 .7 1.5-.7 1.5-1.2 .5-1.1-.5-.3-2.5-1.6 1.1-.3-3.1-1.4-1.5 .8-1.5 6.9-1.9 1.5-2.6-1.1-4.5 .9-3-1.3-1.9-1.4 .3-2-1.4 0-1.5 2-1.9 .1-2.6 2-3-1.4-1.5 .3-1.5 2-.1 .1 1.6 1.3 .7 1.6-2.1 3 .2 3 1.3 .8-1.6 2.2-.9 1.3-2.1 1.7 .5 .6-2 .2-3-.8-2.4-3 1.9-3-.4-1.6-2.7-3 .9-.6-1.8-3-1.5 .6-2 3 .6 3-1.2 1.6 1.6 2.9-.5 .1-2.1 1.4-.2 1.6-1.6-.2-2.1-1.4-1.2-1.4 3.7-1.6-.2-1.4-1.8-1.6 2.1-1.7-1.1-.4-1.5 2.4-4.5 4.3-2.1 1.4 .5 1.4 1.6 .1 1.6 1.5 .7 1.9-.8 1-3-1.6-3 2.5-1.5 .4-1.5-4.2-2.6-1.4 .5-3-1.4-1.9 2-1.1 4.3-1.6 .3-.8-1.6 1.3-1.5-.4-1.5-3.1 .8-5-5.3 1.6-1.5-2.6-2.3-1.4-.2-1.2 1 .5 1.5-.8 1.1-.8-1.1 .1-1.5-.8-.4-1.6-.2-4.3 2.1-1.7-1 0-1 1.8-1.1 4.2-1.4 3 1 5.6-1.1-.3-1.5zM1575.5 332.6l2.1 .5 1.6 1.3 1-1.8-.1-1.5-.9-1.5zM1603.2 335l-1 2.1 1 1.4 1.4-.2 1-1.2zM1607.6 323.3l0 2.3 1.6 .6 .6-2.6-.6-.8zM1615.2 320.4l-.1 3.2 1.9 1.5 .3 6 2.3 2.4 2.4-.9 .6-1.1 .8 1.1-.4 1.5 1.2 .5 .4-2-.4-1.4-1.5-.4-1.4-2.7-.2-3 1.3-3-5.8-.7zM1628.6 335.9l-.9 1.2 .9 .8 .7-.8zM1634.2 322.1l.4 3.9 2.3 .6 1.1-3-1.8-2.4zM1646.6 327.3l-.7 .8 .7 .8 .9-.8zM1651.2 333.9l-.2 1.7 1.6 .3 .3-1.8zM1576.2 342.9l-.6 1.7-1.7 1.5 .7 1.3 2.2-1.3 .4-3zM1607.6 326.9l-1 1.2 .2 1.5 2.4 1.2 .9-1.2-.3-1.5-.6-1.4zM1573.7 304l3.9-.5 6 .5-.6 1.6 1.3 3-.4 1.5-1.7 1.4-1.6-.9-.3-2-1.1-1.8-3-.1-1.6 1.4-1.4-.4-1-.6 1.6-1.5zM1583.7 304l10.5-.7 8.4 .7-1.6 3.1 .5 1.5-1.3 1.4-1.6-1.5-2.9 0-1.5-.9-1.6 1.4-1.4-.6-3-3.3-1.6 .3zM1525.2 305.1l1.4 .7 .5 1.3-.5 .5-2.8-.5zM1585.9 308.6l.8-1.3 1.2 1.3zM1538.2 314.6l2-1.3 .7 1.3-.7 .5zM1548 320.6l1.2-.7 3 .4 1.4-1.2 1.3 1.5-1.3 .5-1.4-.4-1.2 1.4-.4 2.4-1.7-.9zM1504.3 323.6l1.4 0-.1 2.1-1.2-.6zM1495.5 326.6l1.1-.7 .5 .7zM1540.2 328.3l1.4 .1 .9 4.2 1.8 1.5 0 1.5-1.8 1.5-2.3 3.7-2 .8-1.2 4.5 4.6 .1 1.9 1.4-.4 1.5-1.5 1.1-4.4-1-1.6 1.5-2.6-3.1-.8-3-3.1-3 0-6 3.5-.6 1.6-.9 1.3 3-.3 1.5 1.4 0-.7-1.5 1.6-3-.3-1.5zM1534.2 340.7l0 1.6 1.1-.7zM1503.6 338.6l2-.9 3 .6 1.6-.8 1.4 .9 0 1.7-1.3 1.5-.1 2.7-1.6 .6-1.4-1.5-3-1.2-.9-2.1zM1602.6 343.1l.6-1.3 0 2.8zM1524.4 346.1l1.1 0 .2 1.5-.9 0zM1599.6 346.1l.6-.9 1.4 .9-1.4 .7zM1582.1 349.1l3.1 2 .3 1-3.3 3.8-1.6 0-2.3-2.3zM1499.3 352.1l.3-1.2 1.6 .3 3 2.7 1.4-1 .5 2.2-1.4 3-2.1 1-.7-1 .4-3zM1619.8 356.6l1.4-1.3 0 1.5zM1576.2 357l.7 1.1-.3 1.5-2 .5-1-.5zM1540.2 361.2l1.5 .1 1.7 4.3 1.2 1.3 1.6-.5 .5 .7-6.5 1.9-1.6-.7-2.6-2.7 1.2-2.3zM1538.6 372.3l1.2 .8-1.2 .9zM1579.2 374l1.6 .6-.4 1.5-1.2 1.1-.9-1.1zM1530.8 383.6l1.8-.6 1.6 1.6 3 .3 0 1.7-1.6 1-3 .3-3-2.8-3.3 0 3.3-.1zM1561.2 384.5l2.4 2.1-2.4 .7-1.7-.7zM1507.2 393l.9 1.1 .1 1.5-1 1.5-2.9 0zM1574.7 394.6l1.5 .1 .2 .9-.2 2-1.6 .7zM1509.5 397.1l.7-.6 .4 .6-.4 1zM1325.6 398.6l0-.5 1.6-.2 .2 .7zM1487.4 403.1l1.8-1 .7 1-.4 1.5-1.9 .8zM1414.2 438.1l1.9 1-.5 .7-1.4 .2z"/>
<path fill="#e36b54" fill-rule="evenodd" d="M1602.9 149.5l3.3 1 1.4 2.7 1.6 .1 .6 .7 .3 1.5-.9 1.1-4.6-3.9-1.4-.3zM1619.6 148.4l1.2 1.1 1.1 3-.7 .4-1.7-1.9zM1611.4 160l2.2-.4 .8 1.9-2.8 1.5-1 1.5-.7-3zM1614.8 164.5l.6 0-.2 1.5-.6 0zM1514.6 178.6l.7 .9-.7 .6zM1535.2 191.5l2-.5 .9 .5-.9 1-1.6-.2zM1334.2 202l2 .3 1.2 4.2 .5 3-2.1 3 1.2 4.5-3.1 3-.7 3-6 1.2-1.6 1.2 0-20.6 1.6-.6 4.4 .8 1.6-.6zM1328.6 211.1l-.7 1.4 .2 1.5 2.1 .5 0-2.6zM1331.6 205.6l-1.4 2.4 3 .4 .4-.4-.4-2.1zM1348.2 211.9l3-.3 2 .9 1.8 6-.8 3.2-3-.4-3-3.3-1.6-.2-1.5-2.3 2.3-1.5zM1361.6 226l1.6-1.1 0 1.9zM1553.6 224.6l1.6 5-3-1.5-3 1.3-.1-1.9 1.5-.1zM1345.2 227l1.4 .4 3.9 3.1-3.4 4.5 1.1 1 1.4-.6 4.6 .3 3-1.4 1.4 1.5 1.6 .3 3-3.4 .7 3.8-.7 4.5-1.6-.4-2.9 1.9-1.5-1-3.7 1 .5 1.5 1.6 .8 3-2.1 1 2.8-.6 1.5 .7 3-.6 1.5-1.9 2.3-.8 2.2-2.2 1.6-1.6-.4-1.4 1.2-3-1.3-.2-4.1-1.4-1.7-4.8 1.7 .4 2.1 3.7 2.4-1.6 3 0 1.5 2.9 1.5-2 3.3-1.6-2.5-1.4-.8-1.6 2.5-2.4 2-.7 4.5 1.7 3-7.6 .2-3 3.6-.9-.8 .2-1.5-.7-1.1-1.6-.5 0-16 1.6 .3 2.6-2.2-.6-3-2.5-1.5-1.1-1.4 1.9-3.1-1.9-1.3 0-6 4.6-.9 3-1.6 4.4-.3 1.6-.8 6 5.2 3.4-1.8 .9-3-1.3-.9-1.6 1.1-1.4-2-2.1-1.2-.9-2.4-2.7-2.1 1.1-.8 1.6 .4zM1337.6 250.7l-1.2 .8 1.2 .7 .7-.7zM1337.6 255.7l-.5 .3 1.2 3-.3 4.5 1.2 .6 2-2.1-.3-3 1.4-1.5-1.7 0zM1534.2 227l1.1 .5 .3 1.5-3 3-1.4 0-1.1-1.5 .5-1.5zM1562.3 229l2.1 0 4.2 6-7.4 2.3-1.6-.5-.9 1.2-.5 4.9-3-.6-1.6 .4-.4-1.7 .4-2.1 2.9-2.4 1.7-2.9 1.4-1zM1559.6 247l6 1.2 .3 1.8 2.4 1.5 1.9 2.9 1.5-1.4 .4 1.5-.5 1.1-4.4 .3-1.6-2-3 .8-3.3-3.2-2.7-1-1.4 .6-1-1.1-.1-1.5 1.1-1.2 1.4-.2 1.6 .9zM1553 254.5l.6-1 1.6 0 .4 1-.4 1.6-1.6-.2zM1350 262l1.2-.8 1.5 .8-3.1 1.7zM1349.6 265.4l2 1.1-2 .5zM1404.7 293.5l.5-1.2 1.2 1.2-1.2 1.3zM1433.9 304l1.3-.4 1.7 .4 1.1 1.6 1.6 .6 1.6-.1 2.3-2.1 5.3 0 1.5 1.6 2.5 6 3.4 1.3 1.4-.3 3-4.8 3.9-3.8 3.1 0 2 1.7 2-.1-.1 3-1.7 1.5 1.5 3-.1 3.4 4.4 2.8 5.2-.2 2.4 3.3 1.3-1.8 .1-1.7 3 .4 1.6 2.3 1.9 .5-1.2 4.5-.7 .5-1.6-2.3-1.4 .4-.9 1.4 1.6 1.5-2.3 .6-.3 .9 1.9 6.5 1.2 1-1.2 .5-2.6 5.5-1.2 0-2.2-1.7-4.6 1.7 0-1.5 1.6-1.6-3-.9-.9 1-.5 3 2.4 3 .1 1.5-1.6 3-.7 3 .7 3 3 1.5 .3 1.5-1.5 3 .9 1.5 8.2 2.4 3 2.5 .9-.4-.1-1.5-1.2-1.5 .4-1.1 1.6-.5 .6 4.6 2 1.5-.5 1.5 2.3 3 1.6-.6 1 .6-.7 1.5-1.5 0-.4-1.5-1.4 .7-1.6-1.9-.3 1.2 1.7 3-.2 1.5-2.6 1.2-4.2 .3 .5 1.5-.9 .7-3 .7-1.4-.6-3.5-3.8 .5-1.5 1.7-1.5-.9-3 5.7 1.5-1.2-3 .4-1.5-2.7-2.5-1.6 .2-.9 .8 .1 3-.6 1.3-5.2 .2 2.2 1.5-1.6 2.2-1.4-.1-3 2.4-1.6 2.5-1.4-.4-3 1.1-2-.2 .2 1.5 3.2 1.8 .8 1.2-.8 4.6-1.4-.9-4.3 .8-.3 1.6-1.4 .8-1.6-.9-2.9 4.2-1.5 0-1.3-1.2 .5-3 1.5-1.5-.7-1.3-8.4-6.2 .1-3-5.3-3-1.4 .8-4.6-2.3 1.6-4.1 2.5-.4-.3-1.5 .8-1.5-2.8-4.5-4.7 1.5-1.5 1.5-3-1.1-1.6 .4-3 2.6-.9 2.6 1.6 1.5 .4 3 2 1.5 2.1 4.5-2.2 .5-3 2.2-.8 3.3 3.2 1.5 .6 1.6 7.6 .8 .7 2.1-.4 1.5 1.1 1.4 1.6 0 1.4-1.2 1.4 2.8-.2 1.5 2.5 1.5-.7 1-3 .6-3.3 4.4-.1 1.5 .4 .9 4.6 .2 3-4.2 1.4 1.1 3 .4 .6 1.6-1.4 1.5-.7 3 .8 1.5-.7 1.6-1.6-2.3-3 2.3-1.4-.6-3 1.9-1.9-1.4 1.2-1.5-.9-1.3-3-.8 0 2.1-6 2.5 0 2-2.9 5.9-1.5-.5-4.6 6.2-4.4 .8-2.1 1.1 .2 1.5-2.6 1.5-7.5 .5-4.6-1-3 1.6-.4-1.1-1-.4-1.6 1.2-3 .5-1.4-1.8-4.6 1.3-1.4-.4-1.3-1.9-.1-1.5 2-3-1.5-1.5-3.7-.7-1-.8-2-3.9-1.5-.6-1.5-.4-4.4 1.9-.9-3 .5-1.5 1.8 .8 1.9-.8 .8-3-.4-3-5.3-6.6-4.4-1.6-.7-2.3-1.4-1.5-.4-1.5 2.5-3 1.4 .9 1.2-.9-2.5-3 .4-1.5 .9-1.2 1.1 1.2 .5 2.2 1.4-.2 1.2 1-2.4 1.5 0 1.5-1.3 1.5 1.1 4.1 1.8-1.1 1.2-2.6 0 1.1 1.4 1.4 1.6 0 .9-1.4-.3-3 .8-1.5-2.1-1.5 .7-1.6 3-.2 1.4-1.6 3-.9 6 3.5 1.6-1.1 1.6 .4 2.8-2 .5-1-.7-1.5 .2-1.5 1.5-4.5-4.2-3-1.7-2.5-1.6 .3-3 2.8-4.4 1.2-1.3-1.8 .5-3 1.7-1.5 .1-1.5-1.1-1.5 1.6-3-1.5-3 6-2.3 .6 .8 .2 3-.8 3.2 1.4 1.5 4.6 .4 .8-.6-2.4-.6-.2-.9 1.8-4.5 0-3.7 3 .5 .8-1.3-.3-1.5 .9-.7 3 .1 1.5-.9 .2-3 1.3-.7 4.6-1.3 3.9 .5 1.8 1.5-2.5 3 2.8 3.3 6-2.6 1.4 .2 .7-6.9 2.6-1.5 2.1-3-1.5-3-1-1.5-2.9-1.5-1.4-3.3-1.6 .2-3-2.5-3.6 2.6-.8 2-1.6-.1-1.4 1.7-1.6-.4 0-4.7 3-2.2 1.4-2.3-1.4-1.5-3 2.5-1.4 .2-1.6-2.7 7.6-6.8 2.2 .8 2.2 4.1 4.6-1.7 1-.9 .3-3 2.6-4.5 3.5-.4 1.6-.8 3 .8 .6-1.1-1.3-3 7-4.5-2.8-1.5 .8-1.5 3.1 .5 1.6-1.5 3-.4zM1441.2 361.1l-3.6 3 4.4 3 .6 1.6 1.6 .7 1.4-.6-1.4-3.1-1.6 .5-.5-.6 .8-1.5zM1451.9 380.6l1.3 .6 .8-.6zM1456.2 373.7l-.8 .9 .8 .6 1.1-.6zM1459.2 319.8l-1 2.3 1 1 1.4-.3 .2-.7zM1471.2 341.6l0 1.8 1.1-.3zM1489.2 369.2l-.6 .9 .6 2 .9-.5zM1418.6 413.6l1.6 1.4 1-1.4-1-.6zM1421.6 410.5l-.4 1.6 .4 .8 1.6-.2 1.4 .8 1.1-1.4-2-1.5zM1438.2 410.5l-1.6 1.6 1.6 .8 .6-.8zM1385.6 382.9l-1.3 .7 2.7 0zM1386 364.1l2.6 7.5-2.9 1.5 0 1.5 1.5 1 3 .2 3-1.7 .5 .5-1.7 4.5 1.1 1.5-2 4.5 .3 1.5 1.8 1.8 3 .1 3.5-3.4-1.9-3-.2-2.3-2.9-.7 2.1-1.5 .6-1.5-1.2-3.1-.2-4.4-5.8-4.7zM1399.9 428.6l2.3 1.5 .5-1.5zM1406.6 410.5l.5 4.6 2 3-.9 3.3 1.4 .9 1.6-.3 1.4-2.1 3 2.7 2.6-1.5-1-2.7-1.2-.3 .9-1.5 .1-3-4.4-1.4-3 .4-1.4-1.8zM1416.6 349.1l.6 .4 2.4-.4zM1421.6 361.1l-.6 1.5 .6 .5 1.1-.5zM1453.2 384.9l-1 1.7 1 1.7 1.7-3.2zM1460.6 369.4l-.6 .7 1.5 0zM1468.2 361l-3 2.4-3.4 .7 1.5 4.5 1.9-.3 0 1.8 3 1.3 1.3-1.3-.5-1.5 1.2-1.5-.6-3 1.6-.2 1.2-1.3zM1387.2 392.4l-.6 1.7 2 2.3 2.8-.8 1.1-1.5-.9-.8zM1396.2 421.1l-.7 1.5 2.1 .5 .4-.5zM1466.6 376.9l-1.9 2.2 3.3 0zM1397.6 427l1.6 1.1 .5-1-.5-1.4zM1652.4 304l5.1 0 1.4 1.6-2.9 3 .7 3-2.5 .4-.9-1.9-2.2-1.5zM1357.6 305.6l1-.7 2.6 .7 0 4.5 2 1.6 1.6-.1 1.9-3 .9-.5 3 1.1 2.5 3.9-.2 4.5 2.4 1.5-.1 2.4-3 1.4-3 3.2-1.6 .4-1.4 3-1.6-.6-1.9 .7 .5 1.5 4.4 1.6 1.4 1.4-.1 1.5-1.3 2.1-6 1.3-1.4 1.3-.7 2.8 .7 .8 1.4-1.3 3 .2 1.6-1.6 2.5 3.4-.1 1.5 1.7 1.5 .3 3-1.4 1.9-1.6-.1-1.3 1.2-.8 4.5-3.9 3.1-1.6-1.6-1.4 1.8-.4 2.7-1 .9-4.6 .6 1.6-1.5-1.6-1.6-1.4 1.9-1.6 .5-2.5-.8 .3-1.5 2.2-1.5 .6-1.5-2-1.6-.9 3.1-2.1 .4-1.6 1.6-1.4-2-1.6 .2-1.4 .7-3 3.3-7.6-.6-3-2.1 0-3.5 3-.6 3.6-1.9 2.5-3-1.4-3 .1-3-1.8-1.2-2.1 2.7-1.7 6-2.2 .9 0-28.9 1.6 .8 1.1-1.3-2.3-3 .9-3-1.3-1.4 0-2 3-1.1-.4-1.5 2-2.4 1.4 .8 1.6-.9 3 1 3.1 0-.6 1.5 .5 1.6 3-.5 1 1.9-2.6 2.7-.3 4.8 1.9 2.6 1.2 .4-.3 3 2.1 2.1 3 1 0-2.2-2.7-.9 2.7-.7 1.2-2.3-1.7-1.5 0-1.5-1.5-1.5 .4-.8 1.6 .8 1.4-1.3 .5-1.7 1.8-1.5 .3-4.5 2-.4 3.1-2.6-.4-3zM1360.2 332.5l-3 .7-.7 .9 1.3 3 2.4 1.4 4.4-.5 .2-.9-1.6-3zM1330.2 316.7l-1.1 .9 1.1 1.9 .5-1.9zM1334.6 324.4l-.9 .7 .9 2.1 1.5-.6-.1-1.5zM1351.2 337.1l-.6 1.5 2 .7 .6-.7zM1354.2 318.8l-.8 .3-.1 1.5 .9 .9 1-.9zM1357.2 358l-1.4 1.6 1.9 0zM1330.2 326.1l-1.2 .5 1.2 1.8 .7-1.8zM1343.6 359.2l0 1.2 1.6 .2 .9-1-.9-.8zM1352.6 349.9l-1.2 2.2 2.8 1.2 .8-1.2zM1411.4 305.6l1.2-1.4 1.5 1.4 0 1.5-1.5 .6-1.4-.6zM1640.6 309.8l3 1.3 1.2 2 1.8 1.7 1.6 0 .7 1.3 .4 7.5-1.1 1.2-1.6 .4-4.4-3.6-6.9-2.5-2-6 2.9-2.2 1.5 .7zM1626.4 311.6l.8-.6 2.4 2.1-1 1.1-1.4 .4zM1658.2 311.6l.9 1.5-.5 .4-1.2-.4zM1480.4 313.1l1.2-1.4 .8 1.4-.8 .6zM1343.7 319.1l1.5-1.4 1.2 1.4 .1 1.5-1.1 1.5-1.8-.5zM1663.2 318.2l1.4 .5 0 1.7-1.4 3.1-5.9-2.9zM1583.8 320.6l1.4-.5 1.5 2-1.5 .5-1.3-.5zM1659.7 325.1l3.5-1.5 1.4 1.7 0 4.7-1.7 1.1-.2 3-2.5 2.3-.9-.8-.3-4.5 1.9-1.5 .6-1.5zM1650.7 326.6l1.9-.9 1.6 .4 1.1 .5 .3 1.5-3 1.5-2-1.5zM1656 326.6l1.2-1.2 2.1 1.2-2.1 1zM1568.6 332.6l.7 1.5-.7 2.8zM1569.3 338.6l.9-.7 1.5 .7-1.5 1.4zM1659.1 340.1l1.1-1.2 .6 1.2-.6 1zM1384.2 343.6l2 1-.3 1.5-1.7 .1zM1486.2 351.2l.9 2.4-.9 .7-.8-.7zM1551.8 353.6l1.8 2.5 1.6-1.1 .9 1.6-.9 .6-3.1-.7-1.1-1.4zM1489.3 355.1l1.3-.9 3.1 .9-1.5 1.6zM1556.2 361.1l1.2 0 1.4 3 .1 4.5-2.3 2.3-1.4-1.9-3 1.1-.4-1.5 .8-1.5-.6-3zM1333.2 366.4l1.4 .8 1.6-1.2 3 .7 1.2 1.9-2.8 3-1.4-1.5-3.5 1.5 .5 4.5 2.6 3-1.4 3 .2 3.1-3 .8-3.6-.9-1.2-4.5 1.3-4.5-.9-2.7-1.6-1.4 0-2.3 3 .1 1.6-1.7zM1388.7 371.6l1.5-.7 1.9 .7-1.9 1.5zM1348.2 377.2l1.4 3.4-1.4 .9-1.6-.4-3.1-2zM1358.4 386.6l.7 0 1.1 1.5-1.6 1-1.1-1zM1364.5 386.6l1.7-1.1 1.5 1.1-1.5 2.3-1.8-.8zM1346.3 392.6l1.9-.3 2.1 1.8-2.1 1.2-1.6-.3-1.2-.9zM1465.1 394.1l1.5 .4 .9 1.1-.9 2.5-2.3-2.5zM1343.6 398.1l1.6 .8 1.7-.3 .4 1.5-.7 2.5-3-2.2zM1465.1 401.6l1.5-1.2 .8 1.2-.8 .6zM1433.6 418.8l1.6 .5 .5 .3 0 1.5-2.1 .9-1.7-.9zM1429.2 420.5l1.4 1.7 0 2.6-1.8-.7z"/>
<path fill="#d75445" fill-rule="evenodd" d="M1332.1 242.5l2.5-1 1.2 1 .6 1.5-1.8 3.1-1.4-1.6-1.6-.5-.3-1zM1346.2 247l2 1.3 3.9 .2-.5 1.5-2 .7-3-1.1-.8-1.1zM1355.6 248.5l1.6 .6 .4 .9-2 1.1-1.4-1.1zM1444.2 312.4l1.2 3.7-1.2 1.5-1-1.5zM1436.2 316.1l3.4 .1 1.5 1.4 1.5 3.8 3.7 .7 .9 2 1.1-.5 .4-2.9 1.5 .1 1.4-3.2 1.6-.3 2.8 4.8-1.4 1.8-3.2 1.2-.6 3 1.3 3-1.2 3 3.7 1.9 1.6 5.3 1.4 .2 1.6-.7 1.4 .7 1.1-1.4-.1-3 2-2.8 4.6 .5 .3 .8-3.3 1.5 .9 1.5-2.5 3.6-3 .3 1.6 2.9 1.4-.7 1.6-2 3.5 1.9-1.1 3 .1 3-2.5 2.2-2.1 .8-.3 1.5 .8 3.2-1.4 .7-1.6-1.2-3-.1-.5-1.1 1.1-1.5-.6-1.2-4.4 0-3 5.5-2.3 .2 .9-1.5-3.2-.5-.7-1 3.7-6.7 2.1 2.2 3.9 .9 1.6-1.9 1.4 .5 1.3-1-1.3-2-3-1.3-3 2-1.4 .2-2.9-3.4-6.1-2.5-1.4 1 .8 4.5 1.8 1.5-1.2 2-1.6-1-1.4 .1-1 .4 .2 1.5-5.2 1.2-1.6-.3-1.4 1.7-1.6 .3-2-1.4 .6-1.5 3.3-1.5 .2-1.5-2.2-3 1-3-.9-2.1-4.4-2.3-1.6 .3-3-1.2-3 .5-2.7-2.7-.3-1.5 1.6-3-1.6-.9-3 2.6-1.4 .4-1.6 2.1-1.6-1.2 3.2-4.2 3.8-1.8 3.5-4.5 4.7-.3 4.4 1.8 .7-1.5-.5-1.5 4-3-.8-3 1.2-1.1 1.4 .2 1.6 1.2 1.4 0 1.6-.4zM1436.6 345.8l0 1.4 1.8-1.1zM1444.2 333.6l-2.4 2-.4 1.5 1.2 .7 2-2.2 .2-1.5zM1458.7 353.6l1.9 .5 .9-.5zM1462.1 316.1l1.5-.2 1.6-1.1 1.4 .7 1.3 3.6-1.3 1-1.4-1.1-1.6-2.6zM1361.5 317.6l6.1 .5 1.7 1-3.1 5.5-3-1.7-1.6 1.1-.7-.4-1-4.5zM1334.6 318.5l3.6 2.1-2 1.7-1.8-1.7zM1469.6 322.8l2 2.3-1 3 2.8 3-.1 3-.7 .5-3.6-.5-2.4-4.1-3 1.3-1.8-.2-.4-1.5 3.7-2.8 1.4-.2-.2-1.5zM1335.9 331.1l1.7 2.5 1.8 .5-3.6 4.5-1.2 5.2-3.5-.7-.1-1.5-3.5-1.5-.3-1.5-1.6 2.7 0-2.3 5.9-1.9 0-1.5-1.3-1.8 1.4-.8 3.9-.4zM1477.1 331.1l1.5-.9 .9 .9-.9 .6zM1325.6 341.8l2.2 2.8-.6 1.2-1.6 .7zM1361 346.1l1.7 0 .5 2.4-2.5-.9zM1469.7 346.1l2.3 0 .9 1.5-2 1.5-1.9-1.5zM1336.2 348.4l1.4-.2 1.7 .9 .1 1.5-1.8 .8-1.4-.8zM1346.6 349.2l.8 2.9-.8 .9-1.9-.9zM1418.3 352.1l1.9-.3 0 1.6zM1338.2 355.1l1-.7 .8 .7-.8 .6zM1414.2 355.7l1.4-.1 3.8 4-.8 .7-4.4 .5-1.3-1.2zM1403 365.6l2.2 .8 1.4-1.6 1.6-.5 1.4 1.2 4.5 .1 .2 4.5-3.1 .3-1.6-1.6-3-1.4-3 1.5-2.5-1.8zM1448.2 371.6l2-.9 .2 2.4-1.8 1.5-3 0zM1415.2 374.6l1.7 0-.6 3 .6 1.5-1.3 .8-1-.8-.3-3zM1330.2 375.5l.7 .6-.7 1.3zM1407.8 379.1l3.4-1.1 2.5 1.1-.5 3 1 4.5-1.6 1.2-3-.8-2.5-3.4 1.7-1.5zM1417.6 379.1l1.3 0 .6 1.5-.9 1-1.1-1zM1329.8 380.6l1.8-.7 .3 .7-1.7 .6zM1405.9 389.6l2.3-.8 .9 .8-.1 3-3.6 1.5 2.8 .4 1.4 1.1-1.3 3 1.5 1.5-3.2 .8-1.4 1.6-3-.7-1.6 .9-5.1 .4-3.3 3 2.4 5.8 1.6-.2 1.4 .8 1.6 1.7 1.4-.3 1.6-1.6 1.4 .2 1.5 2.6-2.2 3-.1 1.5-2.2 .9-3-2.2-1.4 .1-3 2-1.6 1.8-6-4.3-.1 1.7-1.3 .9-1.6 0-3 1.5-1.4-.5-1.6 1-1.2 3.1-3.2-1.5 .5-3-.5-1-1.5-.5 2.9-.6 2.7-2.4-1.1-1-3 1.9-1.6-.9-3.2-4.5-.2-1.5 .2-1.5 2.3-1.5 0-1.5 2.2-4.5 1.7-1 1.6 1 .2 1.5 1.2 .9 1.6-.5 .6 1.1-2.2 1.7-1.4-.7-.9 .5-.7 1.5 1.6 2.7 3-.3 3-1.5 3 .8-.6-1.7 .9-1.5-1.4-1.5 2.9-1.5-3.2-1.5-.2-1.8 3-2.1 1.6 .2 6.3 2.2 1.1 2.8 1.4-5.8 2.4-3 1.4-3 .8-.7 1.5 .7-1.3 1.5 2.8 1.9 1-.4-.3-3zM1420.2 396.1l3 .3 2.3 2.2 1.4 3 2.3 1 0 1.4-2.5 2.1-.5 1.6-1.6 .5-1.3-.6-4.7-6.9-1.5-.6zM1411.5 401.6l1.1-1.1 1.6 .3 .4 .8-2 2.7zM1388 425.6l2.2-.3 .4 1.8-2 .7zM1395.9 430.1l2.2 1.5-.9 1.5-1.7 0-.4-1.5z"/>
<path fill="#ca3b37" fill-rule="evenodd" d="M1433.4 320.6l1.8 .1 4.1 2.9-1.1 3.3-3.5-1.8-2-3zM1447 329.6l1.8 1.5-1.8 0zM1430.6 331.1l1.6-.9 3 .9 1.4-.4 2.3 3.4-.1 1.5-.6 .9-1.6-.3-.9-.6-.5-2.4-1.6-.1-1.4 1.3-1.6 .2-.8-.5zM1427.6 334.6l1.3 1-1.3 1.5-3 .5-.3-.5 1.9-.6zM1434.4 338.6l2.2-.1 1.6 1.3 .6 1.8-5.2 1.9-.5-.4-.2-3zM1445.5 341.6l4.7-.9 .6 2.4-2.2 1.4-1.4-.3-1.7-1.1zM1377.5 418.1l2.2 0-1.5 .6z"/>
</g>
<clipPath id="cd"><rect x="147.25" y="651.80" width="339.00" height="448.20"/></clipPath>
<g clip-path="url(#cd)">
<rect x="147.25" y="651.80" width="339.00" height="448.20" fill="#4e68d8"/>
<path fill="#5a78e4" fill-rule="evenodd" d="M147.2 651.8l339 0 0 448.2-133.2 0 0-3-.6-1.5 1.2-1.5-.6-1.5 1.2-.6 .5-.9 .2-3 .9-1 3 .3 .2-.8-.2-1.4-1.6-.6-1-2.5-2-.4-1.4-1-.5 1.4 .5 1.5-1.6 .8-3 3.9-1.4 .7-3-.1-1.6-1.3-.4 .5-.5 3 .3 3-.6 1.5 1.2 .4 1.6-.4 3 2.5 3 .9 1.4-.2 1.3 1.3-205.3 0 .1-42 1.1-1.5-1.2-1.2zM310.8 1098.3l0 .6 1.4 .4 1.6 0 1.9-.8-.5-.7zM360.2 1083l-1.1 .5 1.1 .9 1-.9zM366.2 1078.8l-.7 .2 .5 1.5 1.2 0zM349.7 1092.5l1.5-1.4 1.4 1.4-1.4 1.1z"/>
<path fill="#688aef" fill-rule="evenodd" d="M147.2 651.8l339 0 0 427.4-1.4-1.4-.3 1.2-1.5 1.5 .2 1.1 3-.3 0 2.3-4.8 2.9-1.2 2-3 1.4-3 2.3-1.4-2.1-3 .3-1.6-2.5-1.4-.5-1 .6 1.5 3-1.3 1.5-3.8 1.4-1.4-.6-1.4 .7 .8 3 3.7 3-12.9 0-.8-1.6 0-1.9 3-1.6 1.6 0 1.1-.9-1.1-1-1.6 .6-3-.1-3-.3-.4-.7-.3-3 2.3-7.5-3.4-1.5 2.3-4.5-.5-.6-1.4 .6-1.6-.8-1.4-2-.5 1.3 1.6 1.5-1.1 2.9-3-2.1-.9 .7-1.4 1.5-1.1 3-2.2 3 1.2 1.5-1.6 .7-4.6-2.2-.8-1.5 .5-3-1.3-1.5 1-1.5-3.3-1.5 .4-3-.9-1.3-3 .4-.9 .9 .4 1.5 1.7 1.5 .3 1.5-1.5 2.6-1.6 1.2-3.7-2.3-.8-1.7-2.4-2.8-2.1 0-1.4-2.1-1.6 .8-3-4.1-1.4-.5-3 1.6-1.6-.4-3 .4-3-2.3-1.4 1.8-.6 1.8 1 9 2.6 1.7 1.4 .2 1.6 2.7 4.2-1.6 .2-1.5 .5 3 1.1 1.7 1.4-.3 1.2-1.4 .4-2 1.4 .3 3 5.6 4.6-.6 2.2 1.2 1.3 4.5-1.7 1.5 3.2 1.5-.4 1.5-2.7 1.5-3.7 0-4.2-1.9-1.6-1.1-.1-1.5 .8-3-.7-.6-4.4 3.8-1.6-2.9-1.3 1.2 1.1 1.5-.5 4.5-22.5 0-1.6-3 0-1.5 2.4-2.2 1.4 .5 2.2-2.8-.1-1.5-1.1-1.5-2.2-1.5-.4-1.5 .3-3 1.4-1.3 .8-3.2-.2-1.5-2.1-.7-.9-2.3 .9-.4 3.1 .4-.6-4.5-2.5-4.1-4.6 .1-1.5 1-2.9-.7-6 2.8-3-.2-6 1.2-1.6-.5-1.4 .9-2 2.5-.1 1.5-3.9 .8-3 1.3-4.6 .5-3 1.5-1.4 1.8-6 1.7-1.6 .2-3-1.7-3-.5-.8 .4 .7 1.5-.5 1.5-2.3 1.5 .7 1.5-.8 2-3-2-.3-1.5-1.1-1.1-1.6 .2-.9-.6-.2-1.5 .8-3-1.1-.3-1.8 1.8-1.2 3.1-4.6-.5-.7 .4-.1 1.5-2.2 2.2-3 1.6-1.4 .4-1.6-.5-1.4 .7-1.9 3.1-3.6 3 .7 3 1.8 3-22.2 0-2.8-3 1-1.3 1.4 .9 3.5 .4-.7-1.5-1.2-1.5-1.6-.8-1.2 .8-.2 .9-4.6-.1-1.3-.8-.4-1.5-3-3 .5-3 1.2-.7 .6-2.3-.6-1.2-1.4-.5-1.4 1.7 1.2 1.5-3.5 3-.9 3.2-1.9-1.7-1.1-3.5-3.1-1 .1-.9 1.6-.6 3 1.2 1.4-.7 0-1-3-1.7-1.5 .5-1.5-.5-3 1.8-1.4-.4-1.6 .3-2.9 2 2 3-.1 1.5-1.8 4.5 1.4 .2 3-2.9 2.2 2.7 .8 .3 1.4-.7 1.7 .4-1.7 3.7-1.4 .3-3-1.2-.5 .2 .5 1.5-.3 1.5-6 0 2.3-1.5-.6-1.8-3-2.4-.5 1.2 .1 3-1.8 1.5-2.2-.4-2.3 .4-28.2 0-1.1-2.2-1-.8 2.6-2.2 2.3-.8-.2-6-1.3-1.5-.2-1.5 1.2-1.5-3.4-1.1-.1-1.9-1.6-4.5-1.3-.8-6-.4-3-.9-1.4 .2-1.2 1.9 .6 1.5-1 5.4-3 1.3-1.4-.5-1.6-1.5-1.4-.1-.5 1.4-1.1 .8-3-.8-1.4 1.1-1.6-1.9-1.4 .1-1.9-.8 .1-1.5 1.4-1.5-.7-3 .3-1.5 .8-1.4 2-1.6-2-.7-2.4-2.3 3.8-7.4 1.5 5.9 1.5 1.9 2.9-4.9-1.2-3 1.3-1.1 4.6 1.4 4.4-.6 1.6 1.1 .7-.8-.7-1.5 1.2-1.5-1.1-1.5 .5-1.5-.7-1.5 .4-1.5-1-1.5 1.1-1.5 .4-1.5-.7-1.5 0-1.5 1.3-2 1.6-1 .9 3 0 1.5 .9 1.5-2.4 3 .6 .9 1.4 .5 .2 1.6-2.4 1.5 .1 3 .7 .3 3 3.9 1.4 1 1.6 3.4 6 1.6 1.2-1.2 .2-1.6 3.6-2.9-1.7-1.5 1.1-.6 4.4 .6 .6 1.5-.2 1.5 1.5 3-.9 3 1.1 3 2.2 3 .9 3 1 .8 1.4-.2 1.6 2.3 .5 .1-2.1 .1-1.4 .9-4.6-.1-3 1.8-3.6 .3 3.7 1.5-1.5 .5-.7 1-1.3 4.5 .4 .6 1.6 .9 3 .5 1.4 1.6 2.3-.6 .7-1.3 4.6 5 4.4-1.4 .4-.8-.4-3-2.1-3 .7-1.4 1.4-.6 .5-2.5 1.7-1.5 .2-1.5 2.2-1.1 1.4-.2 3 2.5 1.7-1.2 2.3-3 0-1.5 .6-.6 1.4 .1 2.4-2.5 .4-3-1.2-1.3-3-.2-2.2-1.5-1.2-4.5-1.9-3 3.7-2.2 2 .7 .9-4.5-2.9-2.3-3.9-.7-2.1-2-3 .7-.6-3.2-.8-.3-4.6 1.9-1.4-.9-3-.3-3-3.4-3-.4-1.9 1.9-1.1 .6-1.6-.3-1.1 1.2-.3 2.3-1.6 .2-.3-1 1.3-1.5-4.6-6-3.5-3-.2-1.5 3.6-3-.2-1.5 .6-1.5-1.1-.8-3-.5-1.6 4.3-1.4 .5-4.6 0-1.4 1.9-1.6 .7-.1-1.6-1.3-.1-1.6 2.2-1.4-1.3-1.6 .5 0 1.7 .8 1.5-2.6 3 1.3 4.5-.9 1-.9-1-.2-1.5-1.9-.4-1.6-.1-9 2.8-1.4-2-.3 1.2-1.3 .9-4.4 .2-1.6-.3-.8-.8 .4-1.5-.7-3 1.2-1.2 1.5 .2 1.4 1.6 2.3-.6 .9-1.5-1-3 .8-1.1 2.9 2.6 1.7 .7 1.4-.9 1.6 0 .3-1.3-4.9-4.6-1.4-.4-3 2.7-1.6 0-1.1 .8-.3 2.2-1.6 1.3-3.1-.5-.1-1.5 3.2-5.3-.2-2.2 .8-1.5 3.5-1.5-1.1-1.8-1.4-.2-3-2.3-3 1.2-1.6 1.8zM159.2 1026.5l-1 3 1 .5 .7-.5zM238.8 1049l1.4 1.4 1.6-1.4-1.6-.4zM250.8 1033.9l-.2 1.6-3 3 .8 1.5-.6 2.1-.8-.6-.1-1.5-.7-.8-1.4-.1-.9 .9 .9 1.2 .9 .3-.9 1.6 5.5 2.9-.3 1.5 .7 1.5 1.5 1.2 1.6-.9 4.4 3 1.5 5.7 1.5 2.1 1.6 .1 .3-.7-1.3-6 1-1.7 3 2.6 4.4-2.3 2-3.1-3-3-3.9-1.5-1.4-1.5 .3-1.1 2.1-1.9 2.5-.9 .4-.6 0-1.5-2-2.3-1.4 1.8-2 .5 .8 1.5-1.8 .7-1.7-.7-1.3-1.2-1.6-.3-1.4 1.6-3 .5-1.9-2.1-.7-1.5 .2-1.5zM277.8 1043.2l0 2.9 .7-1.6zM292.8 1039.7l-1.1 1.8 1.1 1.2 1-1.2zM295.8 1045.8l-1.6 .8-.5 2.4-2.5 1.3-1.8 .2 .1 1.5 4.7 3.1 1.7-1.6 .6-1.5-.7-1.5 .8-3zM300.2 1030.3l-1 .7 1 1.1 1.2-1.1zM303.2 1028.4l-.9 1.1 1.5 1.5 2.4 1.3 1.6-2 1.4-.2 1.6 .6 3 3.5 .8-.2 1-3 1.9-3-.7-1.1-3 .4-1.6-.4-4.4 .1zM346.8 1049.6l-1.7 2.4 .3 1.5 1.4 1.3 1.4-.1 1.8-2.7-1.8-2.7zM352.8 1064.3l-1.1 1.2 1.1 1.1 1.4-.2 1.2 .6 .4 1.2 .4-2.7-2-1.2zM394.8 1026l-1.6 1.1-1.4-.2-1.6 2.2-6-1.2-1.4 1-3.1 .6-.1 1.5 .9 1.5 2.3 1.5-2.5 1.5 1.9 3-.5 1.5 1 1.5 .5 0 .8-1.5 .2-1.6 1.6 1 4.4 0 .9 .6 1.1 3 4.7 3-1 3 .2 1.5 1.7 .7 1.7-2.2-.2-1.5 1.8-1.5 .4-1.5-.9-1.5 .2-3.1 3 1.2 2.4-1.1-2.4-2.1-.4-.9 1.3-1.5-.2-1.5-.7-.5-4.6 1.6-3-3-1.4-.1-1.6 1-.2-.5 .9-1.5 3.9-1.9 2.3-2.6-.9-.8-1.4 1.1zM423.2 1031.9l0 3 3 3 .9-2.4-.4-1.5-.5-.7-1.4 0zM435.3 1032.3l-2.1 3.2-3 1.5-1 2.9-1.4-1-1.6 .4-.6 2.2 2.2 .9 1.4-.1 1.6 2.3 1.4-.3 1.6-1.5 1.4 0 1.6 1.5 3-2.2 1.4 1.6 1.5-.4 .1-1.8 1.4-1.9 3-1.2 1.6-1.7 1.4 .4 1.6-.6 2.4-2.5-2.4-1.9-3 .8-1.6-1.4-3 2.9-3 0-1.2 1.1-.2 1.9-1.6 1-1-1.4 2.1-1.5 .4-1.5-1.5-2.1-1.4-.5zM450.2 1023.5l-4.7 1.6 3.3 2.6 2.1-2.6zM463.8 1074.3l-.5 1.7 .5 .2 1.9-1.7zM477.2 1066.8l-1.4 2.1-1.6-.3-4.6 1.4-1.4 3 .3 1.5-2.7 3 .1 1.5 1 1.5-1.7 1.2-1.4-.8-.5 1.1 .5 .6 1.5-.4 1.5 .4 3-2.2 1.4 .5 1.6-.5 3 .4 3.8-1.8 .1-4.5 1.4-3 .2-1.5-1.9-3zM412.8 1093.2l-.9 .8 .9 .6 .4-.6zM169.8 1078.2l-1.5 .8 1.4 1.5 3.2 0-.1-2.4zM171.2 1072.3l-1 .7 1 1.3 .5-1.3zM202.5 1095.5l1.7 1.1 .9-1.1-.9-1zM315.2 1034.2l-1.4 3.1-3-.6-.2 .3 .6 4.5-1.2 3 .3 1.5 1 1.5-.1 1.5-1.5 1.5-.7 3 .6 1.5 1.2 .9 1.4 .1 .2 .5-1.2 1.5-.4 2-1.6 1-3 1.4-1.4-.7-1.7 .8 .1 .8 3.3 2.2-.1 1.5-2.1 1.5 .2 1.5 4.7 1.8 1.6-.7 3 2.8 3-3.1 7.4-1.9 4.6-3 .9-1.9 .1-3 .9-1.5 .3-3 1.7-1.5 2.1-.1 1-1.4 .3-1.5-1.3-1.3-1.6-.7-1.4 .1-1.5-1.1 .1-3-2.5-4.5-.7-.4-1.4 .3-1.6-.8-1.4 1.5-1.6-.5-1.3-1.6-.7-3zM384.2 1075.1l-.9 .9 1.9 1.5 1.2 0-.9-1.5zM423.2 1038.3l-1.4 2.1-1.6 .3-1.4-.9-1.6 0-.3 .2 .8 1.5-1.9 1.2-1.6 .4-1.4-.4-1.6 .9-3 .2-4.4 1.4-1.3 2.3 .4 1.5 2.3 1.5 1.6-.7 1.4 1.2 1.6 .2 1.4-1.8-.1-1.9 1.7-1.9 3-.6 1.4-1.4 6 .4 1.4-1zM442.8 1067.3l-2.9 2.7 2.9 2.8 2.1-1.3-1-3zM447.2 1070.6l-.9 .9 .9 2.4 1.6 1.4 1.6-3.8zM415.8 1064.8l-1.2 .7 1.2 .6 1.4-.6zM182 1046l1.2-.5 1.4 .5-1.4 .5zM156.2 1062l.9 .5 .7 3.3 1.4-.6 1.3 .3-2.7 3-3 .3-3 1.2-1.5-1.5 1.5-3-.7-1.5zM309 1062.5l.2-1.5 1.6 .1 1.1 1.4-1.1 1zM147.2 1072.3l1.5 .7-1.5 .7zM147.2 1076.6l1.6 1.3 1.4-.4 1.6 .5 1.4-.2 1.6-.8 1.4 .5 .6 4.5 1 1.4 1.7 .1-3.7 6-.4 1.5 .8 1.5 4.6 1.7 7.4 .1 2 4.2-4.9 1.5-3.1-1.8-3.6 1.8-11.4 0zM148.8 1083.3l0 .5 1.4 .3 .6-.6zM379.4 1079l.4-.6 .6 .6-.6 1.2zM403.7 1079l1.5-.8 1.2 .8zM196.1 1094l.7-1 .8 1-.8 .9z"/>
<path fill="#779af7" fill-rule="evenodd" d="M147.2 651.8l339 0 0 358.7-.9 1.1-.5 4.8-3-2.8-1.6-.2-1.4 2.1-9-.8-4.8-3.1-1.2-1.7-2.6-1.3-.8-3 .4-1.2 1.4-.6 .5-1.2-1.9-1.8-1.6-.3-4.4 2-1.6-.5-4.4 .7-3 1.1-1.6 1.8-3-1.1-1.4 .1-1 1-.6 2-3 1.6-1.4 1.6-3 1-2.5 2.8-.2 1.5-1.9 1.2-1.4 .4-3.1-.7-1.5-1.3-3 .9-3 1.9-1.4-1.1-1.4 .2-.7 1.5 2.3 1.5-1.8 1.4-1.4-.4-1.2-1 .8-1.5-2.2-3 1.1-1.5-1.5-.6-1.6-2.4-4.4-2.7-3 .6-1.6-1.4-3-1.6-1.4 .6 1.4 1.5-2.4 7.5-2.6 4.5-1 .6-3 .6-1.6-1.2 .2-1.7-3 .3-3-1.1-1.6 .7-3 3-1.2 .3-.2 1-.3-1-1.3-.5-1.4 .9-.2-1.9-1.4-1.6-1.6 1.6 1.2 1.5-.3 3-3.5 4.4-4.8-.1-6 1.9-1.5-.5-2.9-2.4-1.6-3.1-1.4-1.1-3 0-2.2 3.8-.8 .5-1.6 .1-.4-.6 2-3.5 2.2-.9 .3-1.5 .2-1.5-.7-3-.6-1.3-.7-.2 .1-1.5 1.3-1.5-.1-3-.6-1.2-1.4 1.3-1.4 1.4-.2 1.8-3-.9-.5-2.4-2.1-1.5 .4-1.5 .8-.5 .8 .5 .6 2.2 1.6-2.1 3 1.3 3-4.3 1.4 1.4 1.6 .1 2.5-1.6 .5-1.5-1.6-3.4-1.4-.7-1.5 .7-1.5 0-.8-1.1 .2-1.5-1-.6-6 3.4-1.6 .2-1.4 2.2-1.4 1.2-1.6 3.3-1.6 .8-.9 1.5-1.9 1.3-1-1.3 1-1.2 1.1-.3-.6-1.5-2.1-1.5-1-3-2-.8-4.4 .7-.3 1.6-2.7 .9-2.9 2.1-.5 1.5 .7 1.5-.3 .7-4.6 2-3 .3-1.4 1.5-.5 1.5-3 3-1.1 3.7-1.4-.6-3 0-3 4.4-2.6-4.5-2-.7-1.2 .7 .7 1.5-.9 1.7-3-1.2-3 .8-1.6-.8-3 .4-3-2.2-.4-1.7-1.8-1.5-3.8-2.2-1.4 1.4-4.6 2-4.4-.9-3-2.2-1.6-.2-1.3-.9-1.5-3-2.7-1.5-.9-3-2.6-.8-1.4-1.3-1.6 1.1-1.4 .2-1.6-1.7-4.4 0-4.3-2-.3-2.6-1.4-.5-1.9 3.1-5.7 3.6-3 .6-.5 1.8-2.8 1.5-1.1 1.8-4.6-2.3-3-.7-4.5 1.2-1.5-.5-3-2-1.4 1.1-1.6-1.2-2.5-.4-1.9-1.6-1.6 1.4-1.4 .3-.8-3.1-.8-.8-1.4-.1-1.6 .8-3.9 9.1-.5 .2-1.6 0-3-2-4.4-1.4-1.2 1.7 .5 1.5 2.1 .5 .2 1-1.6 .9-1.6 .1-.7-1-.1-1.5-.6-.2-3 1-1.6-1.4-3 .5-1.4 1.1-1.6-.1zM333.4 1004.1l1.4-1.2 .8 1.2-.8 2.6-1.6-.3-.4-.8zM452 1005.6l1.2-1 1.2 1-1.2 1.1zM198.7 1011.6l1.1-1.2 1.3 1.2-1.3 2.6-1.3-1.1zM446.4 1011.6l.8-.9 1.6 1.1 .7 2.8-.7 1.4-2-1.4-.6-1.5zM189.2 1016.1l1.6-.4 .9 1.9 .2 1.5-1.1 1-1.6-.2-.7-.8 1.5-1.5zM208.8 1015.4l1.4 0 1.6 2.4 3-1.4 2.9 2.7 .1 1.5 1.4 1.9 1.1 2.6-.6 2.9 2.8 1.5 .3 1.5-5 2.1-.6-.6 .2-1.5-.5-1.5-2.1-2.9-1.7-.1-.6-1.4-2.3 0-1.4 1.4-3-2.7-4.6-.3-.7-1.4 .7-1.3 3-2.4 2.5-.8zM228.2 1027.5l.5 .5-.5 3.2-1.4 .7-2.5-.9 1.1-1.5zM462.2 1035.5l.8 1.5-.8 .5zM460.7 1038.5l1.5 1.2 1.6-1.8 1.4 0 2.9 2.1 1.7 0 2.1 3 2.3 1.4 3-.6 1.6-1.5 3 1 1.9-.3 0 1.5-1.9 1.6-4.6-.6 .1 3.5 .3 1.5 1.2 .3 3-.2 1.4-2.2 3 1.9 0 10-3 2.3-7.4-1.7-3 2.1-1.6 .3-2.4-.8-.6-1.2-1.4-.5-1.6 1.4-2.2 .3-.8 1.1-3 0-1.8-2.6 .4-1 1.4 .1 .5-.6-.5-1.1-3.5-1.9 .5-1.5-1.4-.9-1.6-2.5-1.4-.8-1.6 .7-1.4-.3-1.7 2.3-.9 3-2 3.6-1.4-.1-3 1.5-3-2.5-3-.2-.3-.8 1.2-3-.2-1.5 2.1-4.5 3.2 2.4 1.4 2.8 1.6 .8 1.4-.5 2-2.5-.1-1.5 1.1-.7 1.6 .4 2.6-2.7-.5-1.5 .8-1.3 1.5-.1 1.6-1.4 4.1-1.7zM373.8 1040.3l1.4 1 0 2.1-2.3-.4zM231.9 1043l.9-1.4 3 .5 .5 .9-2.1 1.1-1.4-.1zM357.2 1047.8l3.8 1.2-1.8 1.5 .5 1.5 1.7 1.5-.2 1.5 .6 1.4 1.4-.4 1.9 2-.1 1.5-1.8 1.4-1.4-.2-3-2-2.3-.7-2.2-4.5 2.5-3zM280.3 1074.5l.5-.5 2.1 .5-2.1 1zM277.4 1079l.6 0 1.5 3-1 1.5-2.3 1.1-1.6-1.1zM271.7 1083.5l2.3 1.5-2.2 .7z"/>
<path fill="#85a8fc" fill-rule="evenodd" d="M147.2 651.8l339 0 0 331.1-4.4 .5-4.6-1.3-1.4 .1-4.6 3.3-4.4-.1-4.6 1.2-1.4-1.5-3 .4-2 .6-2.6 2.4-1.4 .2-3-1.6-1.6 2.6-1.4-.9-.5 .3-1.1 3.1-3-1.5-4.4 .6-1.1-.7-.5-1.2-1.4-.7-1.6 .5-1.4-.9-1.6 1.5-1.1-.7 .5-1.5-2.4-1-1.4 .5-1.6 1.4-1.1 2.1 .2 1.5 2.5 1 3-1.9 .9 2.4-.9 2.3-1.6 .9-1.4 0-1.6 2-1.4 .5-.9-2.7 1.2-1.5-1.9-1.7-.5 3.2-2.5 1.3-1.7 .2-4.3 3.4-1.9-1.9 .2-1.5 1-1.5 0-1.5-2.3-2.8 .3-1.7-1.7-2.1-3-2.1-1.6 .8-1.4-.2-4.6 1.3-4.4-5.5-1.6 2.2-1.4-.7 .6 1.8-.4 1.5-2.2 1.5-3.6 4.5-.4 1.5-1.1 1.5-1.9 .3-3 2.1-6-1.6-1.6 1-1.4 0-1.6 .7-1.4-1.2-1.6-.4-3 .7-1.2-1.6 1.4-1.5-1.6-.2-1.6-.9 0-1.9-1.4-1.9-2.1-1.1-.1-1.5-.8-.3-4.6 .4-1.4-1.1-7.6-1.1-3-1.5-1.4 1.3-3 .8-4.6 2.8-7.4 1.4-7.7-1.2-2.9-5.2-1.4-.9-6 .2-3 4.5-2 1.4-1.5 3 .4 3-1.5 2.4-2.9 .6-4.5 3.5-3 .2-6 2.2-1.6-1-3 1.1-2.6-3-1.8-.3-1.9-1.2-1.1-1.9-3 1.2-1.2-.8 1.2-1.9 2.8-1.1-.8-1.5 .8-1.5-.2-1.5-1.2-1.8-3-.3-1.4-.9-4.6 .7-1.4-1.4-1.6-.4-2.9 1.9-3.1-.4-1.4 1.2-3-1.4-3 1.9-10.6-1.4-4.4 .5-3 1.7-3-2.6-3.9-1.8-3.6-4.5-9.1-3.6-1.4 .4 .4 1.7-.7 1.5-1.3 .8-6 2.2-1.4-2.5-.8 1 .2 1.5-2.4 1.5-3 .4-2.2-.4-5.4 2.6-1.3 3.4 .5 1.5-.6 .9-1.6-.1-1 2.2-2 1.3-3-.8-3 1.5-3 2.7-3 .6-1.4 .9-3-.1-5.6-1.6-.4-2.8-1.6-.8zM190.8 988.7l.7 .4 .7 2.5 1.6-.3 .2-.7 1.2-.7 2.7 .7 1.7 1.5-1.4 1.7-4.4-1.6-1.6 1.6-1.4 .2-.7-.4zM466.6 1047.5l.5 3-.3 .6-1.6 .4-1.8-1 .8-1.5z"/>
<path fill="#94b6ff" fill-rule="evenodd" d="M147.2 651.8l339 0 0 316.9-3 .7-3 2.2-1.4 .4-.5 2.1-1.1 1-4.4 .5-3-1.2-3 .1-6 1.5-1.6-.7-4.4 .4-3-1-4.6 .3-4.4-2-1.6-1.2-1.2-2.2 .1-1.5-2.5-3 .1-1.5-6.9-2.7-1.6-2.4-1.1-.9-4.9-1.2-3 1-3-.3-3.3 2-1.1 1.4-3-.2-1.6 .6-6-1.7-4.4 .1-6 3.8-1.6 .6-3.3-.1-1.1 1.6-1.6-.5-1.4 1.9-4.6 3-1.4 2-7.3 7-3 1.5-.8 1.5 .4 1.5-1.3 1.2-2.9-1.2-1.4-1.5 1.2-3.2-2.9-.9-4.6-.4-1.4-1.5-3-.8-3-2.2-1.6 .2-3-.6-6 2.9-4.4 2.9-9-.2-5.6-2.2-1.3-4.5-3-3-.7-1.7-6-.9-6 1-7.4 2.6-1.6-.6-1.1 1.1-1.6 6-1.9 1.5-.1 3-.5 1.5-1.4 1.5-3.8 1.5-1.6-2.1-1.4-.7-1.6-1.8-4.4-2.7-3.3-.2-1.3-4.5-2.1-1.5-2.3-.2-3 .7-1.6-1.3-6 .2-.4 3.6-.8 1.5-3.2-.3-1.6 1.9-1.1-3.1-1.9-.8-.9 .8 1.7 1.5-.7 1.5-2.1 0-1-3.3-3 .4-7.4 3.2-1.6-.9-3-.6-1.4-1.2-1.6-2.5-3.8-2.6-3.6-1.5-.8-1.5-3.8-3.2-4.4-2.1-3 1.5-1.6-.8-3-.4-1.4-1.1-1.6 .7-1.4 1.6-1.6-.1-1.4-1.2-5.9 3.6-6.1 .8-3 1.3-4.6 .5-6.1 4.9-1.8 3-.8 3-4.7 .6-1.6 1.4-1.4 2.5-1.6 1-1.4-1.2-4.6-1.2zM235.8 969.5l-.5 1.6 .5 .7 1.4 .5 .9-1.2-.7-1.5zM231.5 978.6l1.3-.7 1.2 .7-1.3 .9zM278.5 989.1l2.3-.7 .5 .7-2.1 1.5z"/>
<path fill="#a3c2fe" fill-rule="evenodd" d="M147.2 651.8l339 0 0 303.4-2.5 3.9-1.9 .9-9 .3-4.6 5.2-1.4-1.4-6-1.1-2.7-5.4 1-3-1.8-4.5-2.5-3 .5-3-.9-1.5-4.2-4.3-4.4-1.2-6 .3-3 1.8-2.1 .4-2.5 1.4-3 2.9-3-.1-3 .9-12-1.2-4.4 1.1-3-.5-4.6 2.9-3 .5-7.4 3.7-4.6 .8-6.1 2.6-5.4 3-1.9 2.4-4.6-.2-4.4 .7-3-1-3 .5-4.6-1.8-3 0-3.8-2.1-2.2-2.1-3 .1-6-1.9-3.5 .9-2.5 1.7-4.4-.1-3 1.9-4.6 .4-3 .3-4.4-1.9-3-.3-1.6-.8-3 1-1.4-.7-3 .7-3 0-1.9 2.3-2.7 1.2-3 3.8-4.3 1-1.7 1.5-1.4-.2-1.6 .5-1.1-.3-.5-1.5-1.4-.6-6-.9-4.5-4.5-5.9-2.2-3-1.7-6 .6-4.6 2.1-6 1.4-7.4-3.2-3-2.8-.7-1.7-.9-.7-3 .8-6-3.8-1.4-.1-6 1.2-4.6 1.7-3-.6-6 .4-4.4 2.4-7.6 2.2-7.4-1-3 1.1-3-1.2-.5-.9-1.1-.3-7.4 .1-7.6-3.5-6 0z"/>
<path fill="#b1cbfc" fill-rule="evenodd" d="M147.2 651.8l339 0 0 280.4-7.3 4.4-.1 .9-.3-.9-1.3-.4-.6 1.9-.8 .4-3-.7-1.6 .2-1.7-1.4-2.7-.7-1.6-1-3-2.2-1.4-2.6-5.9-4-4.7-.7-4.4 1.8-3-.2-1.6 .5-3 2-4.4 1.4-1.6-.2-7.4 2.3-4.6 0-4.4 1.4-3-1.3-6-1.1-4.6-.1-6 1.2-1.5 .5-7.5 7.4-4.4 .6-3 1.6-1.6 1.5-6 1.4-1.4 .8-3-.6-6 .5-4.6-1.3-4.4-.3-1.6-1.3-3-.2-3-2.1-2.7-.5-1.7-1.4-3-.7-1.6-1.5-3-.2-2.9 .5-4.5-.2-1.6 .8-3-.7-1.4 .3-3 3.3-1.6 .8-1.4 0-6-.8-3-2.3-4.6 .9-3-1.7-4.4-.3-1.6 .7-6-1.3-.7 .8 .5 1.5-.4 1.5-2.4 5.1-1.4-.7-1.6 1.2-1.8-1.1-1.2-2.5-1.4-1-1.6-3.5-1.6-.5 .2-1.3 1.4 .9 .3-1.1-1.7 0-1.6-1 0-2.5-1.4-.7-4.6 1.3-3-4.3-4.4 1.2-1.6 1.7-1.4-.3-4.6 2-4.4 3.8-6 1-7.6-1.9-1.4-1-1.6-2.2-6 .2-4.4-2.3-6-1.1-2.1 1.6-3.9 .4-6 2.1-5.5 3.5-6.5 2-1.6 1.1-9 1.9-4.7-.5-4.3-1.8-6-3.5-4.4-.9-3-1.6-6-.7-1.6 .4z"/>
<path fill="#bfd3f6" fill-rule="evenodd" d="M147.2 651.8l339 0 0 261.9-3 1.9-4.4-.5-3-1.6-4.6 1-3-.8-3-2.1-1.4-3-3-1-1.6 .9-6 0-1.4 1.1-6 .6-4.6 1.4-2.8 2.5-4.6 2.4-4.6-.2-1.4 1.7-4.6 .4-1.4 1.1-4.6-.7-3-2.3-4.4 .8-1.6-1.1-3-.5-1.4 .8-3-.3-1.6 .5-3-1.2-3 .2-1.4-1.2-3-1-3.1 1.7-2.9 .6-1.6-1.6-1.4 .9-1.6 0-1.4-1.5-.8 .5-.2 1.5-.6 .5-1.4 0-3-1.4-9.6 3.9-7 1.7-1.4 1-7.6 .9-4.4-.9-4.6-2.5-1.4 .2-3-1.3-3-.2-1.6-.8-1.4 .4-6-2.4-1.6 .9-3-.9-4.4 1.2-4.6 .3-.8-2.1-.6-.3-3-.1-1.6 1.2-1.4-.1-1.6-.9-3 .3-2.6-1.6-3.4-.2-4.4-2.5-3 .6-3-.4-3 1.3-3-.6-6 .7-6-.1-4.6 1.6-3-.7-4.4 .9-3-.7-7.6 1.3-3.7 1.8-2.3 .5-1.4-1.1-3-.7-6 .3-4.6-1.6-4.5-.5-2.9 1.7-4.6-.2-4.4 1.5-1.6 1.7-3 1.1-2.6 3.3-2.6 1.5-.8 1.5-7.4 5.2-2.4-.7-.6-1.2-3-.2-.2-1.6-1.4-3.1-1.4-1.3-1.6-.1-3-1.3-2.1-3.2-5.3-5-3 1.9-1.6 .2-3-1-6 1.2z"/>
<path fill="#ccd9ed" fill-rule="evenodd" d="M147.2 651.8l339 0 0 243.2-1.4 1.1-3 .3-1.6-1.3-3 .8-3-2.1-1.4-.4-1.6 1.2-1.4-.7-3 .8-3-1.8-3 1.1-12 .9-4.6-.5-1.4-1.3-4.6 .3-3-.9-7.4 1.3-3-.1-9 3.3-3 .4-5.5 .2-2.1-3-1.4 .4-4.6-.3-4.4 1.7-3-1.6-1.6 .6-4.4-.3-7.6 1.6-1.4-1.1-4.6-.4-6 1.9-3-.5-3 2.1-4.9-1.1 .3-3-1.4-1.6-1.8 1.6 .7 1.5-1.9 2.1-1.4-1.3-1.6 .6-.4 1.6-2.6 1.5-1.4 1.9-4.6 0-3-1-1.4 1.1-6 1.1-6-1.2-4.6-4.1-4.4-1-9 .9-10.6-1.1-3 1.1-3-.8-6 .2-6-1.4-7.4 1.4-3-.6-3 1-10.6 .2-3-.6-1.4 .5-9-2.7-1.6-1.9-1.4-.8-3 .2-3-2.1-1.6 .4-3-.6-4.4-.1-4.6 .9-6 2.1-7.4 .1-3 1.9-4.6-.8-3 .6-12-1.7-1.4 .2-3-.9-3 .5-4.6-1-4.4 0-6-2.1-4.6-.1-1.4-1-4.6-.4z"/>
<path fill="#d7dce3" fill-rule="evenodd" d="M147.2 651.8l339 0 0 224-2.1 .8-.9 1.3-4.5 0-4.5-1.6-1.4-1.4-9-1.6-7.6 .4-1.4 .6-9-2.7-6 .2-3 1-7.6-1.4-5.9 .6-7.5-.2-4.6-1.6-7.4 .3-6-1.1-6 .2-4.6 .8-3 1.7-3 0-4.4 1.4-3 3.1-3 1.4-4.6-.7-4.4 .7-3-1.4-4.6 0-7.4 .9-7.6 2-2.9 1.4-3 .1-4.5-.6-3 .6-1.6-1-3-.1-2.3-1.8-2.1-.3-1.6-1.5-3 .2-4.4-.7-4.6-2.1-4.4-.5-1.6 .4-1.4-.6-1.6 1.3-3 .4-1.4 1.6-4.6 .4-3 1.4-3-.2-3 2.1-1.4-.5-1.6 .5-1.4-.3-3 1.1-4.6-1.3-1.4 1-1.6 .2-4.4-.9-3 .3-1.6-.9-6-.5-4.4-1.7-6-.8-1.6-.9-1.4 .7-4.6 .2-7.4-1.2-3 2-1.6 .4-1.4-.8-3 1.9-3-.4-1.6 .6-4.4-1.1-1.6-1-3 .4-4.4-.7-4.6 2.2-1.4 .3-4.6-1-3 1.7-4.4 0-15-10.2-1.6 .2-1.4 1.5-3 .9-3-.2-3 1.8-1.6 .1z"/>
<path fill="#e2dad5" fill-rule="evenodd" d="M147.2 651.8l339 0 0 212.1-4.4 1-3-1.3-1.6-.1-1.4-1.2-4.5-.9-4.5 2-6-1.5-10.6 .4-1.4 .8-3 .4-7.6-1.3-7.4 .5-13.6-4.1-1.4 .6-4.6 0-4.4-1.7-4.6 1.9-6 .8-3-.8-12 .7-3-.6-3-1.3-14.3 2-9.7 6.4-3-1.3-3 1.8-3-.2-1.4 1.1-1.6 0-3 1.2-1.4-.5-1.6 .5-3-.9-6 2.1-1.5-1.2-5.9-2.8-3-1.1-1.6 .6-3-2.7-4.4-1.8-3-2.2-6-.6-6 .6-15 4.3-6-.7-3 .2-1.6-1.3-1.4-.3-4.6 2.4-3 0-1.4 .9-1.6-.5-3 .1-1.5-1.3-1.5-.4-3 .8-9-4.4-3 .2-1.4 1.5-1.6 .3-4.4-.6-9 2.4-4.6-1.5-3-.4-1.4-1.1-1.6-.1-6-2.4-4.4 0-4.6-2.1-4.5 .4-5.9-1.6-3 1-16.6-.5-1.4 1.7-1.6-.9-1.4 .5-3 3.6-3 .7-1.6 1.5z"/>
<path fill="#ecd3c5" fill-rule="evenodd" d="M147.2 651.8l339 0 0 194.6-4.4 .5-6-.3-6 2.1-4.6 0-3 1.1-3-.2-3 .5-1.4-.8-3 .8-1.6-.6-9-.1-6 .8-1.4-.9-3 .6-3-1.2-1.6 1-1.4-.6-3-2.5-1.6 .5-1.4-1.9-1.6-.5-4.4 .4-7.6 2.3-7.4-.3-6 2.4-4.6 0-6-.5-3-1-6-.5-3-1.8-1.4 0-3-1.1-3 .8-3-.2-4.6 2.2-4.4-1.6-9.1 .6-2.9-.6-4.6 2.6-1.4 1.2-.9 1.6-2.1 .9-3-1.3-7.6 1.6-3-1.9-4.4 .2-6-3.6-3-.8-4.6 .2-6-1.8-4.4 .2-4.6 1.7-7.4-.4-3 .5-4.6-1.1-7.4-.2-3 1.5-6-1.2-4.6 1.3-6-1.3-1.4 1.4-3-.2-4.6 .8-3-2-12 .6-4.4-.9-4.6 1-7.4-2.3-3 .2-7.6-1.2-9-.2-3 .5-3-1.2-3 .2-6-.8-6 1.1-1.4-1.4-1.6-.5-1.4 .2-1.6 1.7-1.4-1.3-4.6-.1z"/>
<path fill="#f2cab5" fill-rule="evenodd" d="M147.2 651.8l339 0 0 183.7-3 .4-6-2.5-3-.3-4.4 1-3-.5-7.6 1.5-3-.6-3 .8-3 .1-3-1.5-2.2 .8-2.2 2.2-1.6 0-9-2.2-1.4-.2-4.6 1.1-3-.2-6-1.9-7.5-.4-4.5 1-3 0-7.4 2.7-1.6-.8-3-.2-6 1.8-3-.8-1.4 .4-3-1.3-3-.5-3-1.7-1.6 .1-3-1.4-4.4-.3-6-1.7-6 1.9-4.6-1.6-7.4 .8-3-.4-1.6 1-6 1.7-1.4 1-3-.5-4.6 1-4.4-.7-1.6 .9-6-.5-1.4 .8-4.6 .3-4.4-2.3-3 .4-4.6-.7-3 .7-1.4-.8-4.6-.1-1.4-.6-3 1.1-3-.6-1.6 1.2-6-.2-1.4 .6-1.6-1.4-2.6-.2-.4-1.5-1.7-1.5-4.2-1.5-1.5-1.2-3.1 .9-2.9-.5-1.6 .4-.6 1.9-.8 .7-6 1.8-3-1.7-1.6-.1-2.8 .8-1.6 1.4-1.6 .5-1.4 0-1.6-.9-1.4 .3-4.6 2.8-3-.3-3-1.4-3-.3-3-1.6-4.4 .3-6-.9-1.6 0-1.4 1.1-3 .9-9 .6-4.5-1-3.1 .1-6-1.7-3 0-9-2-3-1.5-3-.4z"/>
<path fill="#f6bea4" fill-rule="evenodd" d="M147.2 651.8l339 0 0 170.4-7.4 1.1-9-1.3-3-1.9-3-.7-3 1.9-6-1.1-9 2.2-1.6-.2-1.4-1.1-3 1-3-1.5-15 1.8-3-2.1-3 1.2-1.6-1.2-3 .8-3-.7-3 .5-1.4-1.3-4.6-.8-4.4 0-3.1-.8-1.5 1.7-.3 1.5-1.1 .6-3-.1-4.6-2.3-4.4 .7-3-1.1-3 .3-4.6-2.4-4.4-.4-3 1.4-6-.3-2.3 2.1-2.3 .5-1.4-1.4-1.6-.4-1.4 .4-3-1-6 .8-3-.9-3 .5-1.6-.7-1.4 0-3 1.1-3.1-.4-2.9 1.5-1.6 0-9-3-1.4-.2-1.6 .7-3-.8-1.5 .2-2-1.4-1.1-1.5-4.4-.5-4.4 1-4.6-.9-4.4 0-4.5 3.4-3.1 .2-3-1.2-1.4 .1-3-1.6-1.2-2-1.8-.9-4.5-.9-3.1 1.4-4.4 .7-3-.6-3 .3-1.6 1.9-10.4 1.2-3 1.9-3 .7-4.6 3-3 .6-4.4-.1-3 1.2-3-1.2-3 0-3-.8-3-2.4-6 .8-4.6-2.2-1.4-.1-6 2.1-1.6 1.2-4.4-1.4-4.6-.2-3-.8-3 .6-6-.1-1.4-.9-6-.9-1.6-.7z"/>
<path fill="#f7b093" fill-rule="evenodd" d="M147.2 651.8l339 0 0 150.9-1.4 .1-3 1.4-3-.1-3 2.1-1.6-.7-3 1-3 .3-3-.4-1.4 .6-3-.3-3-1.1-7.6 1.3-3 1.2-4.4-.9-1.6-.9-4.4-.4-1.5 .1-1.5 1.8-3-1-4.6 0-1.5-.8-1.5 1.9-2.2-1.7-.7-1.5 .6-1.5-.7-1-3 .2-4.4-1.8-3 1.1-3-1.5-4.6 .6-3-.7-24 5-6-.8-7.4 1.2-6-1.1-3 1.2-3-.3-6 .7-3 1.5-6-3.1-12 3-3-.2-3 1.1-6-2.6-1.6-1.3-7.4 .3-6-2.1-1.6 .2-1.4-.7-4.6 0-4.4 .8-12-1.7-3 .9-4.6-.4-1.4-1.1-4.6-.5-1.5 .1-3 1.3-1.5-.3-1.4 .6-3-.4-1.6 .3-3-1.4-15 1.1-1.4-1.4-1.6-.3-1.4 .9-1.6 .1-3-1.4-1.4 .6-3-1.3-1.6 0-3 1.6-4.4 3.7-1.6 .3-12-.9-10.4 2-4.6-.9-3 .9-3-1.2-3 .1-3-1.2-1.4 .9-1.6 .1-1.4-1.2-4.6-.5-9 1.2z"/>
<path fill="#f6a283" fill-rule="evenodd" d="M147.2 651.8l339 0 0 134.1-4.4 .1-1 .7-.5 1.5-1.5 .2-4.6 3.4-3-1.6-3 .6-3-.5-.4 .9 .9 1.5-1.4 1.5-3.5-.9-1.6 .9-3 .2-4.4 1.8-10.6-3.7-6-.2-3-1.8-4.4-.5-3 .8-7.6-1.3-3-1.4-6 .4-1.4-.5-1.6 .8-3-.2-3 .8-6 .3-4.4 .9-3 1.7-3 .9-4.6 .1-6 1.4-9-.7-3 .8-1.4-.5-3 .5-9-1.9-7.6 2.2-3-1.2-4.4 .2-4.6 1.5-4.4-1.4-3-.2-1.6-.1-1.4 .7-3-.4-3 .4-3-1.1-4.6 .7-9-1.8-1.4-1-4.6 .9-9-.8-4.4 .7-3-1.5-3-.3-10.6 1.6-3-.7-3 .2-3-.5-1.4-.8-1.6 .4-6-.7-3 2.1-3-1.4-6-1.5-3 .9-3-1.1-6-.2-4.4 1.9-7.6-.5-7.4 2.5-6-.4-4.6 2.4-3 .2-1.4-.2-3-2.5-3-.8-1.6-1-3 1-7.4-1.9-3 .5-3-.9-3-.1-4.6 1.3-3 0z"/>
<path fill="#f29072" fill-rule="evenodd" d="M147.2 651.8l339 0 0 123-9 .5-4.4 2.7-1.6 0-3-1.6-7.4-.9-3 1.1-6-.4-3 .7-1.6 2.3-7.4-1.6-4.6 1.1-6 .5-1.5-.5-4.5 2.2-1.4-.9-4.6-1-1.4 0-4.6 1.7-4.4-1.2-3-.1-7.6 .3-6 1.1-2.9 1.4-6.1-.5-4.4-2.1-4.6-.1-1.4 .7-3-.8-1.6 .7-1-.9-.4-1.5-1.6 .3-.3 1.2-2.7 1.1-4.4-1.3-6 1.8-3-1.5-3 1.5-3 .3-4.6-2.7-4.4-.1-5.2 2.4-.8 1.6-3-.9-1.6-1-4.4 1.1-1.6-.5-3 1.4-4.4-1.9-1.6-.3-1.4 .8-1.6 0-3-1.6-4.4 3-6-5.5-1.6 .5-3-1-4.4 .6-1.6 1.3-4.4-1.7-4.6 .7-4.4-.4-3 .4-1.6-.6-6 1.9-6-3.8-4.4 1.1-7.6 3.2-4.4-1.9-3 1.1-3-.2-6 3.5-4.6-1.6-6-.2-1.4 .9-3-.7-6 1-4.6-1.3-4.4 3.9-1.6 .3-3-1.8-1.4-1.9-6 0-3 .5-4.6-2.2-3 0-1.4-.6-1.6-2.1-1.4-.9-6 .9-3 1-1.6 2.1-1.4 1-4.6 .9z"/>
<path fill="#eb7d62" fill-rule="evenodd" d="M147.2 651.8l339 0 0 113.1-4.4-1.8-4.6 .3-7.4-.7-3-1.5-10.5 1.2-4.5-.1-4.6 2.5-1.4 .1-3.1-1.1-1.5 .2-3-1.2-6-.2-3-1.1-4.1 1.2-3.3 2.9-3 .2-1.6-.8-4.4 1.1-1.6-.4-3 .9-1.4-.2-1.6 .3-3 2.4-7.4-1.3-3-2.2-1.6 .8-4.4-1-3 .6-1.6-.5-4.4 .7-3-1.9-3 .2-3-1.2-1.6 0-3 1.2-1.4-.8-1.6 .7-1.4-.1-3-1.3-7.6 .3-1.4-.4-1.6 .3-1.4 1.1-1.6-1.5-3 1.2-3-.7-3 .1-6-1.3-6 1.9-7.4-1.3-3 1.2-1.6 0-3-1.5-1.3 .3-.1 1.7-3.8-1.7-5.2 .8-4.6-2.1-9 .2-4.4-1.4-3-.2-3 0-.3 1.2-1.3 1.3-4.4-.7-3 1.2-1.6-.1-9-3.4-4.4 .5-4.6 1.5-1.4-.6-2.6 .3-1.7 1.5-3.3 1.6-9 2-4.4-.3-1.6 .5-3-.7-3 .9-6-.1-1.4 .8-4.6-.9-6-2.3-1.4 .5-1.6-.3-3-1.6-4.4 .8-1.6 1-6-.8-3 .9-6-2.3-4.4-.4-3-1.2-1.6 0-6 2.1-6-1z"/>
<path fill="#e36b54" fill-rule="evenodd" d="M147.2 651.8l339 0 0 99-7.4-2.7-3 .1-3-1.6-1.6 1.3-1.4 .3-9 0-10.6 1.3-3-.5-1.4 .6-3 .1-1.6 1-7.4-2.2-1.6 0-1.4 1-1.6-.1-3-1.8-10.4 1.7-1.6 1.6-1.4 .4-3-1.1-3 1.3-4.6-.4-1.4 .8-3 .1-4.5 1.3-4.5-2.4-.5-1.7-1.1-1-1.4 .4-4.6-.3-3 .9-4.4-1.8-7.6 3.4-3.7-.1-2.3-1.9-1.4-.4-4.6 2.2-4.4-.5-3 .8-1.6-.6-3 .2-6-1.8-6 .8-1.4 1.3-1.6 .2-1.4-1.4-3-1.3-1.6 .6-1.4-.8-3 .3-6-.6-7.6 2.3-6-.8-1.4-1-10.6 1.3-1.4-.3-1.6-1.4-3 .6-12-2.1-7.4 0-3-.6-7.6 2.2-3-.4-6 1.7-6 .6-3 1.8-1.4 .4-1.6-.7-3 1.6-1.4-1-1.6 1.5-1.4 .4-3-.2-1.6-.8-1.4 .7-6-1.2-9 0-10.6-2.8-3 .3-3 1.7-4.4 .4-6-1-7.6-.2-4.4-1.2-6 1.2-3-1.1-4.6 0z"/>
<path fill="#d75445" fill-rule="evenodd" d="M147.2 651.8l339 0 0 75.9-1.4 .9-3-.8-4.6 .1-1.4 .6-3-.3-7.6 3.3-9 1.1-3-1.5-3 .6-6-1.4-3 .1-4.4 1.6-3 .2-16.6-4.7-3 0-6 1.5-1.4-.3-3-2.8-4.6-1.9-3 .5-3-1.1-7.4 .9-3-1-6 1.4-7.6 .7-1.4 .7-7.6-1.8-1.4 1.6-3 .6-4.6 2.2-3 2.8-1.4 .1-3-1.3-1.6 .8-4.4 .4-4.6-3.5-1.4 .1-3-.9-1.6 1-1.4 0-3-1.3-1.6 .4-4.4-1-3-2.2-3 .8-7.6-.2-4.4 1.3-1.6-.6-4.4 .1-6 2-3-.3-4.6 1.3-6-2.4-4.4 1.1-6-1-6 1.5-1.6-1.4-1.4-.6-3 1.8-4.6 .6-4.4-.4-1.6 .8-4.4-.5-3 .7-6 3.6-3 .3-6-1.8-3 1-3-1.6-4.6 .1-9-2.9-4.4 1.1-3-.4-1.6 .4-6-2-8.3 1.7-3.7 2.3-1.4-1.2-7.6 1-1.4-1.9-3-.8-3 .4-4.6-1.2-3 .7z"/>
<path fill="#ca3b37" fill-rule="evenodd" d="M147.2 651.8l339 0 0 48.1-1.4-.1-1.6-1-9.5-.5-3.9-2.1-1.6-.1-1.4 .7-4.6-.3-3 .6-7.4-.6-3 .8-1.6 1.1-4.4 .7-3 1.6-1.6 2.1-1.4 .3-1.6 1.2-1.4 .1-3-1.1-6-.1-3-1.9-9-2.6-3-.1-1.6-1.5-3 1.7-6 1.8-7.4-.7-10.6 .4-9-.5-3 .4-1.4 1.1-1.6 0-3.7-1.5-2.3-1.7-4.4 .6-3 1.1-1.6-.4-3 1.1-3-2-1.4 .2-1.6 1.1-6 2.2-6-.7-4.4 .8-1.6-.5-3 .4-3-1.2-6 .9-2.7-.4-1.7-1.5-6-.3-6.1 1.8-2.9 .2-3-1.3-1.6 .9-10.4-1.6-3-1-3-.2-3 .6-6-.5-6 1.5-3-1-1.6 .7-1.4-.8-3 2.8-1.6 .1-2.9-.4-1.5-1.8-3.3 .3-2.7-2.1-6 .9-3-.9-3-.1-2.1-.8-.9-1.1-3 .7-3 1.9-4.6 .4-6 2.6-3-1.2-1.4 1.2-1.6 0-3-1.3-6 .4-3-.5-3 .7-1.4-.5-2.5 1.2-2.1 .1-1.4-1.2-3 0-1.6-.9-1.4 .6-2.5-.1-3.5-1.7-3 .8-1.6 1.1-4.4-1.5-1.6 .1-1.5 .9-2.9 .5-1.5 1.4z"/>
</g>
<clipPath id="ce"><rect x="736.45" y="651.80" width="339.00" height="448.20"/></clipPath>
<g clip-path="url(#ce)">
<rect x="736.45" y="651.80" width="339.00" height="448.20" fill="#4257c9"/>
<path fill="#506bda" fill-rule="evenodd" d="M879.3 715.8l2.7-1.3 2-.2 14-.4 8 .6 7.9 3.4 8 .6 6 2.2 2 1.3 13.9 2 18 0 6-1.4 15.9-.6 4-1.7 29.9-.4 4-1.4 6-.4 29.9 0 5.5 1.7 12.4 2.4 0 377.8-339 0 0-380 8-.5 6 .8 6 3.6 4-.1 4-1.2 17.9-.8 4-1.1 10 1.3 11.9-1.2 6 1 8-1.3 6 1.4 10 .7 7.9-.9 8-2.6 4-.1 8-2z"/>
<path fill="#5f7fe8" fill-rule="evenodd" d="M874 750.7l8 .9 6-.4 14 1.4 5.9 2.4 6 1 8 .4 8 2 8-.6 9.9 .4 16-1.9 6 1 9.9-.5 10 1.7 10 .1 7.9-2 28-4 7.9-2.1 6 1 6-.6 6 1.1 8 .1 5.9 1 0 346.9-339 0 0-347.2 14 2.3 8 .1 8 1.5 7.9-1.3 8 0 6-.7 6 1.3 2 0 7.9-2.6 6-.6 4 .1 8 1.2 8-2 2 0 11.9 1.9 10-1.5 12 .8z"/>
<path fill="#6f92f3" fill-rule="evenodd" d="M736.4 781.9l2-.1 6 1.1 6 .1 8 2.6 10 1.4 11.9-.5 6 1.8 10-.7 6-1 5.9 .3 10-1.9 12 .9 6-.8 9.9 .4 20-1.1 4-1.1 5.9 .2 6-2.5 2-.1 6 1 6-.6 11.9 2.1 6-.2 4-1 6 1.1 10 .6 13.9-1.4 6 1 6-1.2 6 .5 9.9-.1 6 .7 6-.2 8 1.8 11.9 0 8-1.6 8 .8 4-.5 8-2.6 7.9 1.3 10-.5 6 .5 8-.7 7.9 .4 0 317.9-339 0z"/>
<path fill="#80a3fa" fill-rule="evenodd" d="M934.4 809.9l5.4-.2 4-1.2 4-.2 8 1.5 12-.1 17.9 1.4 12 2 19.9-.4 8-1.5 10-.1 7.9-1.4 18 1.2 13.9 .1 0 289-339 0 0-285.7 4 0 6 1 6-.1 16-3 7.9 1.9 24 .4 17.9-1.3 10 1.2 8-1.6 5.9 .5 10-.5 10 .5 9.9-1.6 14 1 6-.6 8 .5 6-.8 5.9 1.1 8-1.9 8 .7z"/>
<path fill="#92b4fe" fill-rule="evenodd" d="M880 835.8l6 1.3 6-.8 14 1.2 5.9-.8 12 1.8 6-.9 11.9-.4 4-.6 6 1.4 2-.1 12-2.3 9.9 1.8 10-1.3 6 .7 8-.5 6 1 5.9-.9 8 0 16 1.1 6-1.8 13.9-1 6 1.1 6-.1 7.9 1 0 263.3-339 0 0-257.9 6-.9 10-.4 12-2.5 11.9-.6 14-.3 12 1.5 23.9 .8 13.9-.1 4-.3 12-3.2 10 .3z"/>
<path fill="#a2c1ff" fill-rule="evenodd" d="M875.3 861.9l8.7-1.1 16 .1 9.9 .7 8 1.9 18 1.4 5.9 1.1 6-.6 8 .8 8-.6 6-1.5 5.9-.7 6 1.2 2 0 27.9-2.9 10 2.3 14 0 6-1.1 3.9-.1 6 .5 6 1.9 4-.1 6-1.1 7.9 .8 0 235.2-339 0 0-231.8 6-.3 6 .5 16-1.5 9.9-1.6 8 .2 12-2.8 6 .3 7.9-1 8 1.9 10-.6 6 1.4 9.9 .9 4-.6 6 .1 6-1.7 8 .4 4-.4z"/>
<path fill="#b2ccfb" fill-rule="evenodd" d="M794.8 885.9l9.4 .6 6-.9 8 1.6 8 .7 6 2.1 7.9 1.4 16 5.2 2 .1 8-1.4 7.9-.4 16-3.4 16-.1 5.9-1.8 18 2.6 11.9 .4 6-.4 8 1.4 6-.7 10 .2 15.9-1.6 2 .1 6 1.6 6-1.1 7.9-.6 10 .9 4-.4 14 .9 7.9-.2 14-1.3 6 .7 9.9-1.5 0 209.4-339 0 0-208.7 10 1 6-.2 10-1 8-1.9z"/>
<path fill="#c1d4f4" fill-rule="evenodd" d="M768.4 921l5.9 1.6 6 .3 8-1.5 8-.5 6 .5 11.9-1.2 4 .5 8 3.7 8 .6 7.9 1.8 8-.2 8 1 15.9-1.8 8-.2 8 .9 6-.1 8 1.5 9.9-.8 6 .9 6-1.7 10 .4 7.9-1.7 4-.3 6 .7 23.9-1.4 12 1.2 12-.4 13.9 1.2 8-.8 14 .9 5.9-1.6 8 .9 4-.7 19.9-.8 0 176.1-339 0 0-177.7 12-.2 10 .6z"/>
<path fill="#cfdaea" fill-rule="evenodd" d="M1009.4 945.9l22.2 1.7 6 1.7 9.9 .7 6-.5 8 1.8 8-.3 5.9 1.2 0 147.8-339 0 0-150.3 10 .1 6 .8 12-2 7.9 1.4 16-.1 6 .9 8 .2 3.9-1.3 4-.6 6 1.1 8-.6 10 1.1 11.9-1.8 12 1.7 10-1.6 25.9-.1 13.9 1.4 6-.5 4 .7 6-.3 6 .9 8-1.3 5.9-.2 8 1.4 6-1 16-.2 5.9 .7 8-1.6 8-.5z"/>
<path fill="#dddcdc" fill-rule="evenodd" d="M907.9 975l14 .8 6 1 11.9-1.2 14 2.1 8-.1 6-.7 6 1.1 11.9 0 6-1.9 8 .2 6-1.8 5.9-.5 8 1.1 6-.8 10 1.4 7.9 .2 6 2.1 2 .1 12-1.6 6 .3 5.9 1 0 122.2-339 0 0-121.2 10 0 8 .9 6-2.3 2-.2 8 .4 19.9-.5 8 .7 9.9 0 6 1.6 6-1.4 8 1.7 2 0 8-1.5 5.9 .8 16-1.2 11.9 1.1 6-1.4 10 .7 6-.9 6 .3z"/>
<path fill="#e9d5cb" fill-rule="evenodd" d="M1031.6 1000.9l19.9 2 12 .1 11.9 1.2 0 95.8-339 0 0-90 12 .1 14-1.1 7.9 .4 8-1.9 6 .2 6-.5 10 1 5.9-.3 12 1.4 10-1.2 17.9 .3 8-.7 8 .9 4-.4 9.9 .4 6 1.7 8-1.6 10 .9 17.9-2.6 8 .5 6-1.2 9.9-.9 20 1.4 12-1.9 11.9 1.3 20-2.9 9.9-.1z"/>
<path fill="#f1ccb8" fill-rule="evenodd" d="M1039.6 1027.3l3.9 .6 6-.2 6 .6 10-1.9 9.9 2.4 0 71.2-339 0 0-66.4 8-.4 6-1 10 1.1 15.9-.8 31.9 1.1 6-.6 6 .2 8-2.4 2-.1 37.9 1.4 7.9 1.4 4 .1 4-.3 8-2.2 6 2.1 23.9-1.2 6 .5 6-1.2 7.9 .3 14-2.6 8 1.3 6-.8 5.9 .1 10 2.4 4 .1 4-.5 6-2.5 2 .2 4 1.7 1.9-.1 6-2 16 .1z"/>
<path fill="#f6bfa6" fill-rule="evenodd" d="M766.4 1051.7l5.9 1.8 18 .4 8 1.8 5.9-.9 6 .2 8-.6 4-1.4 4-.6 8 .4 4-1 7.9 .5 6-1 3.6 .7 4.4 2.1 2 .3 8 0 5.9 1.1 4-.6 6 1.4 20-1.9 9.9 .2 4-.6 6 .5 4-.5 6 .4 13.9-1.8 6 .1 6 1.3 6-.4 15.9 1.1 12-.6 10 .5 3.9-.7 6-2.1 8 .4 6-1.4 6 1.1 7.9-1.1 24 .6 7.9-1 0 49.6-339 0 0-45.7 14-2 10 1.1z"/>
<path fill="#f7b093" fill-rule="evenodd" d="M1038.7 1066l12.8 .4 23.9-.9 0 34.5-339 0 0-27.6 5.4-.4 4.6-1.2 6-2.4 8 0 15.9 3.7 14-.7 10 .7 13.9 .1 2.6-.2 5.4-2.4 12-.8 7.9 .7 6-.9 6 1.4 14 .7 11.9 2.2 10-2 6 1.2 6-.6 17.9 .8 10-.6 6-1.3 9.9 .4 8-1.9 4 .3 4 1 12-.7 11.9 .9 12 0 8-1.3 17.9-.7 8-.8z"/>
<path fill="#f59f80" fill-rule="evenodd" d="M1063.5 1077.5l6.8 .5 5.1-.7 0 22.7-339 0 0-15.8 12-1.2 12 1.4 13.9-.3 18-1.7 4 .3 6 1.7 5.9-1 12 .7 8-2.5 6-1.1 9.9 1.2 8-.5 27.9 2.5 8-.8 12 2.3 13.9-.8 12 .9 6-.9 6-1.6 5.9-.7 16 0 12-1.1 5.9 .6 8-.2 6 1.1 4 0 8-1.2 5.9-.2 10-1.7 8 .3 14-1.2 9.9 .6z"/>
<path fill="#f08a6c" fill-rule="evenodd" d="M1071.5 1086.4l3.9-.2 0 13.8-339 0 0-6.1 4 .5 6-1.7 23.9 .2 8-.5 6 .4 6 1.4 17.9 0 4-1.3 8-.8 4-.9 6 .2 15.9-1.7 18 1.7 6-.4 5.9 .6 8-.2 8 2.1 6-.6 8 1.6 11.9-.4 6 1.1 6-.8 6 .2 5.9-1.7 24-2.9 4-1 2 .6 3.9 2.5 8-.6 6 .3 6-1.4 8 1.5 5.9 .2 2.1-.1 9.9-2.6 4 .6 6-.6 6 .7 5.9-1.6 6 1.6 8 0z"/>
<path fill="#e7745b" fill-rule="evenodd" d="M1075.4 1093.3l0 6.7-138.5 0 8.9-2.1 8-.1 6-1.9 6 .8 6-.2 5.9 .9 10-.2 12 .9 13.9-.5 12-1.3 6 .6 6-1.1 9.9 .8 4-.8 12-.2zM831.7 1096l42.2 0 6.1 .5 6 2.5 8 .2 6 .8-163.6 0 0-1 4 .8 8-.6 6 .3 3.2-1.5 2.8-.5 10 1.7 3.9-.1 8-1.2 6 1.5 6-.5 13.9 .2 8-1.4 10-.2z"/>
</g>
<clipPath id="cf"><rect x="1325.65" y="651.80" width="339.00" height="448.20"/></clipPath>
<g clip-path="url(#cf)">
<rect x="1325.65" y="651.80" width="339.00" height="448.20" fill="#4e68d8"/>
<path fill="#5b7ae5" fill-rule="evenodd" d="M1512.3 677.3l3.9-1 3 .6 1.4-.3 2.6 2.2 .4 1.5 2.6 1.5 .2 1.5 1.8 1.7 4.4 .6 1.6 .6 3-.2 1.4 .8 3 .6 4.8-2.6 1.2-1.5 4.6-2.3 7.4-.8 3-1.9 4.6 .9 7.4 4.2 6.1 .1 4.5 1 1.4-.5 4.6 1.1 1.4 1.3 4.6 .3 4.4-1 1.6 .7 2.5-.1 4.9-2.5 3-.4 1.7-1.6 3-1.5 1.3-1.8 1.6-.5 3 .5 4.4-1.4 3-.1 6 1.8 4.6-1.5 3 .5 1.4 1.3 3 1.1 1.6 .1 1.4-.7 1.6 .7 4.4 .1 3-.7 3 1 0 419.3-339 0 0-413.5 1.6-.4 1.4 .6 7.6-.1 6 2.4 3.9-1.2 2.1-1.4 6-1.2 1.4-.1 6 1.4 6-.2 1.6-2.5 1.4-1 3 .9 1.6 1.1 1.4-.6 6 2.1 4.6-.6 3 1.5 9 .8 3 1.6 1.4-.1 14.3-6.2 3.7-2.3 1.6-.5 6 0 1.4 0 7.6 3.5 4.4 0 .4 .8 1.2 .4 3-.6 3 1 3 .1 3-1.9 1.4 .7 3-.8 7.6-.1 3-.5 3.1 1.7 5.9-.6 3.3 2.1 5.7 1.7 4.4-1.3 1.6-.9 3-.1 3-.9 3-1.5 1.4-2.7 4.6-1.7z"/>
<path fill="#6a8bef" fill-rule="evenodd" d="M1415.4 710.3l1.8 .8 3 .3 3-.6 1.4 .3 3-.3 9 2.7 1.6-1.1 4.5-.6 1.5 .2 3 1.8 1.4-.4 1.6 .6 4.4 2.4 1.4-.1 4.6-2.9 6 .5 1.6 .8 1.4-.4 1.6-1.3 1.4 .5 3-2.2 4.6 1 3 2.3 3 .8 9-1.3 1.4 .8 1.6-1 3-.1 4.4-1 6 .8 5.9 4.2 1.7 .3 4.4-.1 1.6-1.4 6-.2 3-.8 1.5 .7 8.9 1 3 1.2 3-.3 3 .9 6 .6 3-.3 3 .8 3-.4 3 1.3 4.6-1.5 1.4-1.4 3 .1 1-.5 3.6-4.7 1.4 .3 3-.7 2.6 .6 2 1.5 1.4-.9 3 .2 1.2 .7 .5 1.5 2.9 1.5 3-.7 3 .9 1.4-.4 3 .6 2-.4 4-2.5 4.6-.1 3-2.4 1.4-.3 3 1 2.9-.2 .5-1.5 1.2-.6 4.4-.7 4.6 1.2 1.4-.6 1.6 .4 4.4-.9 3 .4 6 3.3 3 0 0 385.7-339 0 0-383.4 4.6 1.7 4.4-.4 1.6-1.2 3 .8 10.4-.4 4.6 .8 4.4-1.6 4.6 1.3 3-2.1 3 2.1 4.4 .4 4.6-2.3 3 1 3-.1 4.4-1.8 4.6 .6 6-1 3 .2 3.7-1.3 2.3-1.9 1.4-.4 1.6 .4z"/>
<path fill="#7a9df8" fill-rule="evenodd" d="M1655.6 730.7l7.6 2.5 1.4-.2 0 367-339 0 0-363.8 3-1.2 9 1.9 3-.7 4.6 1.9 3 .1 9 2.7 2.4-.7 2-1.8 15-3 3-.1 6-2.2 3 .2 4.6-1.3 1.4 1.3 4.6 .6 3-.7 12 .5 3-.7 3 1 2.9-1.2 6.1 1 3-.5 2.7 .9 2 1.5 7.3 2.6 4.4-.4 4.6 1.2 7.4 .6 4.6-.4 3-1.4 3 .3 3-1 3 .1 7.4-1.5 4.6-.5 4.4 .7 6-.8 3 1.2 4.6 .6 3 2.2 1.4-.2 3 2 7.6 .3 4.4-1.9 4.6 .7 3-1.2 9 1.4 4.4-.5 1.9-1.1 1-1.5 1.7-.2 1.4 .5 10.6 .2 1.4 .6 6-.1 1.6-.7 6 .1 1.4 .7 4.6-.2 4.4-1.5 1.6-1.5 3 .5 4.4-1.7 3 .2 3-.5 3 1.9 3-.3 3-1.1 1.6 0 4.4-1.9 4.6 .4 1.4 1 4.6-.5 3 1.1 9-1.4 1.4 .4 1.6-.3 3 1.3z"/>
<path fill="#89acfd" fill-rule="evenodd" d="M1657.1 746.2l4.6 0 2.9 1.8 0 352-339 0 0-344.6 6-1.5 4.5 1.6 13.5 .8 1.6-.6 1.4-1.3 7.6 .2 3-1 1.4 .4 3-1.1 4.6-.1 4.4-1.2 1.6 .1 1.4 1.3 3-.8 1.6 .5 2.9-1.8 3.1 2.6 1.4 .6 1.6-.8 3 2.2 1.4-.2 3-1.8 4.6 1.8 1.4-.3 3-2 1.6 .5 10.4-5 3 .7 6 .1 1.6-.6 3 1.2 3-.2 6 3.5 3 .4 6-.8 4.4-1.4 1.6 .5 1.4 1.8 1.6 .6 9-.9 10.4 1.4 4.6-.6 1.4 .3 1.7-.8 1.1-1.5 1.8-.4 2.9 .8 3.1 2.1 3 .9 6-1.7 7.4 1.6 4.6-1 4.4 1.5 6-1.6 1.6 .8 1.4-.6 3 .4 7.6-1 7.4 .6 7.6-1.5 .5 .6 3.9 .7 7.6-.9 3 1.7 4.4-1.1 4.6-2.5 9 1.3 3-.5 3 .5 9-1.3 4.4 1.8 1.6-.4 3 1.2 1.4-.7 .8 .2 2.2 2.8 6-3.1 3-.1 3-1 3 .7 6-2.1 3 .6 3-1 1.6 .4 4.4-1.9 1.6-1.8z"/>
<path fill="#98b9ff" fill-rule="evenodd" d="M1424.6 763.7l6 .9 9 2.8 7.6 .9 1.4 1.2 4.6 .6 4.4-1.7 3-2.4 1.6-.2 9 .5 16.4-1.2 6 1.9 4.6 .7 1.4 1 1.6 2 1.4 .6 1.6-.8 3 .9 3 .1 3 2.1 3-.3 3 1 9-4.7 3-.7 3 .6 6-.9 6-.1 10.4 2.2 3 1.6 3 .2 1.6 .8 4.4-.4 1.6-1.5 1.4-.3 3 .5 4.6-2.1 7.4-.5 6-1.1 3 .2 7.6 1.8 1.4-.1 3 1.2 4.6 .4 4.4-.8 1.6-.8 6-.1 2.4 .5 6.6-1.9 1.4-1.1 4.6 .1 3-.9 5.4 2.3 .6 .9 1.4 .6 1.6-1.1 3 0 4.4 3.4 6.1-1.3-.1 328.8-339 0 0-331.7 3 .1 6 1.5 3-.5 10.6 1.9 3-.4 3 1.1 1.5 0 1.5-1 1.4-.3 6 .4 1.5-.9 .1-1.5 4.4 1.3 1.6-1 3 1.3 3-.3 4.4 .8 3 1.3 3-.5 7.5 1.6 3.1-.8 1.4 .4 4.6-.9 1.4 .3 7.6-2.3 1.9-1.2 1.1-1.7 4.4-1.4z"/>
<path fill="#a7c5fe" fill-rule="evenodd" d="M1479.3 777.7l1.3 0-.2 1.5 1.2 .7 3-.6 1.6-1.3 3-.4 1 1.6 1.9 1.5 6.1 2.6 3 .6 4.4 2.2 1.6 0 1.4-.9 7.6 .4 3-.5 3 1.4 1.4-.7 1.6-2.2 7.4-1.6 3-1.7 4.6-1.3 1.4 .7 3 .3 9 2.5 6 .4 6-.8 1.6 .7 2.9-.5 1.5 .3 3-1 3 .4 3-2 1.6 .5 3-1 3-.1 4.4 .6 1.6-.7 4.4 1.6 6 .1 10.6 2.4 6 .8 2.9-1.6 4.5 1.2 4.6-2.2 3 1.8 4.4 .2 6 2.5 6 .8 3 1.6 1.6-.8 1.4 1.2 1.6 .4 4.4-.1 0 310.8-339 0 0-318.5 3 1.5 4.6-.6 4.4 .7 1.6-.2 1.4-1 1.6 .3 3-.5 4.4 1.6 4.6-1.7 7.4-.1 3-.9 4.6 .9 1.4 .8 1.6-.4 3 1 3-.4 6 1.5 1.4 1 3 0 4.6 1.8 9 .4 1.4-.8 4.6 .7 4.4-.5 3-1.3 3 .1 4.6-.8 1.1-.9 .3-1.2 1.6-.2 4.4 1.8 1.6-.3 3 .9 7.4-2.2 3 1 4.6 .4 4.4-1.4 6 .6 1.6-.9 6-.3 1.4-1.5 1.6-.4 1.4 .4 3-.7z"/>
<path fill="#b6cefa" fill-rule="evenodd" d="M1583.6 790.5l3-.7 15 2.5 4.6-.6 3 1.1 1.4 1.5 6 3 3-.5 1.6 1.7 4.4 1.2 1.6 1.1 3-.8 6 1.4 4.4-.4 1.6 .4 1.4-.4 6 1 1.6 1.3 1.4-1 3-.7 3-.5 3.1 .6 2.9-.9 0 299.2-339 0 0-298 6 .1 7.6-1.1 4.4 .1 1.6-1.2 5.3-1.2 2.1-1.7 1.6 .6 1.4-.6 3 0 3-1.6 1.6-.2 6 1.8 4.4 .2 3-.8 6-.2 9 3 3-.4 1.6 .9 3-.9 4.5 1.5 4.5-.7 4.4 2.7 1.6-.1 1.4-2 1.6-.4 7.4 .8 10.6-3.8 9 .8 3-1.2 6 1 4.4-1.6 3-1.7 6 .5 4.6-2.1 3-.3 1.4 .1 3 1.3 4.6-.9 4.4 .4 3 1.9 3-.4 1.6 .8 6 .9 1.4 1.3 4.6 2 10.4 .8 1.6 .8 4.4-.2 6-2.6 3 .7 3-2.5 5.9 2.1 3.1 3 1.6 .1 1.4-1.9 4.6-2.2 1.4 .2 4.6-1.2 3 .5 3-1.8 3 .4 3-.3 7.4-3.5 1.6-.5 3 .4z"/>
<path fill="#c4d5f3" fill-rule="evenodd" d="M1598.5 803.2l3.1-1.1 1.6 .5 1.4 1.4 2 .7 7 5.9 4.6 2.8 1.4 .4 6-.6 1.6-1.1 6 1.8 6-1 1.4-.8 1.6 .3 3 2 4.4-1.9 6-.3 3 1.7 1.6-.8 1.4 .9 3-.9 0 286.9-339 0 0-289.3 7.6-.4 1.4 .8 3-.1 3 2 6 .4 3-.7 3-1.4 4.6 .3 3-1 1.2 .1 .3 1.5 2.9 .9 4.6 .5 1.4-.1 3-2.6 4.6-.2 3 .9 3-.8 1.4 .9 3 .6 1.6-.6 12 1.8 3-.7 4.4 .4 3 1.4 4.6-.3 3 1.5 7.4-1 1.6 .5 6-2.4 6-.5 4.4-1.1 3-2.3 3-.1 1.6 .6 3-2.1 1.4 .5 4.6-1.2 4.4 0 1.6-1.1 3-.2 3-1.1 3 0 1.4-.8 9 3.3 3 2.1 3-.5 1.6 1.3 4.4 .7 9 2.8 9-.6 1.6 .8 1.4-.4 4.6 .5 1.4-.6 3-.1 3 .3 3 1.2 3 0 1.6-.1 3-2.3 7.4-.4 1.6 .4 3-1.4 7.4-1.7 3-2.1 3 .7 4.6-3.2 4.4 1 .8 1-.2 1.5 .6 1.5 1.8 .4 7.6-1.4 6-3.1 1.4 .2z"/>
<path fill="#d1dae9" fill-rule="evenodd" d="M1457.6 818.9l4.6 .2 3-.4 1.4 1.7 1.6 .6 4.4-.6 3-1.2 3 .1 3 1.3 4.5-.8 1.5 .8 9 .9 3 1.3 9 .8 6-.4 3.1 1.1 2.9-.3 6 1.2 1.6-.5 1.4 1 7.6-1.4 6 .8 9-1.8 6-.5 3 .5 6-.6 4.4-1.6 4.6 2.9 1.4 .1 1.6-.8 3 1 6-1 9 1.1 7.4-1.1 3 .3 1.6-.9 4.4 .8 7.6-.3 9 1.5 4.4-.5 4.6 .9 6 .1 3 .9 1.4-.3 3 1.1 3 2.5 3-.3 3-1.3 3-.2 0 272.4-339 0 0-277.8 1.6 1.5 1.4 .3 6-.7 9 .5 3-.4 3 .7 3-.3 1.6-.8 2.9 1.2 1.5-.2 3 .9 3-.3 1.6 .7 7.4-1.6 3 .7 3-1 3 .9 4.6 .4 6-1.2 9 1.5 7.4-.3 4.6 .9 3-1 12 .8 7.4-1.6 4.6 .4 9-2.6 3 .3z"/>
<path fill="#dddcdc" fill-rule="evenodd" d="M1391.6 831.7l6 2 9 .9 7.6-.4 1.9-1 5.5-.8 7.6 .4 6-.6 6 1.1 4.4 2.3 3-1.4 3-.2 1.6-.8 4.4-.2 4.6 1.5 4.4-.9 1.6 .5 1.4-.8 4.6 .2 4.4-2.5 4.6-.5 6 .3 9 2.5 6 .5 9-.2 1.4-.4 4.6 1.4 4.4-.3 3 .5 4.6-.7 6 .2 1.4 .7 5.9-1.8 3.1 .4 3-1.3 9 2.9 1.6 .2 1.4-.8 3-.3 9 3.4 3 .3 4.6-.5 9 2.5 1.4-.9 3 .6 1.6-.4 3-1.8 7.4-1.9 3 .4 1.6 .9 3-1.2 4.4 .2 1.6 .6 4.4-.8 1.6 1 1.4 0 3-1.1 1.6-1.1 3-.7 6 1.8 6-.2 1.4 .5 3 2.5 4.6 1 7.4-.3 0 260.9-339 0 0-266.5 1.6-.4 1.4 .3 6 3.6 4.6-.9 7.4 .3 3-1.7 1.6-.2 3 1 1.4-.5 6 .6 1.6-1.4 3-.7 6 1.3 6-.8 7.4-2.3 4.6 .5z"/>
<path fill="#e8d6cc" fill-rule="evenodd" d="M1436.6 842.5l6 1.6 3 1.5 3-.4 3 2.2 1.6 .3 3-.6 1.4-1.1 1.6-.1 3 1.3 3 .2 1.4 .6 1.6 1.5 6 1.9 3 0 3-1.4 1.4 .1 3-1.6 3 .8 6-1.5 6 .5 6-1.1 6 .4 3-1 6 .8 1.6-.4 3 1 1.4-.3 3 1.5 7.6 .4 9-1.9 3 .8 4.4-.7 6 1 4.6-1.3 4.4-.3 7.6 5.2 1.4-.3 1.6 .7 6-1.7 4.4 .8 4.6-.3 3-1.1 1.4 .4 7.6-2.1 1.5 .9 1.5 1.7 9 .6 1.4-.1 3-2.2 10.6-2.2 1.4 .2 1.6 1.7 3-1.1 3 .6 3 1.4 3-.5 4.4 1.2 3-.7 7.6 1 1.5-.5-.1 249.2-339 0 0-248.3 3-1.2 7.6 .6 1.4 .9 1.6-1.8 4.4-1.2 7.6 .2 3 1 6-2 1.4 .1 1.6 .9 4.4-.9 4.6 .9 3-2 1.4 .7 3 .1 3-1.8 7.6-1.2 2.9 .5 1.5-.2 4.6 1.6 4.4-.4 1.6 1.7 3-.6 4.4 2.2 1.6-.2 3-2.7 4.4 1.8 3-1.2 3-.4 2-1.9z"/>
<path fill="#f0cdbb" fill-rule="evenodd" d="M1535.4 860.2l3.2 .2 1.6-.6 3 1 4.4-1.3 4.6 .2 1.4 .7 4.6 .4 4.4-.1 1.6 .7 3 .1 4.4 2.6 1.6 0 4.4 1.8 3-.3 3-1.6 7.6-1.5 10.4-.1 6-.6 1.6 1.8 4.4 1.2 1.6 .1 3-1.2 3-.3 1.4 .2 3 1.9 1.6 .2 1.4 0 1-1 3.6-1.1 4.4 .1 3 1.3 4.6-.7 3 .4 1.4-.4 1.6 .7 7.4-.1 3-1.4 3 0 0 236.5-339 0 0-232.8 3-1.3 3 0 4.6-1.5 3 .4 4.4-1.9 3-.5 4.6 1 7.4 .3 4.6-.5 4.4 1.6 6-.3 4.6 .9 1.4-.3 3 1.6 3-.2 .9-.3 3.7-4.3 1.4-.2 4.6 .9 1.4 .9 1.6-.4 3 .6 3 1.5 4.4-1.3 6 2.7 1.6-.6 6 0 4.4-1 3 .5 1.6-.5 1.4 .6 3-.4 1.6 .6 1.4-1 3 1.4 6 1.5 1.6 1.2 3 .4 3-1.4 1.4-1.9 4.6-.4 3 1.5 1.4 .2 3-1.4 9-1.4 6 .7 3 1.2 3-1.1 3 .1 4.6-1.6 1.4 1 3 .2 1.6 .9 7.4 1 1.8-2.2 1.2-1 1.5-.2 1.5-1.9 3 0 3-.9 3 1.4 4.6-.6 1.4 .3z"/>
<path fill="#f5c2aa" fill-rule="evenodd" d="M1550.9 872.2l4.3-.2 1.4 1.2 3-.6 1.6 .2 6 2.1 3 .2 6-.4 3-.9 4.4 .5 4.6-1 7.4 1 1.6-.7 4.4 1.2 3 1.7 6 .4 1.6 1.5 4.4-.1 1.6 .9 1.4 .2 3-1.5 1.6 1 6 1.1 3-1.1 1.4 .6 3-2.8 3 1.3 1.6 .1 4.4-1.3 4.6 0 1.4 .4 6-1.5 6 .9 0 223.4-339 0 0-221.5 3-1.4 3-.2 6-3.3 1.6-.2 4.4 1 4.6-.8 4.4 .4 4.6 1.6 6 1.1 4.4-.2 6 1 4.6 0 4.4 1.2 3-.9 10.6-1.1 7.4 1.6 6 3.5 7.6 1.8 1.4 .1 3-1.3 3 2.1 3-1.8 3 2.1 3-1.8 1.6 0 1.4-2.9 7.6 2.8 4.4 0 6-2.2 6-.4 6-1.2 3-1.5 3-.2 1.6-1 1.4 .3 3 2.4 1.6-.1 3 2.7 1.4 .6 1.6-.6 3 1.4 1.4 0 1.6 1.4 1.4 .4 1.6-.2 1.4-1.3 3 1.9 1.6 .1 3-1.5 1.4-1.6 4.6-1 4.4 .5 3-2.7 4.6-1.4 4.4-.6 1.6 1.4 6-4.3 1.4-.4 3 1 1.6-.7 3 .4 1.4-.8 3 .2z"/>
<path fill="#f7b599" fill-rule="evenodd" d="M1345.2 884.6l4.4 .7 1.6 1.4 6 1.8 .5 1.6 .9 .9 6 2.6 1.6-.2 3-2 1.4 2 1.6-.6 3 0 1.4-.9 3 .8 3-.2 7.6-1.9 15 2.2 4.4 2.8 4.6 .6 3-.3 7.5 .4 2.9-.5 4.6 1.1 7.4-.6 4.6-2.1 2.9 .6 6.1-1.6 12 1 3-.7 4.4 1.7 9 1.3 6 3.7 6 .6 3 2.6 1.6 .4 6-1.2 12-5.8 2.2-2.2 2.2-1.1 3-.6 1.6-1.4 3-.5 1.4-.8 4.6 2.4 4.4 .4 4.6-1.2 4.4 .6 4.6-.5 4.4 .9 3-1.9 6 3.7 4.6 .2 5.9-4.7 1.5-1.8 4.6 .7 4.4-.7 4.6 .7 6 2.4 1.4 2.9 3 2.2 3 0 1.6 .5 1.4-1.1 3-.8 3 .8 1.6-.2 3 1.1 1.4-.4 3 1.1 7.6-1.5 1.4-1.1 4.6-.5 3 1.3 1.4-.8 3 .5 3-.6 1.7 1.3 1.3 .4 3-.3 3-1.2 1.6-1.9 3-1.2 1.4-1.1 3-.1 0 209.3-339 0 0-207.8 4.6-3 4.4-1.6 3-1.8 3 .6z"/>
<path fill="#f7a688" fill-rule="evenodd" d="M1383.7 902.1l4.9-1.2 3 .9 12 1.4 3 1.1 4.6 .5 3 1.2 3-.1 3 1.4 4.4 .2 4.6 1.4 1.4 .1 3-1.1 3 1.3 3 0 6 1.7 4.6-.1 1.4-.5 6 .2 4.6 .6 3 1.5 3-.7 6 .2 3 1.1 4.4-1.1 3 .2 1.6-.5 13.4 1.8 4.6-.6 7.4 .7 6-1 1.6 .3 1.5 1.1 .4 1.5 5.5 3.3 4.6 .4 1.1-.7 .3-.9 1.6 1 2.4-1.6 .8-1.5-.4-1.5 6.2-4 4.4-.8 3 .3 6 1.8 2.8 2.7 1.8-.2 1.4 2.1 6 1.9 9 1.2 3-.3 4.6 .9 9-1.6 3-2.4 1.4-.3 4.6-3 7.4-2.2 3-.2 1.6-.8 1.4 .1 1.6 1.4 3-1.7 7.4-2 3-.2 3 1.6 1.6-.4 10.4 1.9 4.1 2.7 4.9 .7 4.6-1.4 3-1.4 1.4-1.6 0 191.1-339 0 0-193.6 7.6-2.9 3-.1 3 1.9 6-.6 1.8 3.4 1.2 1 3 .5 1 1.5 3.4 1.7 6 .7 3.3-.9 1.8-3 .2-1.5 .7-.4 3 .1 3-1.2 1.6 .1 1.4-1.8 3-.6z"/>
<path fill="#f39577" fill-rule="evenodd" d="M1388.1 914.1l5.1-1 7.4 1.2 1.8 1.3 1.2 .5 1.6-.2 1.4 1.1 4.1 4.6 1.9 1.2 7.6 2 3 2.2 1.4 .4 6-1.7 1.6 1.1 5.9 .9 13.5-4 6-.9 7.6 1.8 7.4-.3 3.1 .4 7.5 2 3-1 12 .6 4.4-2.9 10.6 0 7.4 3.7 3 4.9 3 1.3 1.6 1.6 3 1.4 4.5 .7 1.5 1.2 3-1.4 3-.3 1.4-1 .6-1.9 1-.9 3-1.3 8.8-3.8 3.1 .1 3.1-1.4 6 1.2 6 2.7 4.4 0 2.7 1.9 3.3 .4 1.6 1 1.4 0 1.6-1.3 3 .3 4.4-4.9 4.3-3 4.7-.4 1.6-1.1 3-.4 3-1.6 1.4 .6 4.6-.7 7.4 .9 4.6-.3 3-.9 4.4 .1 4.6 1.5 6 4.2 9 2.2 1.4 1.4 1.6 .4 1.4-1.3 0 170.8-339 0 0-177.1 6-3.6 7.6-.6 4.4 2.6 4.7 .3 2.9 2 3 .3 3 2 4.4-.1 3 1.4 6-.2 7.6-3.9 2.3-4.5z"/>
<path fill="#ed8366" fill-rule="evenodd" d="M1396.2 933.2l7 .4 2 1 6 .8 4.4 1.5 1.6 1.8 1.4 .7 4.6 1.5 3 .3 3 1.3 3-1.5 3 .6 3-.5 3 .8 5.9-2 3.1-.1 1.4-.6 3 .9 1.6-1 3-.1 12-3 10.4 2.9 4.6 4 3 1.5 5.9 1.2 4.5 1.6 6-.2 13.6-2.2 4.4 1.6 6 .5 4.6 1.5 7.4 1 4.6-.5 6-2.1 7.4-4.7 3-.5 6-2.5 3-.2 3 .5 4.6 2.1 4.4 4.1 9 2.6 7.6-.2 4.4-1.5 1.6 1.5 3-1 4.4-.4 3 .8 1.6-.4 1.4 .4 1.6 2 1.4 .9 1.6 .1 3.8-1.8 .6-1.8 3 0 1.6-1.6 1.7 1.9-.2 1.5 1.5 .6 3 3.8 7.4 2.6 7.6 1.4 6-.5 4.4-1.2 0 144.7-339 0 0-160.3 4.6-.6 3 .7 1.4 2.5 3 .1 3 .9 3-.3 3-1.5 6 2.2 1.6-.3 4.4 2.3 6-.3 3 .5 1.6 1 3 .2 1.4-2.3 8-5.2 4-4.5 4.6-.3z"/>
<path fill="#e36c55" fill-rule="evenodd" d="M1395.7 948.6l1.9-.9 3 .3 3-.5 4.6 1 6 4.7 2.1 2.9 2.3 1.8 .7 1.2-.1 1.5-1.9 4.5 .7 1.5-.4 1.5 1.8 3 .4 4.5 1.1 1.5-.2 1.5 3.3 3 2.2 .5 3-.6 4.4 1 3-1.1 3 0 3-.9 3-2.5 1.6 0 1.4 1.7 1.9-1.1-.4-1.5 1.5-1.1 1.6 .1 3 2.5 3-2.1 1.4 1.7 1.6 .6 3-1.1 3 2.6 1.4-2.1 4.6 .3 3-.9 7.4-6.5 4.6-2.9 2.9-3.1 1.6-3 2.9-1.5 10.6-2.4 10.4-1.1 7.6 0 4.4-1.3 6.2 1.8 3.4 1.5 2.4 1.9 6 1.9 10.6-.1 7.4-2.1 1.6 .4 4.4-2.1 6 .2 4.6-.8 2.9 .9 3.1-.8 9-.3 6 2.1 4.4 2.4 4.6 1.2 6 .1 18 3.5 3 1 12-2.5 13.4 .5 0 133.5-339 0 0-123.8 1.6 .4 3-.5 1.4 1.2 4.6 .6 4.4-2.7 4.6-.3 7.4-3.4 4.6 .5 1.4 1.1 1.6 .3 1.4-.5 6 1.8 10.6-1.1 7.4-2.7 4-2.8 1.8-3 .1-3 1.7-2 1.5-4 .3-6zM1426.2 1084.6l-.7 .4-2.1 4.5 1.2 .5 1.6-1.3 1.4 .1 1.6 1.4 .6-.7 .1-1.5-2.5-3zM1435.2 1090.2l-1 .8 1 1.5 1.5-1.5z"/>
<path fill="#d85646" fill-rule="evenodd" d="M1589.6 971.2l1.6 2.1 1.5-.3 2.9 1.9 3 .3 1.6 1.5 4 6.4 2 0 1.4-.6 1.4 .6 1.6 1.9 3 .8 2.5-1.2-1.4-1.5 2.1-3 5.8-1.2 1.6 .8 3-1.2 1.4 .9 3 .4 1.6 1 1.4-.1 1.6-1.4 4.4 2 1.6-.6 3 .3 1.8-.9 3.1 1.5-.7 1.5 1 1.5-1.2 1.5-.1 3 .5 1.9 1.6 2.1 2.8 .5 1.6 1.5 1-1.5 2.3-1.5-1.2-3 .9-1.2 1.6 .1 1.4 4 3-2.7 0 110.7-11.5 0-1.9-.4-1.6-1.1-3-.1-3.6 1.6-3.5 0-3.3-1.8-4.6 1.3-1.4-1.8-1.6-.5-5.7 1.3-.3 .5-.3-2-2.7-2-1.4 .5-6-.4-4.6 .9-3 1.6-3-1.2-7.4 1.4-4.6-.4-3-2-3 2.4-1.4-.6-1.6 .4-3.7 2.4-6.8-.4-.5 .4-28 0 2.1-3 .5-6-1-2.3-1.2-.7-.5-3-2.9-1.4-3 .7-3-1.3-4.4 2.1-1.6 .2-3 2.2-2.2 .5 .8 .1 1.2 1.4-1.2 3.9-3.1 2.1-.8 1.5 .9 1.5-1.1 1.5-75.4 0 1.5-1 1.4-.1 1-1.9 .5-4.5-1.5-4.5 .1-1.5-1.5-.7-3 .5-6-4.1-.4-1.7-1.2-1-3-.3-3 1.3-1.4-.4-8.3 4.9-1 3-1.8 3-.3 3-1.5 3-.1 1.5 2.1 1.5-23.2 0-4.9-4.9-3 .2-3-1.7-1.6-.1-4.4 .2-1.6 .9-1.4 0-1.6-1.3-1.4-.1-1.3 .8-.3 1.4-3-1.9-2 2 .6 1.1 1.4 .4 3.1-1.5 4.5 .7 1.5 3.8-48.1 0 0-109.8 1.6-.3 3 2.1 1.4 .1 1.6 1.1 1.4-.5 2.3 2.4 .7 2.3 3 2.2 1.6 2.8 2 .2 .6 4.5 2.3 1.5 2.5 2.8 3.3-2.8 .9-1.5-1.2-2.5-4.7-2-.6-1.5 .5-1.5-.3-1.5 .7-1.3 1.5 1.3 2.9 .3 1.7 1.2-1.8 1.5 1.7 1.8 3-.3 3 .5 1.4-.4 3 1 1.6-1.1 1.4-.1 1.6 .5 1.4 1.5 1.6 0 1.7-1.9 0-1.5 2.7-2.2 3 1.2 1.6-1.3 3-1.1 6 1.5 .6 1.9 .8 .5 2-2 1.6-3-.7-6 .6-1.5 1.1-.7 2.9 2.2 4.5-1.1 1.6 .7 1.4 0 3 1.9 3-.3 7.6 3.1 1.2-1.3 3.2-.8 1.6 .1 3 1.5 3-.4 3-1 1.4-1.2 6-1.1 3 .4 4.6 2.6 4.4-1 4.6 1.4 4.5 2.9 1.5 .1 1.4-.3 1.6-1.1 4.4-.7 3 .4 1.6-.4 5.2-2.9 2.2-3.7 9.6-5.3 .2-1.5 .8-.5 1.3 .5-.9 3 1 .7 3-2.7 1-2.5 2-2.7 1.6-.7 1.4 .3 4.6-1.5 1.4 .6 3 0 6 3.3 3-.9 3 1.3 1.6-1 1.4 .3 1.9 4-1.1 3 2.2 2.3 1.6 .3 .8 1.9 .6 .2 2.1-1.7-.5-.9-2-.6-.2-1.5-1.2-1.5 .3-1.5 1.5-.9 1.6 .3 2.6 2.1 .8 1.5-.4 .9-1.3 .6 1.6 1.5-.5 1.5-1.6 1.5 .2 .4 1.6-.4 .4-1.5 1-.2 2.4 1.7-2.3 1.5 1 3 1.3 1.5-.2 1.5 .7 1.5 1.7 1.5 3 1.4 1.5-1.1 1.5 .1 3 1.7 1.4-1.1 6 0 3-1.4 3-.6 1.6-1.1 3 .5 1.4-1.4 3-3.7-.3-3.8 .3-.7 2.1-.8-1.2-1.5 1.9-1.5 .2-1.5-.5-1.5 .8-3-.5-1.5 .5-4.5 1.2-1.4zM1621.2 1011.2l.3 1.9 4.1 2 1.6-1.4-.4-2.1-1.2-1.2-3-.2zM1640.6 1001.3l-.7 1.3 .7 3 3.7-1.5-2.1-2.8zM1384.2 1005.7l-1.6 1.6-1.4 .3-1.1 1 .4 3 2.1 1.8 2.1-.3 .4-1.5-1.4-1.5 2.3-3-.4-.8zM1519.2 1085.9l-.5 .6 1.9 1.4 .6-1.4-.6-.8zM1564.2 1094.6l-.5 .9 .5 .8 1.2-.8zM1652.2 983.1l5-.9 .7 .9-.2 1.5-.5 1-3-2.1-1.6 3-.7-.4z"/>
<path fill="#cb3e38" fill-rule="evenodd" d="M1448.6 1002.2l.4 .4 .3 1.5-.1 1.5-.6 .2-1.1-1.7zM1659.3 1004.1l3.9-.4 1.4-.7 0 32.9-1.4-1.2-6 1.3-2 1-1 1.3-.3 1.7 .3 3 1.1 1.5-.5 1.5 .8 1 3 .8 2.2 2.7-.5 3 .5 1.5 .8 1.3 1.6 .5 1.4-1.1 0 10.8-1.4 .6-1.6 2.2-4.4-.8-4.6 1.6-.8-.1-.5-3-3.1-1.5-1.6-1.6-.7 .1-.7 1.5 .8 1.5-.8 .8-1.6-.5-1.4 .6-3-1.3-3 .6-1.5-.3-1.5 .9-3-1.1-3 1-3 2.7-.7 2.6-3.5 6 1.2 1.7 2.9-1.4 1.5 .8 4.2 4.9 .2 1.5-2.8 3-1.6 .4-1.4-.8-1.6 .1-4.4-1.2-1.6-.9-3 .6-3-.4-1.3 .7-.5 1.5-1.2 1.1-1.4 .2-1.6-.5-3 .7-1.4-2.6-1.6 .2-1.4 1.2-.9-.3-3-3 0-1.5-.7-1-1.4 0-4.6 .5-3.5 3.5-2.5 .3-3 2.6-.4-1.4 .4-1.5-1.4-1.5-3-.2-1.6-1.7-3 .8-4.4-.1-1.3-1.8 .3-1.5-.7-3-1.8-3-2.5-8.4-1.5 2.4-2.3 1.5 .2 1.5-1 .7-.7-.7 .9-3-.2-3.1 1.6 .3 3-.7 2.2-2.5-.6-1.5-4.6-5.6-4.6 1.7-1.1 .9 1.1 3-.4 3-3 3 .4 .6 3 0 .5 .9 .1 1.5-1.5 4.5-.5 .7-1.6-.4-.8 1.2 3.9 1.5-1.5 4-.5-1-2.5-.7-1.6-1.6-4.4-.7-1.8-1.5-2.1-6 1.3-3-.4-.3-3-1.3-3-.4-3 1.6-3-.8-1.6 .9-4.4-.8-1.6 .3-.1-2.2-2.9-2.6-1.4-.6-1.6 .6-1.7 2.6-3 1.5 1.8 3 1.5 .9 1.4-.4 .8 2.5 2.8 3 .1 1.5-.2 1.5-2.2 4.5-1.8 1.5-1.3 3-3.4 4.5 .8 2.1 .9 .9-.9 1.5-1.6 .4-3-2-1.4-.1-1.6 .4-1.4 1.7-2.8 1.1 .3 1.5-9.4 0 .6-1.5-.7-2.1-3 .2-1.6-.7-1.4 2.4-1.6 0-.9-1.3-.5-3 1.5-1.5-1.5-1.8-.7-2.7-.9-.4-1.4 1.3-1.6-1.1-1.4 0-3 2.8-1.6-.1-.9-1 .4-1.5-.8-1.5 1.3-.9 3 .4 1.4-1 .9-6-1.2-1.5-.1-1.5 1.6-1.5 2-.2 1.4-4.9 3-.5 1.6 4.1 1.4 .2 1.6-1.2 .1-2 1.8-1.5-.2-1.5-1.3-1.5-1.3-3 .9-.3 .5-1.2-.5-.7-1.6 .7-3-2-1.4-.3-1.6 2.8-1.4-4.4-2-.6-1-1.2-1.9 2.7-.3 3 1 1.5 .7 3 .5 .7 1.4-.6 1.6 1.2 2.6 .2-2.6 1.3-1.6 0-1.4 2.8-3-.3-4.6 2.7-.5-2-2.8-3-1.1-.9-3-.2-2.1-1.9 .5-.7 1.6-.1 1.4 1.2 1.1-1.9-1.1-1.9-1.4-.5-1.6 .4-3-1.1-3 .6-1.4 1 .7 1.5 .7 .9 3 .6 1.4 1.5-1.4 1.2-1.4 .1-3-2.7-1.6 .1-.6 1.3 2.2 1.5-3.4 1.5-1.2 2-1.4-.5-1.6 .2-3-.9-3 .2-3.7 2-.7 1.8-3-2.5-1.6 .5-1.4 2.8-3 1.3-1.6 2.1-3 1.1-.6 1.9-1.8 1.5-2 3.3-2.1-.3-3.3 4.5 1.3 1.5-.7 1.5-3.4 1.5-3.8 3.5-1.6-.2-4.1-3.3-1.5-3 .7-1.5-2.5-3 1.8-1.5 .8-1.5-1.4-3 .5-3-1.7-2.5-5.7 1-1 1.5 .2 1.5-4.1 3.2-4.4 2-1.6 .2-1.4-2.3-1.6 .4-.4-.5 .4-.5 1.6 .5 1.3-1.5 1.9-4.5-.6-1.5-2.9-1.5 .9-3-1-1.5-1.2-1-1.4 .1-1.6 1.5-.7-2.1 2.1-6-.4-1.5-.9-1.5-.2-1.5-1.9-1.5-.8-4.5-2.5-1.5-.7-1-1.4 .1-3 2-.7 1.9-2.3 2.3-.4 2.2-4.1 4.5 1 1.5-1.1 1.5 1.6 2.3 1.4 .7 1.1-1.5 1 0 .9 9-.3 1.5 2.3 3 2 4.5-1 1.4-1.4-.2-6 6.7-1.6 .7 0 3.4-4.4 2.3-3-1.2-1.6 .8-1.1-.4-1.5-1.5-1.8-.7-1.6-1.7-1.4 1.2-1.5-.5-3.1 .2-3-.8 0-11.4 1.6 1.9 2.1 1.3 .9 1.5 1.4-1 1.6-2 1.4 1.5 1.1-1.5-1.1-2.4-1.4-1.1-1.6 .1-3-4.6-.8 .5 0 1.5-.6 1-1.6-.1 0-53.9 1.6-3.1 1.4-.9 1.5 .2 1.5-1.6 0-1.6 3 .1 1.6 1.5 3 1.2-2 3.3 1.7 1.4 1.2 3 2.2 1.5-.4 1.5-2.1 1.5-.8 1.5 3 3 1.6-.3 3 .4 1.6-2.3 4.9-.8 3.7-4.5 .4-2.7 1.4 .2 .8 1-.4 3 1.2 .8 6-.4 1.5 1.1 .5 1.5-.3 1.5 1.3 1.6 4.4-1.8 1.6 1.1 1.4-.1 1.6 .8 3-.7 .9 .6-.8 3 1 1.5 .1 1.5 4.8 3.8 3-1.4 3 .5 2.7-2.9 4.8-3 2.6-3-.7-3 .4-1.5-1.1-3 1-3-.7-.7-3 1.9-1.6-.3-.6-2.4 .4-4.4 2.9-3 1.9-6 1.4-2.7 1.6-1.3 2.3-.5 2.1-2.7 1.6-.3 3 0 1.4-.5 3 1.4 1.6 3.6 1.4 .4 3 3.5 .2 2.1-1.2 1.5 .5 1.5-.5 1.5-2 2.4-1.3 .6 2.6 1.5 .3 1-2.5 3.4 .9 2.2 1.7-.7 1.3-1.7 6-1.3 1.6 2.1 1.4-.3 3 1.1 3-5.7 3-4.3 6 1.3 3-1.9 1.6 3.7 4.4-1.7 2.6-3.2-4-7-.5-2 .6-1.5 1.3-1 3 1.5 3 .1 3-.8 6 1.6 1.6 3.1 1.4 1.1 2.1-1.1 0-1.5 .9-1.3 3 .3 1.6-1.2 1.4-.1 1.5 2.3-.5 4.5 .6 1 2.7 2 .3 2.2 .1-.7 2.4-1.5-1.1-2.9-2.9-3.1 2.4-1.5 .5-3.6 .3 2.1 1.5 1.5 .4 1.5-.5 1.5 1.8 1.5 1.1 2.5-.7 2 .2 1.5-1.1 1.5 3 0 1.6-1.4 3 1.7 1.4-.7 .3 .4-.3 3.5-1.8 2.4 .4 1.7 4.4-.9 3 .9 1.6-.7 1.4-1.7 3-.4 0-.6-1.3-1.3 .8-2.9 3.1-3 1.6-3 4.8-1.7 1.8-1.3 1.2-2.1 1.6-.4 1.7 2.5 8.8 .2 1.5 .8 1.4 2.7 2.3 2.3 .3 3-.7 2.9-1.2 1.5 0 1.5 2.3 1.8 4.6 1.5 1.4-.6 1.6 .1 2.9 4.8 3.1 .7 3.1-.8-.5-3 .4-1.6 1.4 .8 1.6 0 2-.7 .2-1.5-2.9-4.5-.1-1.4 2-3-1.2-.5-1.6 1.3-1.4-.6-1.6-1.9-2.3-1.3 .2-1.5 3.7-2.3 1.8-2.2 4.1-3 4.1 1.5 1.3 1.5 .9 1.5-.9 3 3.7 1.6 .8-3.1 .6-.4 1.6 1.1 1.4 .2 1.5 2.1 .4 3 2.7 1.6 1.8-.1-1.2-1.5 .1-3 .7-1 3 .1 3-2.1-.8-3 .8-2.2 1.6-.7 4.4 .4 7 5.5 1.5 3 3.5 4.2 1.6-.7 3 .7 3-.6 3 .9 3-.4 1.1 .4 1.9 1.9 1.4-.4 1.3 1.4-.2 3 .5 .2 3-3.1 1.4 0 1.6-1 1.6 2.4 .1 1.5 1.3 2.2 4.4 .8 1.2-1.5 .4-1.7 1.4-.7 1.6-.3 1.4 2.9 1-3.2 1.7-1.5 .3-1.4-.7-3 .4-1.5-.5-1.5-3.3-1.5 1.1-.4 .9-1.1-.9-3.2 7.6-8.1zM1483.2 1074.4l1.4 3.4 .9-1.8-.3-1.5-.6-.8zM1332.6 1076l.6 .8 1.4 .5 .8-1.3-.8-.9zM1337.6 1050.2l-.6 1.8 .6 .6 1.6 .6 1.4-1 0-1.7-1.4 .2zM1342.2 1083.3l0 .5 1.4 .9 .7-1.2-.7-.5zM1358.6 1044.8l-.8 1.2 .8 1.4 2.9-1.4 .8-1.5-.7-.4zM1394.6 1078l-.9 1 .9 1.7 2-1.7zM1400.6 1023.9l-.3 1.2 1.2 0zM1424.6 1031.9l-.4 .6 .4 .2 2-.2-.4-.5zM1442.7 1053.5l.1 1.5 1.4 1.7 1.6-3.2zM1463.6 1058l1.6 .8 .8-.8-.9-.4zM1489.2 1022.3l-.9 1.3 .9 .5 .3-.5zM1541.6 1066.9l0 1.9 .6-.3zM1651.2 1033l-.5 1 .5 1.3zM1337 1085l.6 2.2 3 .8 1.3-1.5-1.3-1.5zM1442.6 1065.1l-.4 .4 .4 .8 1.4-.8zM1488.9 1028l1.3 1.5 .8 0-.4-2.3zM1508.6 1055.7l-.5 .8 .5 1.6 .5-1.6zM1577.6 1083.2l0 .6 1.6 .4 .6-.7zM1578.9 1010.1l3.3 .7 4.4-1.6 1 .9 1.3 4.5-.7 2.7-3.9-1.2-2.1-2.9-3-.6-1.3-1zM1359.6 1019.1l2-1.1 1.6 .3 .7 5.3-.6 1.5-1.7 .5-1.4 1.7-1.6 .4-1.1-1.2 .1-1.4 2.1-3zM1478.6 1061l1.3 1.5-.2 1.5-2.5 .9-.6-.9 .5-1.5zM1369.2 1075.4l.7 .6 .3 1.5-.5 1.5-2.1 .5-2.1-.5-.9-1.6 1.6-.2zM1636.2 1081.7l1.4 .6 1.3 1.2-1.3 2.3-3-.1-1.4 1-2.3-.2 .5-1.5 1.8-.5zM1457.6 1094.8l3 .9 3-.5 .7 .3 .5 3-1.3 1.5-8.8 0-.7-1.5 .4-1.5zM1467.3 1095.5l.9-.9 .7 .9-.7 1.3z"/>
<path fill="#bb1b2c" fill-rule="evenodd" d="M1527.8 1026.5l1.8-1.2 2.8 1.2-3 1.5 .2 2.2 3-1.2 3 1.2 6.4 8.3 .7 1.5-1 3 .3 4.5-2.5 6-.8 1.4-2.3 1.6 .3 1.5-1.1 1-1.4-.2-1.6-2-1.5-.4-1.5 .5-1.4 1.8-3 0-1.6 1.4-1.4 .1-1.1-.7 1.9-1.5-.4-1.5 .9-1.5-2.8-1.5-1.2-1.5 4.1-.8 .6-.7-.1-4.5-2.2-1.5 1.4-3 .4-3-2.2-1.5 .3-1.5 1.8 0 1.6 .8 3-2.1 1.4 .6 1.5-.8-3.5-4.5zM1608.8 1032.5l1.8-.4 1.6 1.3 3-1 4.4 .5 1.6 2.4 3 1.5 3 3.2 3-.7 1.4-1 1.6 1.2 3 .2 1.4 1.2 3-2.9 1.6-.2 .8 .7 .6 2.6 1.6 1 .3 .9-.3 1.1-1.1 .4 2.2 6 1.9 .8 1.4-.4 1.6 2 .6 2.1-4.3 4.5-.9 .3-6-1-1.4 .4-.1-1.2-1.5-1.8-1.9 .3-2.6-3-.2-1.5 1.3-1.5-.1-1.5 1.3-1.5 .1-1.5-.9-1.3-.2-1.7-1.2-.9-1.6 0-1.1 .9-1.2 4.5-2.1 1.1-.5 1.9-3.6 3 .1 1.5 1.3 1.5-2.2 1.5-.6 3-2.1 1.5-1.4-.1-2.4 1.6-2.2 2.8 0 1.8-3 2.6-1.4 .9-1.6-1.3-.5 .7 2.4 3-1.9 .6-1.4-.5-.8-1.6-3.8-2.6-1.4 .5-1.6-.2-1.4-1.4-2 .7-2.6 2.3-3-.5-1.4-1.5-.9-1.8 3.9-1.4 0-3.1 1.4-1 1.6 .1 .9-.6-3.9-6.6-1.6 .6-1.4 2-1.6-2 1-1.5 0-1.5-1.2-1.5 3.2-2.6 1.9-.4 1.7-1.5 .2-1.5-.7-3 1.5-3.4 1.4 .5 3-3.8 3-1.3 1.2 3.5 1.6 0 .3-1.5-.5-1.5 .4-1.1 3 .7zM1627.2 1040.5l-.8 2.5 .8 .8 .8-.8zM1636.2 1041.1l-.8 1.9 .7 .3 .5-1.8zM1637.6 1045.3l-1.1 .7 1.1 .4 2-.4zM1589 1041.5l1 0 .5 1.5-.9 .3zM1420.2 1052.2l1.4 .7 .2 .6-.7 1.5-2.6 1.5-4.5 0 1.6-1.5zM1571 1053.5l.6-.5 .8 .5 .9 3 2.2 1.5-.9 1.6-2-.1 .5-3-1.7-1.5zM1398.7 1056.5l.5-.9 1.8 .9-.4 .9-1.4 .3zM1401.1 1058l1.1-.5 .4 .5-.4 1zM1396.2 1058.8l1.4-.6 .7 1.3-.7 .8-1.4-.1zM1584.2 1059.5l1-.7 1.4 .1 1.2 .6 1.9 3-1.5 3-1.6 1-.9-1 0-1.5-.5-.7-2.2-.8zM1568.5 1061l3.1-.7 .5 .7-.5 .8zM1427.6 1061.6l1.4 .9 .1 1.5-1.5 .7-1.4-.3-.6-.4zM1570.1 1064l1.5-.7 1.1 .7 1.2 3-.7 .5zM1387 1065.5l2 1.5-.5 1.5-1.3 .8-1.3-.8zM1577 1067l.6-.4 1.2 .4-1.2 2zM1495.5 1076l1.1-.9 1.1 .9-.2 3 .7 .9 1.7-2.4-.4-1.5 1.7-.9 2.1 2.4-.2 1.5-2 1.5-1.5 2-3 1.7-1.9-.7 1.4-3-.2-1.5-1-1.5z"/>
</g>
<clipPath id="ca"><rect x="147.25" y="80.45" width="339.00" height="448.70"/></clipPath>
<g clip-path="url(#ca)">
<path d="M148.0 101.5H486.0M148.0 123.3H486.0M148.0 143.6H486.0M148.0 163.2H486.0M148.0 181.5H486.0M148.0 199.5H486.0M148.0 216.5H486.0M148.0 233.1H486.0M148.0 249.0H486.0M148.0 264.2H486.0M148.0 278.2H486.0M148.0 291.4H486.0M148.0 304.3H486.0M148.0 317.1H486.0M148.0 328.9H486.0M148.0 340.7H486.0M148.0 351.8H486.0M148.0 361.6H486.0M148.0 370.7H486.0M148.0 381.3H486.0M148.0 389.8H486.0M148.0 398.2H486.0M148.0 406.0H486.0M148.0 413.9H486.0M148.0 421.5H486.0M148.0 428.7H486.0M148.0 435.4H486.0M148.0 442.0H486.0M148.0 447.5H486.0M148.0 454.5H486.0M148.0 460.2H486.0M148.0 464.4H486.0M148.0 470.1H486.0M148.0 475.0H486.0M148.0 479.3H486.0M148.0 481.7H486.0M148.0 484.0H486.0M148.0 486.4H486.0M148.0 488.7H486.0M148.0 491.1H486.0M148.0 493.4H486.0M148.0 495.8H486.0M148.0 498.1H486.0M148.0 500.5H486.0M148.0 502.8H486.0M148.0 505.2H486.0M148.0 507.5H486.0M148.0 509.9H486.0M148.0 512.2H486.0M148.0 514.6H486.0M148.0 516.9H486.0M148.0 519.3H486.0M148.0 521.6H486.0M148.0 524.0H486.0M148.0 526.3H486.0" stroke="#e496e1" stroke-width="4.2" stroke-linecap="round" stroke-dasharray="0 5.1" fill="none"/>
<path d="M148.0 101.5H486.0M148.0 123.3H486.0M148.0 143.6H486.0M148.0 163.2H486.0M148.0 181.5H486.0M148.0 199.5H486.0M148.0 216.5H486.0M148.0 233.1H486.0M148.0 249.0H486.0M148.0 264.2H486.0M148.0 278.2H486.0M148.0 291.4H486.0M148.0 304.3H486.0M148.0 317.1H486.0M148.0 328.9H486.0M148.0 340.7H486.0M148.0 351.8H486.0M148.0 361.6H486.0M148.0 370.7H486.0M148.0 381.3H486.0M148.0 389.8H486.0M148.0 398.2H486.0M148.0 406.0H486.0M148.0 413.9H486.0M148.0 421.5H486.0M148.0 428.7H486.0M148.0 435.4H486.0M148.0 442.0H486.0M148.0 447.5H486.0M148.0 454.5H486.0M148.0 460.2H486.0M148.0 464.4H486.0M148.0 470.1H486.0M148.0 475.0H486.0M148.0 479.3H486.0M148.0 481.7H486.0M148.0 484.0H486.0M148.0 486.4H486.0M148.0 488.7H486.0M148.0 491.1H486.0M148.0 493.4H486.0M148.0 495.8H486.0M148.0 498.1H486.0M148.0 500.5H486.0M148.0 502.8H486.0M148.0 505.2H486.0M148.0 507.5H486.0M148.0 509.9H486.0M148.0 512.2H486.0M148.0 514.6H486.0M148.0 516.9H486.0M148.0 519.3H486.0M148.0 521.6H486.0M148.0 524.0H486.0M148.0 526.3H486.0" stroke="#efbcec" stroke-width="2.0" stroke-linecap="round" stroke-dasharray="0 5.1" fill="none"/>
<path fill="#1f77b4" d="M163.6 98.1l3 3.4-3 3.4-3-3.4zM163.6 119.9l3 3.4-3 3.4-3-3.4zM163.6 140.2l3 3.4-3 3.4-3-3.4zM163.6 159.8l3 3.4-3 3.4-3-3.4zM163.6 178.1l3 3.4-3 3.4-3-3.4zM163.6 196.1l3 3.4-3 3.4-3-3.4zM163.6 213.1l3 3.4-3 3.4-3-3.4zM163.6 229.7l3 3.4-3 3.4-3-3.4zM163.6 245.6l3 3.4-3 3.4-3-3.4zM163.6 260.8l3 3.4-3 3.4-3-3.4zM163.6 274.8l3 3.4-3 3.4-3-3.4zM163.6 288.0l3 3.4-3 3.4-3-3.4zM163.6 300.9l3 3.4-3 3.4-3-3.4zM163.6 313.7l3 3.4-3 3.4-3-3.4zM163.6 325.5l3 3.4-3 3.4-3-3.4zM163.6 337.3l3 3.4-3 3.4-3-3.4zM163.6 348.4l3 3.4-3 3.4-3-3.4zM163.6 358.2l3 3.4-3 3.4-3-3.4zM163.6 367.3l3 3.4-3 3.4-3-3.4zM163.6 377.9l3 3.4-3 3.4-3-3.4zM163.6 386.4l3 3.4-3 3.4-3-3.4zM163.6 394.8l3 3.4-3 3.4-3-3.4zM163.6 402.6l3 3.4-3 3.4-3-3.4zM163.6 410.5l3 3.4-3 3.4-3-3.4zM163.6 418.1l3 3.4-3 3.4-3-3.4zM163.6 425.3l3 3.4-3 3.4-3-3.4zM163.6 432.0l3 3.4-3 3.4-3-3.4zM163.6 438.6l3 3.4-3 3.4-3-3.4zM163.6 444.1l3 3.4-3 3.4-3-3.4zM163.6 451.1l3 3.4-3 3.4-3-3.4zM163.6 456.8l3 3.4-3 3.4-3-3.4zM163.6 461.0l3 3.4-3 3.4-3-3.4zM163.6 466.7l3 3.4-3 3.4-3-3.4zM163.6 471.6l3 3.4-3 3.4-3-3.4zM163.6 475.9l3 3.4-3 3.4-3-3.4zM163.6 478.3l3 3.4-3 3.4-3-3.4zM163.6 480.6l3 3.4-3 3.4-3-3.4zM163.6 483.0l3 3.4-3 3.4-3-3.4zM163.6 485.3l3 3.4-3 3.4-3-3.4zM163.6 487.7l3 3.4-3 3.4-3-3.4zM163.6 490.0l3 3.4-3 3.4-3-3.4zM163.6 492.4l3 3.4-3 3.4-3-3.4zM163.6 494.7l3 3.4-3 3.4-3-3.4zM163.6 497.1l3 3.4-3 3.4-3-3.4zM163.6 499.4l3 3.4-3 3.4-3-3.4zM163.6 501.8l3 3.4-3 3.4-3-3.4zM163.6 504.1l3 3.4-3 3.4-3-3.4zM163.6 506.5l3 3.4-3 3.4-3-3.4zM163.6 508.8l3 3.4-3 3.4-3-3.4zM163.6 511.2l3 3.4-3 3.4-3-3.4zM163.6 513.5l3 3.4-3 3.4-3-3.4zM163.6 515.9l3 3.4-3 3.4-3-3.4zM163.6 518.2l3 3.4-3 3.4-3-3.4zM163.6 520.6l3 3.4-3 3.4-3-3.4zM163.6 522.9l3 3.4-3 3.4-3-3.4zM214.6 98.1l3 3.4-3 3.4-3-3.4zM214.6 119.9l3 3.4-3 3.4-3-3.4zM214.6 140.2l3 3.4-3 3.4-3-3.4zM214.6 159.8l3 3.4-3 3.4-3-3.4zM214.6 178.1l3 3.4-3 3.4-3-3.4zM214.6 196.1l3 3.4-3 3.4-3-3.4zM214.6 213.1l3 3.4-3 3.4-3-3.4zM214.6 229.7l3 3.4-3 3.4-3-3.4zM214.6 245.6l3 3.4-3 3.4-3-3.4zM214.6 260.8l3 3.4-3 3.4-3-3.4zM214.6 274.8l3 3.4-3 3.4-3-3.4zM214.6 288.0l3 3.4-3 3.4-3-3.4zM214.6 300.9l3 3.4-3 3.4-3-3.4zM214.6 313.7l3 3.4-3 3.4-3-3.4zM214.6 325.5l3 3.4-3 3.4-3-3.4zM214.6 337.3l3 3.4-3 3.4-3-3.4zM214.6 348.4l3 3.4-3 3.4-3-3.4zM214.6 358.2l3 3.4-3 3.4-3-3.4zM214.6 367.3l3 3.4-3 3.4-3-3.4zM214.6 377.9l3 3.4-3 3.4-3-3.4zM214.6 386.4l3 3.4-3 3.4-3-3.4zM214.6 394.8l3 3.4-3 3.4-3-3.4zM214.6 402.6l3 3.4-3 3.4-3-3.4zM214.6 410.5l3 3.4-3 3.4-3-3.4zM214.6 418.1l3 3.4-3 3.4-3-3.4zM214.6 425.3l3 3.4-3 3.4-3-3.4zM214.6 432.0l3 3.4-3 3.4-3-3.4zM214.6 438.6l3 3.4-3 3.4-3-3.4zM214.6 444.1l3 3.4-3 3.4-3-3.4zM214.6 451.1l3 3.4-3 3.4-3-3.4zM214.6 456.8l3 3.4-3 3.4-3-3.4zM214.6 461.0l3 3.4-3 3.4-3-3.4zM214.6 466.7l3 3.4-3 3.4-3-3.4zM214.6 471.6l3 3.4-3 3.4-3-3.4zM214.6 475.9l3 3.4-3 3.4-3-3.4zM214.6 478.3l3 3.4-3 3.4-3-3.4zM214.6 480.6l3 3.4-3 3.4-3-3.4zM214.6 483.0l3 3.4-3 3.4-3-3.4zM214.6 485.3l3 3.4-3 3.4-3-3.4zM214.6 487.7l3 3.4-3 3.4-3-3.4zM214.6 490.0l3 3.4-3 3.4-3-3.4zM214.6 492.4l3 3.4-3 3.4-3-3.4zM214.6 494.7l3 3.4-3 3.4-3-3.4zM214.6 497.1l3 3.4-3 3.4-3-3.4zM214.6 499.4l3 3.4-3 3.4-3-3.4zM214.6 501.8l3 3.4-3 3.4-3-3.4zM214.6 504.1l3 3.4-3 3.4-3-3.4zM214.6 506.5l3 3.4-3 3.4-3-3.4zM214.6 508.8l3 3.4-3 3.4-3-3.4zM214.6 511.2l3 3.4-3 3.4-3-3.4zM214.6 513.5l3 3.4-3 3.4-3-3.4zM214.6 515.9l3 3.4-3 3.4-3-3.4zM214.6 518.2l3 3.4-3 3.4-3-3.4zM214.6 520.6l3 3.4-3 3.4-3-3.4zM214.6 522.9l3 3.4-3 3.4-3-3.4zM265.7 98.1l3 3.4-3 3.4-3-3.4zM265.7 119.9l3 3.4-3 3.4-3-3.4zM265.7 140.2l3 3.4-3 3.4-3-3.4zM265.7 159.8l3 3.4-3 3.4-3-3.4zM265.7 178.1l3 3.4-3 3.4-3-3.4zM265.7 196.1l3 3.4-3 3.4-3-3.4zM265.7 213.1l3 3.4-3 3.4-3-3.4zM265.7 229.7l3 3.4-3 3.4-3-3.4zM265.7 245.6l3 3.4-3 3.4-3-3.4zM265.7 260.8l3 3.4-3 3.4-3-3.4zM265.7 274.8l3 3.4-3 3.4-3-3.4zM265.7 288.0l3 3.4-3 3.4-3-3.4zM265.7 300.9l3 3.4-3 3.4-3-3.4zM265.7 313.7l3 3.4-3 3.4-3-3.4zM265.7 325.5l3 3.4-3 3.4-3-3.4zM265.7 337.3l3 3.4-3 3.4-3-3.4zM265.7 348.4l3 3.4-3 3.4-3-3.4zM265.7 358.2l3 3.4-3 3.4-3-3.4zM265.7 367.3l3 3.4-3 3.4-3-3.4zM265.7 377.9l3 3.4-3 3.4-3-3.4zM265.7 386.4l3 3.4-3 3.4-3-3.4zM265.7 394.8l3 3.4-3 3.4-3-3.4zM265.7 402.6l3 3.4-3 3.4-3-3.4zM265.7 410.5l3 3.4-3 3.4-3-3.4zM265.7 418.1l3 3.4-3 3.4-3-3.4zM265.7 425.3l3 3.4-3 3.4-3-3.4zM265.7 432.0l3 3.4-3 3.4-3-3.4zM265.7 438.6l3 3.4-3 3.4-3-3.4zM265.7 444.1l3 3.4-3 3.4-3-3.4zM265.7 451.1l3 3.4-3 3.4-3-3.4zM265.7 456.8l3 3.4-3 3.4-3-3.4zM265.7 461.0l3 3.4-3 3.4-3-3.4zM265.7 466.7l3 3.4-3 3.4-3-3.4zM265.7 471.6l3 3.4-3 3.4-3-3.4zM265.7 475.9l3 3.4-3 3.4-3-3.4zM265.7 478.3l3 3.4-3 3.4-3-3.4zM265.7 480.6l3 3.4-3 3.4-3-3.4zM265.7 483.0l3 3.4-3 3.4-3-3.4zM265.7 485.3l3 3.4-3 3.4-3-3.4zM265.7 487.7l3 3.4-3 3.4-3-3.4zM265.7 490.0l3 3.4-3 3.4-3-3.4zM265.7 492.4l3 3.4-3 3.4-3-3.4zM265.7 494.7l3 3.4-3 3.4-3-3.4zM265.7 497.1l3 3.4-3 3.4-3-3.4zM265.7 499.4l3 3.4-3 3.4-3-3.4zM265.7 501.8l3 3.4-3 3.4-3-3.4zM265.7 504.1l3 3.4-3 3.4-3-3.4zM265.7 506.5l3 3.4-3 3.4-3-3.4zM265.7 508.8l3 3.4-3 3.4-3-3.4zM265.7 511.2l3 3.4-3 3.4-3-3.4zM265.7 513.5l3 3.4-3 3.4-3-3.4zM265.7 515.9l3 3.4-3 3.4-3-3.4zM265.7 518.2l3 3.4-3 3.4-3-3.4zM265.7 520.6l3 3.4-3 3.4-3-3.4zM265.7 522.9l3 3.4-3 3.4-3-3.4zM316.8 98.1l3 3.4-3 3.4-3-3.4zM316.8 119.9l3 3.4-3 3.4-3-3.4zM316.8 140.2l3 3.4-3 3.4-3-3.4zM316.8 159.8l3 3.4-3 3.4-3-3.4zM316.8 178.1l3 3.4-3 3.4-3-3.4zM316.8 196.1l3 3.4-3 3.4-3-3.4zM316.8 213.1l3 3.4-3 3.4-3-3.4zM316.8 229.7l3 3.4-3 3.4-3-3.4zM316.8 245.6l3 3.4-3 3.4-3-3.4zM316.8 260.8l3 3.4-3 3.4-3-3.4zM316.8 274.8l3 3.4-3 3.4-3-3.4zM316.8 288.0l3 3.4-3 3.4-3-3.4zM316.8 300.9l3 3.4-3 3.4-3-3.4zM316.8 313.7l3 3.4-3 3.4-3-3.4zM316.8 325.5l3 3.4-3 3.4-3-3.4zM316.8 337.3l3 3.4-3 3.4-3-3.4zM316.8 348.4l3 3.4-3 3.4-3-3.4zM316.8 358.2l3 3.4-3 3.4-3-3.4zM316.8 367.3l3 3.4-3 3.4-3-3.4zM316.8 377.9l3 3.4-3 3.4-3-3.4zM316.8 386.4l3 3.4-3 3.4-3-3.4zM316.8 394.8l3 3.4-3 3.4-3-3.4zM316.8 402.6l3 3.4-3 3.4-3-3.4zM316.8 410.5l3 3.4-3 3.4-3-3.4zM316.8 418.1l3 3.4-3 3.4-3-3.4zM316.8 425.3l3 3.4-3 3.4-3-3.4zM316.8 432.0l3 3.4-3 3.4-3-3.4zM316.8 438.6l3 3.4-3 3.4-3-3.4zM316.8 444.1l3 3.4-3 3.4-3-3.4zM316.8 451.1l3 3.4-3 3.4-3-3.4zM316.8 456.8l3 3.4-3 3.4-3-3.4zM316.8 461.0l3 3.4-3 3.4-3-3.4zM316.8 466.7l3 3.4-3 3.4-3-3.4zM316.8 471.6l3 3.4-3 3.4-3-3.4zM316.8 475.9l3 3.4-3 3.4-3-3.4zM316.8 478.3l3 3.4-3 3.4-3-3.4zM316.8 480.6l3 3.4-3 3.4-3-3.4zM316.8 483.0l3 3.4-3 3.4-3-3.4zM316.8 485.3l3 3.4-3 3.4-3-3.4zM316.8 487.7l3 3.4-3 3.4-3-3.4zM316.8 490.0l3 3.4-3 3.4-3-3.4zM316.8 492.4l3 3.4-3 3.4-3-3.4zM316.8 494.7l3 3.4-3 3.4-3-3.4zM316.8 497.1l3 3.4-3 3.4-3-3.4zM316.8 499.4l3 3.4-3 3.4-3-3.4zM316.8 501.8l3 3.4-3 3.4-3-3.4zM316.8 504.1l3 3.4-3 3.4-3-3.4zM316.8 506.5l3 3.4-3 3.4-3-3.4zM316.8 508.8l3 3.4-3 3.4-3-3.4zM316.8 511.2l3 3.4-3 3.4-3-3.4zM316.8 513.5l3 3.4-3 3.4-3-3.4zM316.8 515.9l3 3.4-3 3.4-3-3.4zM316.8 518.2l3 3.4-3 3.4-3-3.4zM316.8 520.6l3 3.4-3 3.4-3-3.4zM316.8 522.9l3 3.4-3 3.4-3-3.4zM367.8 98.1l3 3.4-3 3.4-3-3.4zM367.8 119.9l3 3.4-3 3.4-3-3.4zM367.8 140.2l3 3.4-3 3.4-3-3.4zM367.8 159.8l3 3.4-3 3.4-3-3.4zM367.8 178.1l3 3.4-3 3.4-3-3.4zM367.8 196.1l3 3.4-3 3.4-3-3.4zM367.8 213.1l3 3.4-3 3.4-3-3.4zM367.8 229.7l3 3.4-3 3.4-3-3.4zM367.8 245.6l3 3.4-3 3.4-3-3.4zM367.8 260.8l3 3.4-3 3.4-3-3.4zM367.8 274.8l3 3.4-3 3.4-3-3.4zM367.8 288.0l3 3.4-3 3.4-3-3.4zM367.8 300.9l3 3.4-3 3.4-3-3.4zM367.8 313.7l3 3.4-3 3.4-3-3.4zM367.8 325.5l3 3.4-3 3.4-3-3.4zM367.8 337.3l3 3.4-3 3.4-3-3.4zM367.8 348.4l3 3.4-3 3.4-3-3.4zM367.8 358.2l3 3.4-3 3.4-3-3.4zM367.8 367.3l3 3.4-3 3.4-3-3.4zM367.8 377.9l3 3.4-3 3.4-3-3.4zM367.8 386.4l3 3.4-3 3.4-3-3.4zM367.8 394.8l3 3.4-3 3.4-3-3.4zM367.8 402.6l3 3.4-3 3.4-3-3.4zM367.8 410.5l3 3.4-3 3.4-3-3.4zM367.8 418.1l3 3.4-3 3.4-3-3.4zM367.8 425.3l3 3.4-3 3.4-3-3.4zM367.8 432.0l3 3.4-3 3.4-3-3.4zM367.8 438.6l3 3.4-3 3.4-3-3.4zM367.8 444.1l3 3.4-3 3.4-3-3.4zM367.8 451.1l3 3.4-3 3.4-3-3.4zM367.8 456.8l3 3.4-3 3.4-3-3.4zM367.8 461.0l3 3.4-3 3.4-3-3.4zM367.8 466.7l3 3.4-3 3.4-3-3.4zM367.8 471.6l3 3.4-3 3.4-3-3.4zM367.8 475.9l3 3.4-3 3.4-3-3.4zM367.8 478.3l3 3.4-3 3.4-3-3.4zM367.8 480.6l3 3.4-3 3.4-3-3.4zM367.8 483.0l3 3.4-3 3.4-3-3.4zM367.8 485.3l3 3.4-3 3.4-3-3.4zM367.8 487.7l3 3.4-3 3.4-3-3.4zM367.8 490.0l3 3.4-3 3.4-3-3.4zM367.8 492.4l3 3.4-3 3.4-3-3.4zM367.8 494.7l3 3.4-3 3.4-3-3.4zM367.8 497.1l3 3.4-3 3.4-3-3.4zM367.8 499.4l3 3.4-3 3.4-3-3.4zM367.8 501.8l3 3.4-3 3.4-3-3.4zM367.8 504.1l3 3.4-3 3.4-3-3.4zM367.8 506.5l3 3.4-3 3.4-3-3.4zM367.8 508.8l3 3.4-3 3.4-3-3.4zM367.8 511.2l3 3.4-3 3.4-3-3.4zM367.8 513.5l3 3.4-3 3.4-3-3.4zM367.8 515.9l3 3.4-3 3.4-3-3.4zM367.8 518.2l3 3.4-3 3.4-3-3.4zM367.8 520.6l3 3.4-3 3.4-3-3.4zM367.8 522.9l3 3.4-3 3.4-3-3.4zM418.9 98.1l3 3.4-3 3.4-3-3.4zM418.9 119.9l3 3.4-3 3.4-3-3.4zM418.9 140.2l3 3.4-3 3.4-3-3.4zM418.9 159.8l3 3.4-3 3.4-3-3.4zM418.9 178.1l3 3.4-3 3.4-3-3.4zM418.9 196.1l3 3.4-3 3.4-3-3.4zM418.9 213.1l3 3.4-3 3.4-3-3.4zM418.9 229.7l3 3.4-3 3.4-3-3.4zM418.9 245.6l3 3.4-3 3.4-3-3.4zM418.9 260.8l3 3.4-3 3.4-3-3.4zM418.9 274.8l3 3.4-3 3.4-3-3.4zM418.9 288.0l3 3.4-3 3.4-3-3.4zM418.9 300.9l3 3.4-3 3.4-3-3.4zM418.9 313.7l3 3.4-3 3.4-3-3.4zM418.9 325.5l3 3.4-3 3.4-3-3.4zM418.9 337.3l3 3.4-3 3.4-3-3.4zM418.9 348.4l3 3.4-3 3.4-3-3.4zM418.9 358.2l3 3.4-3 3.4-3-3.4zM418.9 367.3l3 3.4-3 3.4-3-3.4zM418.9 377.9l3 3.4-3 3.4-3-3.4zM418.9 386.4l3 3.4-3 3.4-3-3.4zM418.9 394.8l3 3.4-3 3.4-3-3.4zM418.9 402.6l3 3.4-3 3.4-3-3.4zM418.9 410.5l3 3.4-3 3.4-3-3.4zM418.9 418.1l3 3.4-3 3.4-3-3.4zM418.9 425.3l3 3.4-3 3.4-3-3.4zM418.9 432.0l3 3.4-3 3.4-3-3.4zM418.9 438.6l3 3.4-3 3.4-3-3.4zM418.9 444.1l3 3.4-3 3.4-3-3.4zM418.9 451.1l3 3.4-3 3.4-3-3.4zM418.9 456.8l3 3.4-3 3.4-3-3.4zM418.9 461.0l3 3.4-3 3.4-3-3.4zM418.9 466.7l3 3.4-3 3.4-3-3.4zM418.9 471.6l3 3.4-3 3.4-3-3.4zM418.9 475.9l3 3.4-3 3.4-3-3.4zM418.9 478.3l3 3.4-3 3.4-3-3.4zM418.9 480.6l3 3.4-3 3.4-3-3.4zM418.9 483.0l3 3.4-3 3.4-3-3.4zM418.9 485.3l3 3.4-3 3.4-3-3.4zM418.9 487.7l3 3.4-3 3.4-3-3.4zM418.9 490.0l3 3.4-3 3.4-3-3.4zM418.9 492.4l3 3.4-3 3.4-3-3.4zM418.9 494.7l3 3.4-3 3.4-3-3.4zM418.9 497.1l3 3.4-3 3.4-3-3.4zM418.9 499.4l3 3.4-3 3.4-3-3.4zM418.9 501.8l3 3.4-3 3.4-3-3.4zM418.9 504.1l3 3.4-3 3.4-3-3.4zM418.9 506.5l3 3.4-3 3.4-3-3.4zM418.9 508.8l3 3.4-3 3.4-3-3.4zM418.9 511.2l3 3.4-3 3.4-3-3.4zM418.9 513.5l3 3.4-3 3.4-3-3.4zM418.9 515.9l3 3.4-3 3.4-3-3.4zM418.9 518.2l3 3.4-3 3.4-3-3.4zM418.9 520.6l3 3.4-3 3.4-3-3.4zM418.9 522.9l3 3.4-3 3.4-3-3.4zM469.9 98.1l3 3.4-3 3.4-3-3.4zM469.9 119.9l3 3.4-3 3.4-3-3.4zM469.9 140.2l3 3.4-3 3.4-3-3.4zM469.9 159.8l3 3.4-3 3.4-3-3.4zM469.9 178.1l3 3.4-3 3.4-3-3.4zM469.9 196.1l3 3.4-3 3.4-3-3.4zM469.9 213.1l3 3.4-3 3.4-3-3.4zM469.9 229.7l3 3.4-3 3.4-3-3.4zM469.9 245.6l3 3.4-3 3.4-3-3.4zM469.9 260.8l3 3.4-3 3.4-3-3.4zM469.9 274.8l3 3.4-3 3.4-3-3.4zM469.9 288.0l3 3.4-3 3.4-3-3.4zM469.9 300.9l3 3.4-3 3.4-3-3.4zM469.9 313.7l3 3.4-3 3.4-3-3.4zM469.9 325.5l3 3.4-3 3.4-3-3.4zM469.9 337.3l3 3.4-3 3.4-3-3.4zM469.9 348.4l3 3.4-3 3.4-3-3.4zM469.9 358.2l3 3.4-3 3.4-3-3.4zM469.9 367.3l3 3.4-3 3.4-3-3.4zM469.9 377.9l3 3.4-3 3.4-3-3.4zM469.9 386.4l3 3.4-3 3.4-3-3.4zM469.9 394.8l3 3.4-3 3.4-3-3.4zM469.9 402.6l3 3.4-3 3.4-3-3.4zM469.9 410.5l3 3.4-3 3.4-3-3.4zM469.9 418.1l3 3.4-3 3.4-3-3.4zM469.9 425.3l3 3.4-3 3.4-3-3.4zM469.9 432.0l3 3.4-3 3.4-3-3.4zM469.9 438.6l3 3.4-3 3.4-3-3.4zM469.9 444.1l3 3.4-3 3.4-3-3.4zM469.9 451.1l3 3.4-3 3.4-3-3.4zM469.9 456.8l3 3.4-3 3.4-3-3.4zM469.9 461.0l3 3.4-3 3.4-3-3.4zM469.9 466.7l3 3.4-3 3.4-3-3.4zM469.9 471.6l3 3.4-3 3.4-3-3.4zM469.9 475.9l3 3.4-3 3.4-3-3.4zM469.9 478.3l3 3.4-3 3.4-3-3.4zM469.9 480.6l3 3.4-3 3.4-3-3.4zM469.9 483.0l3 3.4-3 3.4-3-3.4zM469.9 485.3l3 3.4-3 3.4-3-3.4zM469.9 487.7l3 3.4-3 3.4-3-3.4zM469.9 490.0l3 3.4-3 3.4-3-3.4zM469.9 492.4l3 3.4-3 3.4-3-3.4zM469.9 494.7l3 3.4-3 3.4-3-3.4zM469.9 497.1l3 3.4-3 3.4-3-3.4zM469.9 499.4l3 3.4-3 3.4-3-3.4zM469.9 501.8l3 3.4-3 3.4-3-3.4zM469.9 504.1l3 3.4-3 3.4-3-3.4zM469.9 506.5l3 3.4-3 3.4-3-3.4zM469.9 508.8l3 3.4-3 3.4-3-3.4zM469.9 511.2l3 3.4-3 3.4-3-3.4zM469.9 513.5l3 3.4-3 3.4-3-3.4zM469.9 515.9l3 3.4-3 3.4-3-3.4zM469.9 518.2l3 3.4-3 3.4-3-3.4zM469.9 520.6l3 3.4-3 3.4-3-3.4zM469.9 522.9l3 3.4-3 3.4-3-3.4z"/>
</g>
<rect x="147.25" y="80.45" width="339.00" height="448.70" fill="none" stroke="#000" stroke-width="2.70"/>
<line x1="136.65" y1="460.14" x2="147.25" y2="460.14" stroke="#000" stroke-width="2.00"/>
<text x="126.0" y="473.6" font-size="35.5" font-family="'DejaVu Serif', 'Liberation Serif', serif" text-anchor="end">0.2</text>
<line x1="136.65" y1="383.48" x2="147.25" y2="383.48" stroke="#000" stroke-width="2.00"/>
<text x="126.0" y="397.0" font-size="35.5" font-family="'DejaVu Serif', 'Liberation Serif', serif" text-anchor="end">0.4</text>
<line x1="136.65" y1="306.82" x2="147.25" y2="306.82" stroke="#000" stroke-width="2.00"/>
<text x="126.0" y="320.3" font-size="35.5" font-family="'DejaVu Serif', 'Liberation Serif', serif" text-anchor="end">0.6</text>
<line x1="136.65" y1="230.16" x2="147.25" y2="230.16" stroke="#000" stroke-width="2.00"/>
<text x="126.0" y="243.7" font-size="35.5" font-family="'DejaVu Serif', 'Liberation Serif', serif" text-anchor="end">0.8</text>
<line x1="136.65" y1="153.50" x2="147.25" y2="153.50" stroke="#000" stroke-width="2.00"/>
<text x="126.0" y="167.0" font-size="35.5" font-family="'DejaVu Serif', 'Liberation Serif', serif" text-anchor="end">1.0</text>
<line x1="189.00" y1="529.15" x2="189.00" y2="539.75" stroke="#000" stroke-width="2.00"/>
<line x1="316.85" y1="529.15" x2="316.85" y2="539.75" stroke="#000" stroke-width="2.00"/>
<line x1="444.70" y1="529.15" x2="444.70" y2="539.75" stroke="#000" stroke-width="2.00"/>
<rect x="736.45" y="80.45" width="339.00" height="448.70" fill="none" stroke="#000" stroke-width="2.70"/>
<line x1="725.85" y1="460.14" x2="736.45" y2="460.14" stroke="#000" stroke-width="2.00"/>
<line x1="725.85" y1="383.48" x2="736.45" y2="383.48" stroke="#000" stroke-width="2.00"/>
<line x1="725.85" y1="306.82" x2="736.45" y2="306.82" stroke="#000" stroke-width="2.00"/>
<line x1="725.85" y1="230.16" x2="736.45" y2="230.16" stroke="#000" stroke-width="2.00"/>
<line x1="725.85" y1="153.50" x2="736.45" y2="153.50" stroke="#000" stroke-width="2.00"/>
<line x1="778.20" y1="529.15" x2="778.20" y2="539.75" stroke="#000" stroke-width="2.00"/>
<line x1="906.05" y1="529.15" x2="906.05" y2="539.75" stroke="#000" stroke-width="2.00"/>
<line x1="1033.90" y1="529.15" x2="1033.90" y2="539.75" stroke="#000" stroke-width="2.00"/>
<rect x="1325.65" y="80.45" width="339.00" height="448.70" fill="none" stroke="#000" stroke-width="2.70"/>
<line x1="1315.05" y1="460.14" x2="1325.65" y2="460.14" stroke="#000" stroke-width="2.00"/>
<line x1="1315.05" y1="383.48" x2="1325.65" y2="383.48" stroke="#000" stroke-width="2.00"/>
<line x1="1315.05" y1="306.82" x2="1325.65" y2="306.82" stroke="#000" stroke-width="2.00"/>
<line x1="1315.05" y1="230.16" x2="1325.65" y2="230.16" stroke="#000" stroke-width="2.00"/>
<line x1="1315.05" y1="153.50" x2="1325.65" y2="153.50" stroke="#000" stroke-width="2.00"/>
<line x1="1367.40" y1="529.15" x2="1367.40" y2="539.75" stroke="#000" stroke-width="2.00"/>
<line x1="1495.25" y1="529.15" x2="1495.25" y2="539.75" stroke="#000" stroke-width="2.00"/>
<line x1="1623.10" y1="529.15" x2="1623.10" y2="539.75" stroke="#000" stroke-width="2.00"/>
<rect x="147.25" y="651.80" width="339.00" height="448.20" fill="none" stroke="#000" stroke-width="2.70"/>
<line x1="136.65" y1="1031.49" x2="147.25" y2="1031.49" stroke="#000" stroke-width="2.00"/>
<text x="126.0" y="1045.0" font-size="35.5" font-family="'DejaVu Serif', 'Liberation Serif', serif" text-anchor="end">0.2</text>
<line x1="136.65" y1="954.83" x2="147.25" y2="954.83" stroke="#000" stroke-width="2.00"/>
<text x="126.0" y="968.3" font-size="35.5" font-family="'DejaVu Serif', 'Liberation Serif', serif" text-anchor="end">0.4</text>
<line x1="136.65" y1="878.17" x2="147.25" y2="878.17" stroke="#000" stroke-width="2.00"/>
<text x="126.0" y="891.7" font-size="35.5" font-family="'DejaVu Serif', 'Liberation Serif', serif" text-anchor="end">0.6</text>
<line x1="136.65" y1="801.51" x2="147.25" y2="801.51" stroke="#000" stroke-width="2.00"/>
<text x="126.0" y="815.0" font-size="35.5" font-family="'DejaVu Serif', 'Liberation Serif', serif" text-anchor="end">0.8</text>
<line x1="136.65" y1="724.85" x2="147.25" y2="724.85" stroke="#000" stroke-width="2.00"/>
<text x="126.0" y="738.3" font-size="35.5" font-family="'DejaVu Serif', 'Liberation Serif', serif" text-anchor="end">1.0</text>
<line x1="189.00" y1="1100.00" x2="189.00" y2="1110.60" stroke="#000" stroke-width="2.00"/>
<text x="188.6" y="1148.6" font-size="35.5" font-family="'DejaVu Serif', 'Liberation Serif', serif" text-anchor="middle">19.1</text>
<line x1="316.85" y1="1100.00" x2="316.85" y2="1110.60" stroke="#000" stroke-width="2.00"/>
<text x="316.4" y="1148.6" font-size="35.5" font-family="'DejaVu Serif', 'Liberation Serif', serif" text-anchor="middle">19.2</text>
<line x1="444.70" y1="1100.00" x2="444.70" y2="1110.60" stroke="#000" stroke-width="2.00"/>
<text x="444.3" y="1148.6" font-size="35.5" font-family="'DejaVu Serif', 'Liberation Serif', serif" text-anchor="middle">19.3</text>
<rect x="736.45" y="651.80" width="339.00" height="448.20" fill="none" stroke="#000" stroke-width="2.70"/>
<line x1="725.85" y1="1031.49" x2="736.45" y2="1031.49" stroke="#000" stroke-width="2.00"/>
<line x1="725.85" y1="954.83" x2="736.45" y2="954.83" stroke="#000" stroke-width="2.00"/>
<line x1="725.85" y1="878.17" x2="736.45" y2="878.17" stroke="#000" stroke-width="2.00"/>
<line x1="725.85" y1="801.51" x2="736.45" y2="801.51" stroke="#000" stroke-width="2.00"/>
<line x1="725.85" y1="724.85" x2="736.45" y2="724.85" stroke="#000" stroke-width="2.00"/>
<line x1="778.20" y1="1100.00" x2="778.20" y2="1110.60" stroke="#000" stroke-width="2.00"/>
<text x="777.8" y="1148.6" font-size="35.5" font-family="'DejaVu Serif', 'Liberation Serif', serif" text-anchor="middle">19.1</text>
<line x1="906.05" y1="1100.00" x2="906.05" y2="1110.60" stroke="#000" stroke-width="2.00"/>
<text x="905.6" y="1148.6" font-size="35.5" font-family="'DejaVu Serif', 'Liberation Serif', serif" text-anchor="middle">19.2</text>
<line x1="1033.90" y1="1100.00" x2="1033.90" y2="1110.60" stroke="#000" stroke-width="2.00"/>
<text x="1033.5" y="1148.6" font-size="35.5" font-family="'DejaVu Serif', 'Liberation Serif', serif" text-anchor="middle">19.3</text>
<rect x="1325.65" y="651.80" width="339.00" height="448.20" fill="none" stroke="#000" stroke-width="2.70"/>
<line x1="1315.05" y1="1031.49" x2="1325.65" y2="1031.49" stroke="#000" stroke-width="2.00"/>
<line x1="1315.05" y1="954.83" x2="1325.65" y2="954.83" stroke="#000" stroke-width="2.00"/>
<line x1="1315.05" y1="878.17" x2="1325.65" y2="878.17" stroke="#000" stroke-width="2.00"/>
<line x1="1315.05" y1="801.51" x2="1325.65" y2="801.51" stroke="#000" stroke-width="2.00"/>
<line x1="1315.05" y1="724.85" x2="1325.65" y2="724.85" stroke="#000" stroke-width="2.00"/>
<line x1="1367.40" y1="1100.00" x2="1367.40" y2="1110.60" stroke="#000" stroke-width="2.00"/>
<text x="1367.0" y="1148.6" font-size="35.5" font-family="'DejaVu Serif', 'Liberation Serif', serif" text-anchor="middle">19.1</text>
<line x1="1495.25" y1="1100.00" x2="1495.25" y2="1110.60" stroke="#000" stroke-width="2.00"/>
<text x="1494.8" y="1148.6" font-size="35.5" font-family="'DejaVu Serif', 'Liberation Serif', serif" text-anchor="middle">19.2</text>
<line x1="1623.10" y1="1100.00" x2="1623.10" y2="1110.60" stroke="#000" stroke-width="2.00"/>
<text x="1622.7" y="1148.6" font-size="35.5" font-family="'DejaVu Serif', 'Liberation Serif', serif" text-anchor="middle">19.3</text>
<rect x="1120.75" y="511.59" width="22.50" height="17.86" fill="#3f53c6"/>
<rect x="1120.75" y="494.33" width="22.50" height="17.86" fill="#4b64d5"/>
<rect x="1120.75" y="477.08" width="22.50" height="17.86" fill="#5875e1"/>
<rect x="1120.75" y="459.82" width="22.50" height="17.86" fill="#6485ec"/>
<rect x="1120.75" y="442.56" width="22.50" height="17.86" fill="#7295f4"/>
<rect x="1120.75" y="425.30" width="22.50" height="17.86" fill="#80a3fa"/>
<rect x="1120.75" y="408.05" width="22.50" height="17.86" fill="#8db0fe"/>
<rect x="1120.75" y="390.79" width="22.50" height="17.86" fill="#9abbff"/>
<rect x="1120.75" y="373.53" width="22.50" height="17.86" fill="#a7c5fe"/>
<rect x="1120.75" y="356.27" width="22.50" height="17.86" fill="#b5cdfa"/>
<rect x="1120.75" y="339.02" width="22.50" height="17.86" fill="#c1d4f4"/>
<rect x="1120.75" y="321.76" width="22.50" height="17.86" fill="#cdd9ec"/>
<rect x="1120.75" y="304.50" width="22.50" height="17.86" fill="#d8dce2"/>
<rect x="1120.75" y="287.24" width="22.50" height="17.86" fill="#e1dad6"/>
<rect x="1120.75" y="269.98" width="22.50" height="17.86" fill="#ead4c8"/>
<rect x="1120.75" y="252.73" width="22.50" height="17.86" fill="#f1ccb8"/>
<rect x="1120.75" y="235.47" width="22.50" height="17.86" fill="#f5c1a9"/>
<rect x="1120.75" y="218.21" width="22.50" height="17.86" fill="#f7b599"/>
<rect x="1120.75" y="200.95" width="22.50" height="17.86" fill="#f7a889"/>
<rect x="1120.75" y="183.70" width="22.50" height="17.86" fill="#f4987a"/>
<rect x="1120.75" y="166.44" width="22.50" height="17.86" fill="#f08a6c"/>
<rect x="1120.75" y="149.18" width="22.50" height="17.86" fill="#e9785d"/>
<rect x="1120.75" y="131.92" width="22.50" height="17.86" fill="#e0654f"/>
<rect x="1120.75" y="114.67" width="22.50" height="17.86" fill="#d55042"/>
<rect x="1120.75" y="97.41" width="22.50" height="17.86" fill="#c83836"/>
<rect x="1120.75" y="80.15" width="22.50" height="17.86" fill="#ba162b"/>
<rect x="1120.75" y="80.45" width="22.50" height="448.70" fill="none" stroke="#000" stroke-width="2.70"/>
<line x1="1143.25" y1="529.15" x2="1153.85" y2="529.15" stroke="#000" stroke-width="2.00"/>
<text x="1163.5" y="542.6" font-size="35.5" font-family="'DejaVu Serif', 'Liberation Serif', serif">0.5</text>
<line x1="1143.25" y1="373.83" x2="1153.85" y2="373.83" stroke="#000" stroke-width="2.00"/>
<text x="1163.5" y="387.3" font-size="35.5" font-family="'DejaVu Serif', 'Liberation Serif', serif">0.7</text>
<line x1="1143.25" y1="218.51" x2="1153.85" y2="218.51" stroke="#000" stroke-width="2.00"/>
<text x="1163.5" y="232.0" font-size="35.5" font-family="'DejaVu Serif', 'Liberation Serif', serif">0.9</text>
<rect x="1709.95" y="510.15" width="22.50" height="19.30" fill="#4055c8"/>
<rect x="1709.95" y="491.46" width="22.50" height="19.30" fill="#4e68d8"/>
<rect x="1709.95" y="472.76" width="22.50" height="19.30" fill="#5a78e4"/>
<rect x="1709.95" y="454.07" width="22.50" height="19.30" fill="#688aef"/>
<rect x="1709.95" y="435.37" width="22.50" height="19.30" fill="#779af7"/>
<rect x="1709.95" y="416.68" width="22.50" height="19.30" fill="#85a8fc"/>
<rect x="1709.95" y="397.98" width="22.50" height="19.30" fill="#94b6ff"/>
<rect x="1709.95" y="379.28" width="22.50" height="19.30" fill="#a3c2fe"/>
<rect x="1709.95" y="360.59" width="22.50" height="19.30" fill="#b1cbfc"/>
<rect x="1709.95" y="341.89" width="22.50" height="19.30" fill="#bfd3f6"/>
<rect x="1709.95" y="323.20" width="22.50" height="19.30" fill="#ccd9ed"/>
<rect x="1709.95" y="304.50" width="22.50" height="19.30" fill="#d7dce3"/>
<rect x="1709.95" y="285.80" width="22.50" height="19.30" fill="#e2dad5"/>
<rect x="1709.95" y="267.11" width="22.50" height="19.30" fill="#ecd3c5"/>
<rect x="1709.95" y="248.41" width="22.50" height="19.30" fill="#f2cab5"/>
<rect x="1709.95" y="229.72" width="22.50" height="19.30" fill="#f6bea4"/>
<rect x="1709.95" y="211.02" width="22.50" height="19.30" fill="#f7b093"/>
<rect x="1709.95" y="192.32" width="22.50" height="19.30" fill="#f6a283"/>
<rect x="1709.95" y="173.63" width="22.50" height="19.30" fill="#f29072"/>
<rect x="1709.95" y="154.93" width="22.50" height="19.30" fill="#eb7d62"/>
<rect x="1709.95" y="136.24" width="22.50" height="19.30" fill="#e36b54"/>
<rect x="1709.95" y="117.54" width="22.50" height="19.30" fill="#d75445"/>
<rect x="1709.95" y="98.85" width="22.50" height="19.30" fill="#ca3b37"/>
<rect x="1709.95" y="80.15" width="22.50" height="19.30" fill="#bb1b2c"/>
<rect x="1709.95" y="80.45" width="22.50" height="448.70" fill="none" stroke="#000" stroke-width="2.70"/>
<line x1="1732.45" y1="529.15" x2="1743.05" y2="529.15" stroke="#000" stroke-width="2.00"/>
<text x="1752.7" y="542.6" font-size="35.5" font-family="'DejaVu Serif', 'Liberation Serif', serif">0.00</text>
<line x1="1732.45" y1="360.89" x2="1743.05" y2="360.89" stroke="#000" stroke-width="2.00"/>
<text x="1752.7" y="374.4" font-size="35.5" font-family="'DejaVu Serif', 'Liberation Serif', serif">2.25</text>
<line x1="1732.45" y1="192.62" x2="1743.05" y2="192.62" stroke="#000" stroke-width="2.00"/>
<text x="1752.7" y="206.1" font-size="35.5" font-family="'DejaVu Serif', 'Liberation Serif', serif">4.50</text>
<rect x="531.55" y="1081.03" width="22.50" height="19.28" fill="#4055c8"/>
<rect x="531.55" y="1062.35" width="22.50" height="19.28" fill="#4e68d8"/>
<rect x="531.55" y="1043.68" width="22.50" height="19.28" fill="#5a78e4"/>
<rect x="531.55" y="1025.00" width="22.50" height="19.28" fill="#688aef"/>
<rect x="531.55" y="1006.33" width="22.50" height="19.28" fill="#779af7"/>
<rect x="531.55" y="987.65" width="22.50" height="19.28" fill="#85a8fc"/>
<rect x="531.55" y="968.98" width="22.50" height="19.28" fill="#94b6ff"/>
<rect x="531.55" y="950.30" width="22.50" height="19.28" fill="#a3c2fe"/>
<rect x="531.55" y="931.63" width="22.50" height="19.28" fill="#b1cbfc"/>
<rect x="531.55" y="912.95" width="22.50" height="19.28" fill="#bfd3f6"/>
<rect x="531.55" y="894.28" width="22.50" height="19.28" fill="#ccd9ed"/>
<rect x="531.55" y="875.60" width="22.50" height="19.28" fill="#d7dce3"/>
<rect x="531.55" y="856.93" width="22.50" height="19.28" fill="#e2dad5"/>
<rect x="531.55" y="838.25" width="22.50" height="19.28" fill="#ecd3c5"/>
<rect x="531.55" y="819.58" width="22.50" height="19.28" fill="#f2cab5"/>
<rect x="531.55" y="800.90" width="22.50" height="19.28" fill="#f6bea4"/>
<rect x="531.55" y="782.23" width="22.50" height="19.28" fill="#f7b093"/>
<rect x="531.55" y="763.55" width="22.50" height="19.28" fill="#f6a283"/>
<rect x="531.55" y="744.88" width="22.50" height="19.28" fill="#f29072"/>
<rect x="531.55" y="726.20" width="22.50" height="19.28" fill="#eb7d62"/>
<rect x="531.55" y="707.53" width="22.50" height="19.28" fill="#e36b54"/>
<rect x="531.55" y="688.85" width="22.50" height="19.28" fill="#d75445"/>
<rect x="531.55" y="670.18" width="22.50" height="19.28" fill="#ca3b37"/>
<rect x="531.55" y="651.50" width="22.50" height="19.28" fill="#bb1b2c"/>
<rect x="531.55" y="651.80" width="22.50" height="448.20" fill="none" stroke="#000" stroke-width="2.70"/>
<line x1="554.05" y1="1006.62" x2="564.65" y2="1006.62" stroke="#000" stroke-width="2.00"/>
<text x="574.2" y="1020.1" font-size="35.5" font-family="'DejaVu Serif', 'Liberation Serif', serif">−1.08</text>
<line x1="554.05" y1="838.55" x2="564.65" y2="838.55" stroke="#000" stroke-width="2.00"/>
<text x="574.2" y="852.0" font-size="35.5" font-family="'DejaVu Serif', 'Liberation Serif', serif">−0.54</text>
<line x1="554.05" y1="670.47" x2="564.65" y2="670.47" stroke="#000" stroke-width="2.00"/>
<text x="574.2" y="684.0" font-size="35.5" font-family="'DejaVu Serif', 'Liberation Serif', serif">0.00</text>
<rect x="1120.75" y="1078.36" width="22.50" height="21.94" fill="#4257c9"/>
<rect x="1120.75" y="1057.01" width="22.50" height="21.94" fill="#506bda"/>
<rect x="1120.75" y="1035.67" width="22.50" height="21.94" fill="#5f7fe8"/>
<rect x="1120.75" y="1014.33" width="22.50" height="21.94" fill="#6f92f3"/>
<rect x="1120.75" y="992.99" width="22.50" height="21.94" fill="#80a3fa"/>
<rect x="1120.75" y="971.64" width="22.50" height="21.94" fill="#92b4fe"/>
<rect x="1120.75" y="950.30" width="22.50" height="21.94" fill="#a2c1ff"/>
<rect x="1120.75" y="928.96" width="22.50" height="21.94" fill="#b2ccfb"/>
<rect x="1120.75" y="907.61" width="22.50" height="21.94" fill="#c1d4f4"/>
<rect x="1120.75" y="886.27" width="22.50" height="21.94" fill="#cfdaea"/>
<rect x="1120.75" y="864.93" width="22.50" height="21.94" fill="#dddcdc"/>
<rect x="1120.75" y="843.59" width="22.50" height="21.94" fill="#e9d5cb"/>
<rect x="1120.75" y="822.24" width="22.50" height="21.94" fill="#f1ccb8"/>
<rect x="1120.75" y="800.90" width="22.50" height="21.94" fill="#f6bfa6"/>
<rect x="1120.75" y="779.56" width="22.50" height="21.94" fill="#f7b093"/>
<rect x="1120.75" y="758.21" width="22.50" height="21.94" fill="#f59f80"/>
<rect x="1120.75" y="736.87" width="22.50" height="21.94" fill="#f08a6c"/>
<rect x="1120.75" y="715.53" width="22.50" height="21.94" fill="#e7745b"/>
<rect x="1120.75" y="694.19" width="22.50" height="21.94" fill="#dc5d4a"/>
<rect x="1120.75" y="672.84" width="22.50" height="21.94" fill="#cd423b"/>
<rect x="1120.75" y="651.50" width="22.50" height="21.94" fill="#bd1f2d"/>
<rect x="1120.75" y="651.80" width="22.50" height="448.20" fill="none" stroke="#000" stroke-width="2.70"/>
<line x1="1143.25" y1="1100.00" x2="1153.85" y2="1100.00" stroke="#000" stroke-width="2.00"/>
<text x="1163.5" y="1113.5" font-size="35.5" font-family="'DejaVu Serif', 'Liberation Serif', serif">0.0</text>
<line x1="1143.25" y1="929.26" x2="1153.85" y2="929.26" stroke="#000" stroke-width="2.00"/>
<text x="1163.5" y="942.8" font-size="35.5" font-family="'DejaVu Serif', 'Liberation Serif', serif">3.2</text>
<line x1="1143.25" y1="758.51" x2="1153.85" y2="758.51" stroke="#000" stroke-width="2.00"/>
<text x="1163.5" y="772.0" font-size="35.5" font-family="'DejaVu Serif', 'Liberation Serif', serif">6.4</text>
<rect x="1709.95" y="1080.21" width="22.50" height="20.09" fill="#4055c8"/>
<rect x="1709.95" y="1060.73" width="22.50" height="20.09" fill="#4e68d8"/>
<rect x="1709.95" y="1041.24" width="22.50" height="20.09" fill="#5b7ae5"/>
<rect x="1709.95" y="1021.75" width="22.50" height="20.09" fill="#6a8bef"/>
<rect x="1709.95" y="1002.27" width="22.50" height="20.09" fill="#7a9df8"/>
<rect x="1709.95" y="982.78" width="22.50" height="20.09" fill="#89acfd"/>
<rect x="1709.95" y="963.29" width="22.50" height="20.09" fill="#98b9ff"/>
<rect x="1709.95" y="943.80" width="22.50" height="20.09" fill="#a7c5fe"/>
<rect x="1709.95" y="924.32" width="22.50" height="20.09" fill="#b6cefa"/>
<rect x="1709.95" y="904.83" width="22.50" height="20.09" fill="#c4d5f3"/>
<rect x="1709.95" y="885.34" width="22.50" height="20.09" fill="#d1dae9"/>
<rect x="1709.95" y="865.86" width="22.50" height="20.09" fill="#dddcdc"/>
<rect x="1709.95" y="846.37" width="22.50" height="20.09" fill="#e8d6cc"/>
<rect x="1709.95" y="826.88" width="22.50" height="20.09" fill="#f0cdbb"/>
<rect x="1709.95" y="807.40" width="22.50" height="20.09" fill="#f5c2aa"/>
<rect x="1709.95" y="787.91" width="22.50" height="20.09" fill="#f7b599"/>
<rect x="1709.95" y="768.42" width="22.50" height="20.09" fill="#f7a688"/>
<rect x="1709.95" y="748.93" width="22.50" height="20.09" fill="#f39577"/>
<rect x="1709.95" y="729.45" width="22.50" height="20.09" fill="#ed8366"/>
<rect x="1709.95" y="709.96" width="22.50" height="20.09" fill="#e36c55"/>
<rect x="1709.95" y="690.47" width="22.50" height="20.09" fill="#d85646"/>
<rect x="1709.95" y="670.99" width="22.50" height="20.09" fill="#cb3e38"/>
<rect x="1709.95" y="651.50" width="22.50" height="20.09" fill="#bb1b2c"/>
<rect x="1709.95" y="651.80" width="22.50" height="448.20" fill="none" stroke="#000" stroke-width="2.70"/>
<line x1="1732.45" y1="1100.00" x2="1743.05" y2="1100.00" stroke="#000" stroke-width="2.00"/>
<text x="1752.7" y="1113.5" font-size="35.5" font-family="'DejaVu Serif', 'Liberation Serif', serif">0.00</text>
<line x1="1732.45" y1="944.10" x2="1743.05" y2="944.10" stroke="#000" stroke-width="2.00"/>
<text x="1752.7" y="957.6" font-size="35.5" font-family="'DejaVu Serif', 'Liberation Serif', serif">0.64</text>
<line x1="1732.45" y1="788.21" x2="1743.05" y2="788.21" stroke="#000" stroke-width="2.00"/>
<text x="1752.7" y="801.7" font-size="35.5" font-family="'DejaVu Serif', 'Liberation Serif', serif">1.28</text>
<text x="1622.50" y="72.00" font-size="35.5" font-family="'DejaVu Serif', 'Liberation Serif', serif">×10<tspan font-size="24.4" dy="-12.6">−3</tspan></text>
<text x="444.10" y="642.70" font-size="35.5" font-family="'DejaVu Serif', 'Liberation Serif', serif">×10<tspan font-size="24.4" dy="-12.6">−3</tspan></text>
<text x="1033.30" y="642.70" font-size="35.5" font-family="'DejaVu Serif', 'Liberation Serif', serif">×10<tspan font-size="24.4" dy="-12.6">−3</tspan></text>
<text x="1622.50" y="642.70" font-size="35.5" font-family="'DejaVu Serif', 'Liberation Serif', serif">×10<tspan font-size="24.4" dy="-12.6">−3</tspan></text>
<text x="38.1" y="56.4" font-size="49.0" font-family="'Latin Modern Roman', 'LM Roman 10', 'Liberation Serif', serif">(a)</text>
<text x="630.0" y="56.4" font-size="49.0" font-family="'Latin Modern Roman', 'LM Roman 10', 'Liberation Serif', serif">(b)</text>
<text x="1222.3" y="56.4" font-size="49.0" font-family="'Latin Modern Roman', 'LM Roman 10', 'Liberation Serif', serif">(c)</text>
<text x="38.1" y="611.2" font-size="49.0" font-family="'Latin Modern Roman', 'LM Roman 10', 'Liberation Serif', serif">(d)</text>
<text x="630.0" y="611.2" font-size="49.0" font-family="'Latin Modern Roman', 'LM Roman 10', 'Liberation Serif', serif">(e)</text>
<text x="1222.3" y="611.2" font-size="49.0" font-family="'Latin Modern Roman', 'LM Roman 10', 'Liberation Serif', serif">(f)</text>
<text x="890.0" y="62.7" font-size="42.5" font-family="'DejaVu Sans', 'Liberation Sans', sans-serif" font-style="oblique">U</text>
<text transform="translate(899.01 58.20) scale(1 1.159)" font-size="44.55" font-family="'DejaVu Sans', 'Liberation Sans', sans-serif">ˆ</text>
<text x="1479.9" y="62.5" font-size="42.5" font-family="'DejaVu Sans', 'Liberation Sans', sans-serif" font-style="oblique">V</text>
<text transform="translate(1488.15 50.61) scale(1 1.093)" font-size="38.78" font-family="'DejaVu Sans', 'Liberation Sans', sans-serif">ˆ</text>
<text x="290.3" y="633.8" font-size="42.5" font-family="'DejaVu Sans', 'Liberation Sans', sans-serif" font-style="oblique">uv</text>
<text transform="translate(311.64 632.09) scale(1 1.100)" font-size="41.03" font-family="'DejaVu Sans', 'Liberation Sans', sans-serif">ˆ</text>
<text x="879.5" y="633.8" font-size="42.5" font-family="'DejaVu Sans', 'Liberation Sans', sans-serif" font-style="oblique">uu</text>
<text transform="translate(903.34 632.09) scale(1 1.100)" font-size="41.03" font-family="'DejaVu Sans', 'Liberation Sans', sans-serif">ˆ</text>
<text x="1470.2" y="633.8" font-size="42.5" font-family="'DejaVu Sans', 'Liberation Sans', sans-serif" font-style="oblique">vv</text>
<text transform="translate(1491.64 632.09) scale(1 1.100)" font-size="41.03" font-family="'DejaVu Sans', 'Liberation Sans', sans-serif">ˆ</text>
<text transform="translate(50.1 304.7) rotate(-90)" font-size="35" font-family="'DejaVu Sans', 'Liberation Sans', sans-serif" text-anchor="middle"><tspan font-style="oblique">y</tspan><tspan font-family="'DejaVu Serif', 'Liberation Serif', serif">/</tspan><tspan font-style="oblique">δ</tspan></text>
<text transform="translate(50.1 875.8) rotate(-90)" font-size="35" font-family="'DejaVu Sans', 'Liberation Sans', sans-serif" text-anchor="middle"><tspan font-style="oblique">y</tspan><tspan font-family="'DejaVu Serif', 'Liberation Serif', serif">/</tspan><tspan font-style="oblique">δ</tspan></text>
<text x="315.9" y="1194.4" font-size="35" font-family="'DejaVu Sans', 'Liberation Sans', sans-serif" font-style="oblique" text-anchor="middle">x</text>
<text x="905.2" y="1194.4" font-size="35" font-family="'DejaVu Sans', 'Liberation Sans', sans-serif" font-style="oblique" text-anchor="middle">x</text>
<text x="1494.4" y="1194.4" font-size="35" font-family="'DejaVu Sans', 'Liberation Sans', sans-serif" font-style="oblique" text-anchor="middle">x</text>
</svg>
</body></html>
